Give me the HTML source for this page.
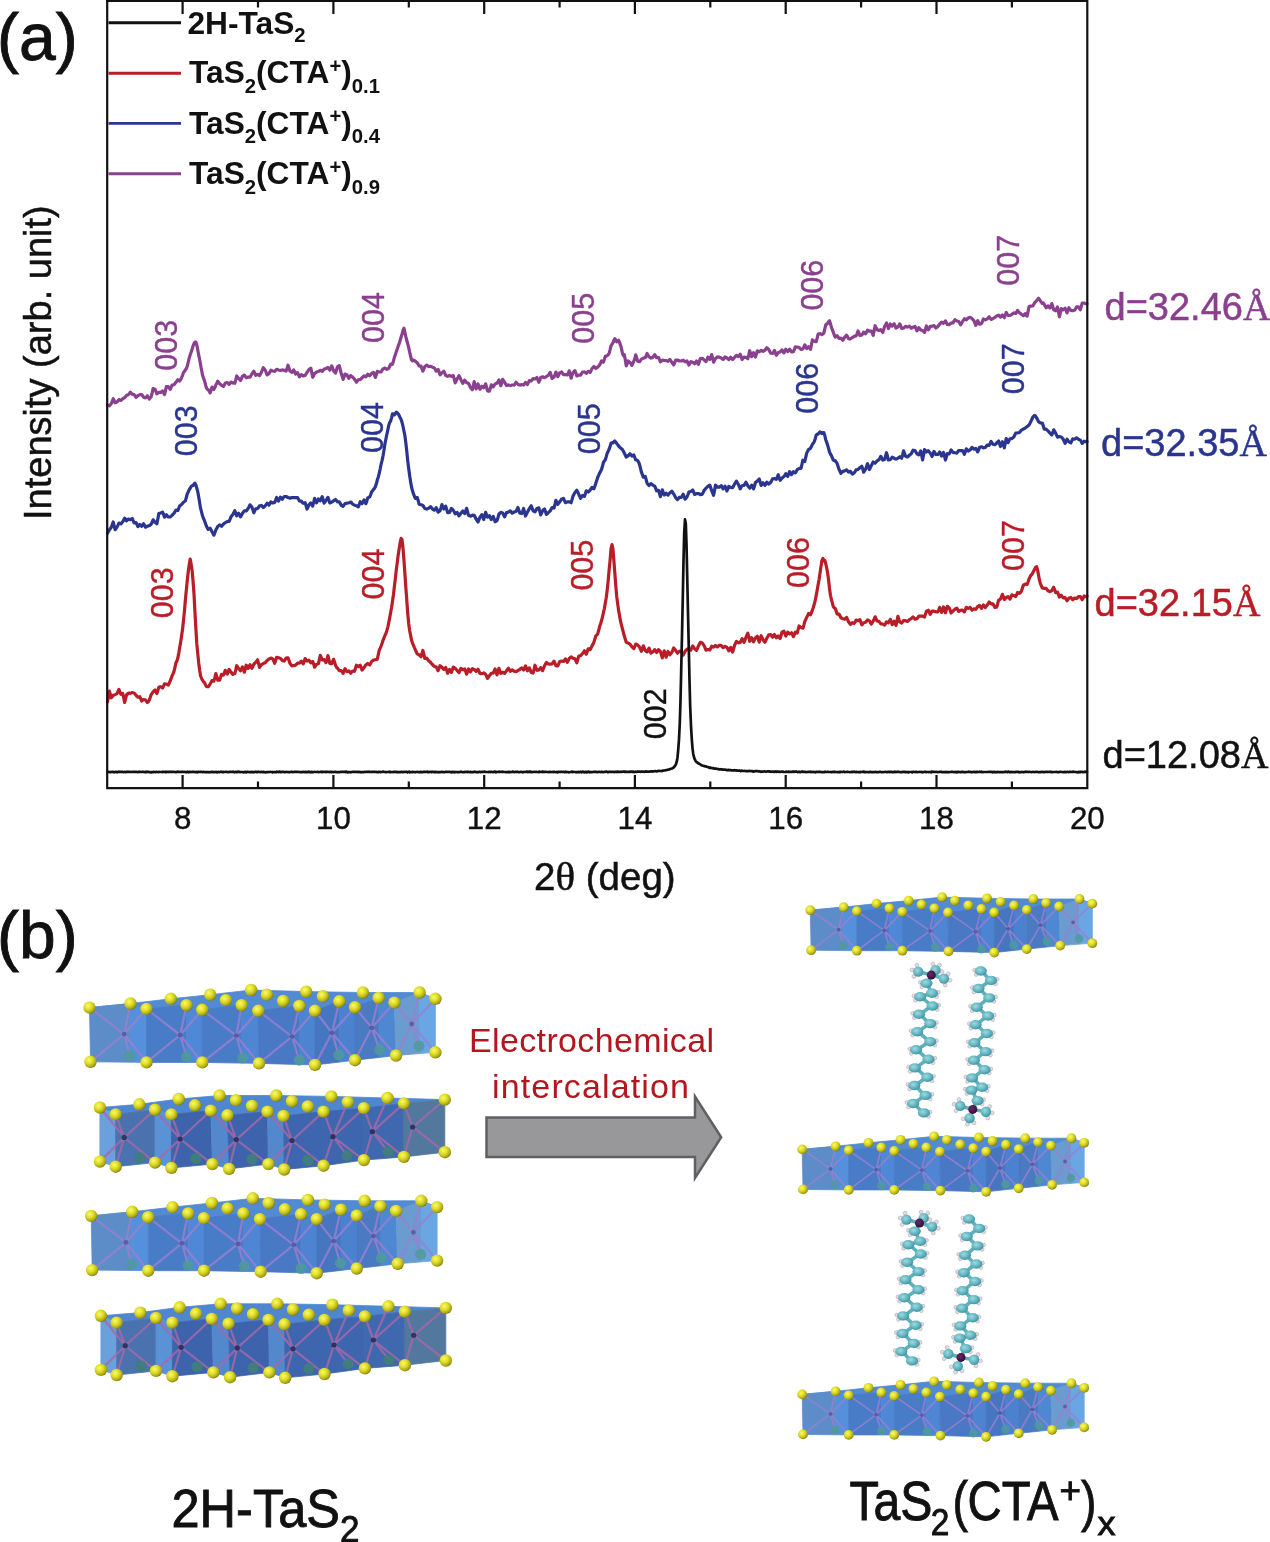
<!DOCTYPE html>
<html><head><meta charset="utf-8"><title>XRD patterns and intercalation schematic</title>
<style>
html,body{margin:0;padding:0;background:#fff;}
body{width:1270px;height:1542px;overflow:hidden;font-family:"Liberation Sans",sans-serif;}
svg{display:block;position:absolute;left:0;top:0;}
svg text{font-family:"Liberation Sans",sans-serif;}
</style></head><body>
<svg width="1270" height="1542" viewBox="0 0 1270 1542">
<rect width="1270" height="1542" fill="#fff"/>
<g fill="none" stroke-linejoin="round" stroke-linecap="round">
<path d="M107.5 405.3L108.5 405.5L109.4 405.8L110.4 404.7L111.3 403.6L112.3 401.1L113.2 398.7L114.2 400.8L115.1 402.8L116.1 402.4L117.0 402.0L118.0 400.8L118.9 399.6L119.9 400.0L120.8 400.4L121.8 399.6L122.7 398.8L123.7 398.2L124.6 397.7L125.6 396.6L126.5 395.5L127.5 395.1L128.4 394.6L129.4 393.4L130.3 392.2L131.3 393.2L132.2 394.2L133.2 394.4L134.1 394.6L135.1 396.0L136.0 397.4L137.0 396.5L137.9 395.6L138.9 395.2L139.8 394.7L140.8 394.7L141.7 394.6L142.7 395.9L143.6 397.2L144.6 397.6L145.5 397.9L146.5 396.9L147.4 395.8L148.4 397.4L149.3 399.0L150.3 397.8L151.2 396.7L152.2 392.7L153.1 388.6L154.1 388.9L155.0 389.2L156.0 391.5L156.9 393.8L157.9 393.1L158.8 392.4L159.8 392.4L160.7 392.4L161.7 391.6L162.6 390.9L163.6 392.7L164.5 394.5L165.5 390.6L166.4 386.6L167.4 386.6L168.3 386.7L169.3 388.0L170.2 389.4L171.2 387.2L172.1 385.0L173.1 384.9L174.0 384.7L175.0 383.5L175.9 382.2L176.9 381.0L177.8 379.8L178.8 380.5L179.7 381.0L180.7 379.4L181.6 377.8L182.6 375.2L183.5 372.6L184.5 371.3L185.4 369.9L186.4 368.5L187.3 365.9L188.3 362.0L189.2 358.0L190.2 354.8L191.1 352.3L192.1 349.2L193.0 346.1L194.0 343.6L194.9 342.2L195.9 342.1L196.8 345.0L197.8 350.0L198.7 355.2L199.7 359.7L200.6 365.0L201.6 370.3L202.5 375.1L203.5 378.1L204.4 380.3L205.4 384.0L206.3 387.6L207.3 389.2L208.2 389.6L209.2 391.3L210.1 392.9L211.1 390.1L212.0 387.1L213.0 388.3L213.9 389.4L214.9 387.3L215.8 385.1L216.8 383.1L217.7 381.1L218.7 382.4L219.6 383.7L220.6 384.5L221.5 385.3L222.5 385.9L223.4 386.4L224.4 384.7L225.3 383.0L226.3 382.8L227.2 382.6L228.2 383.4L229.1 384.3L230.1 383.2L231.0 382.1L232.0 382.5L232.9 383.0L233.9 383.1L234.8 383.2L235.8 379.6L236.7 376.0L237.7 377.2L238.6 378.3L239.6 379.4L240.5 380.5L241.5 378.5L242.4 376.4L243.4 375.7L244.3 375.1L245.3 376.4L246.2 377.7L247.2 377.4L248.1 377.1L249.1 377.1L250.0 377.2L251.0 375.5L251.9 373.8L252.9 372.5L253.8 371.2L254.8 373.3L255.7 375.3L256.7 374.8L257.6 374.3L258.6 375.0L259.5 375.6L260.5 373.9L261.4 372.2L262.4 369.9L263.3 367.7L264.3 368.9L265.2 370.1L266.2 372.5L267.1 374.9L268.1 374.2L269.0 373.6L270.0 371.9L270.9 370.2L271.9 370.6L272.8 371.0L273.8 371.2L274.7 371.4L275.7 370.4L276.6 369.3L277.6 369.6L278.5 370.0L279.5 370.2L280.4 370.4L281.4 370.2L282.3 369.9L283.3 370.0L284.2 370.2L285.2 370.7L286.1 371.1L287.1 368.2L288.0 365.2L289.0 368.1L289.9 370.9L290.9 371.6L291.8 372.4L292.8 371.2L293.7 369.9L294.7 372.0L295.6 374.0L296.6 373.3L297.5 372.6L298.5 374.7L299.4 376.8L300.4 375.7L301.3 374.7L302.3 375.3L303.2 375.9L304.2 375.6L305.1 375.4L306.1 373.8L307.0 372.2L308.0 370.9L308.9 369.6L309.9 368.9L310.8 368.1L311.8 372.7L312.7 377.3L313.7 375.4L314.6 373.6L315.6 372.8L316.5 372.0L317.5 371.7L318.4 371.5L319.4 370.9L320.3 370.3L321.3 370.8L322.2 371.3L323.2 370.2L324.1 369.2L325.1 368.8L326.0 368.5L327.0 368.0L327.9 367.5L328.9 368.8L329.8 370.2L330.8 368.1L331.7 365.9L332.7 368.4L333.6 370.8L334.6 371.9L335.5 373.1L336.5 369.9L337.4 366.9L338.4 366.1L339.3 365.7L340.3 369.7L341.2 373.5L342.2 376.4L343.1 379.4L344.1 376.7L345.0 374.1L346.0 374.5L346.9 374.8L347.9 376.6L348.8 378.3L349.8 377.1L350.7 375.6L351.7 376.4L352.6 377.1L353.6 378.1L354.5 379.2L355.5 380.7L356.4 382.2L357.4 381.0L358.3 379.8L359.3 379.7L360.2 379.6L361.2 378.6L362.1 377.7L363.1 376.8L364.0 375.9L365.0 376.3L365.9 376.8L366.9 375.5L367.8 374.2L368.8 375.0L369.7 375.7L370.7 374.6L371.6 373.5L372.6 373.0L373.5 372.4L374.5 374.9L375.4 377.4L376.4 374.4L377.3 371.4L378.3 371.7L379.2 372.0L380.2 372.0L381.1 372.0L382.1 370.4L383.0 368.9L384.0 368.5L384.9 368.0L385.9 368.7L386.8 369.3L387.8 368.9L388.7 368.4L389.7 366.3L390.6 364.2L391.6 364.4L392.5 364.2L393.5 360.7L394.4 357.3L395.4 354.6L396.3 351.6L397.3 348.8L398.2 346.0L399.2 343.6L400.1 340.5L401.1 337.1L402.0 334.3L403.0 330.8L403.9 328.2L404.9 332.4L405.8 336.7L406.8 340.5L407.7 343.7L408.7 347.6L409.6 351.9L410.6 356.0L411.5 359.8L412.5 360.9L413.4 360.0L414.4 360.6L415.3 361.2L416.3 362.0L417.2 362.7L418.2 364.3L419.1 365.9L420.1 366.1L421.0 366.2L422.0 368.7L422.9 371.2L423.9 368.8L424.8 366.5L425.8 365.8L426.7 365.1L427.7 365.9L428.6 366.6L429.6 366.4L430.5 366.3L431.5 366.7L432.4 367.2L433.4 367.5L434.3 367.9L435.3 369.5L436.2 371.2L437.2 370.3L438.1 369.4L439.1 372.1L440.0 374.8L441.0 373.8L441.9 372.7L442.9 372.0L443.8 371.3L444.8 373.3L445.7 375.4L446.7 375.8L447.6 376.3L448.6 375.9L449.5 375.5L450.5 375.9L451.4 376.3L452.4 375.9L453.3 375.6L454.3 379.3L455.2 382.9L456.2 380.9L457.1 378.9L458.1 377.3L459.0 375.6L460.0 377.7L460.9 379.7L461.9 381.5L462.8 383.3L463.8 381.8L464.7 380.1L465.7 381.4L466.6 382.7L467.6 383.0L468.5 383.4L469.5 385.4L470.4 387.4L471.4 388.6L472.3 389.7L473.3 385.7L474.2 381.6L475.2 385.3L476.1 388.9L477.1 386.4L478.0 384.0L479.0 386.6L479.9 389.3L480.9 387.8L481.8 386.3L482.8 387.0L483.7 387.7L484.7 385.8L485.6 383.8L486.6 387.4L487.5 390.9L488.5 391.1L489.4 391.2L490.4 388.1L491.3 384.9L492.3 385.9L493.2 386.8L494.2 385.4L495.1 384.0L496.1 383.6L497.0 383.3L498.0 381.6L498.9 379.9L499.9 382.7L500.8 385.7L501.8 382.5L502.7 379.3L503.7 380.8L504.6 382.3L505.6 383.9L506.5 385.5L507.5 385.2L508.4 384.9L509.4 385.3L510.3 385.6L511.3 385.3L512.2 385.0L513.2 385.0L514.1 385.1L515.1 383.7L516.0 382.3L517.0 383.3L517.9 384.2L518.9 384.7L519.8 385.1L520.8 384.9L521.7 384.6L522.7 384.8L523.6 385.1L524.6 383.7L525.5 382.4L526.5 383.5L527.4 384.5L528.4 382.6L529.3 380.6L530.3 380.8L531.2 381.0L532.2 379.7L533.1 378.5L534.1 378.8L535.0 379.0L536.0 378.2L536.9 377.5L537.9 379.9L538.8 382.3L539.8 380.0L540.7 377.6L541.7 377.2L542.6 376.8L543.6 377.3L544.5 377.7L545.5 377.1L546.4 376.5L547.4 375.9L548.3 375.4L549.3 373.9L550.2 372.4L551.2 375.4L552.1 378.5L553.1 377.8L554.0 377.1L555.0 374.6L555.9 372.1L556.9 374.4L557.8 376.7L558.8 374.7L559.7 372.8L560.7 372.4L561.6 372.0L562.6 373.4L563.5 374.7L564.5 374.6L565.4 374.6L566.4 374.8L567.3 375.0L568.3 372.9L569.2 370.8L570.2 374.5L571.1 378.2L572.1 375.3L573.0 372.4L574.0 371.5L574.9 370.6L575.9 373.2L576.8 375.9L577.8 375.5L578.7 375.1L579.7 375.2L580.6 375.2L581.6 373.7L582.5 372.1L583.5 372.0L584.4 371.9L585.4 372.6L586.3 373.4L587.3 372.4L588.2 371.4L589.2 371.9L590.1 372.4L591.1 370.5L592.0 368.6L593.0 367.5L593.9 366.4L594.9 367.5L595.8 368.5L596.8 367.8L597.7 367.0L598.7 366.1L599.6 365.0L600.6 363.0L601.5 361.0L602.5 361.6L603.4 362.2L604.4 359.3L605.3 356.3L606.3 356.1L607.2 355.7L608.2 354.7L609.1 353.2L610.1 349.6L611.0 345.9L612.0 344.2L612.9 342.8L613.9 340.5L614.8 338.6L615.8 340.0L616.7 341.9L617.7 340.8L618.6 340.3L619.6 342.6L620.5 345.1L621.5 348.6L622.4 353.0L623.4 355.6L624.3 354.6L625.3 359.8L626.2 365.8L627.2 363.7L628.1 361.0L629.1 361.8L630.0 362.4L631.0 363.9L631.9 365.4L632.9 363.4L633.8 361.4L634.8 358.1L635.7 354.8L636.7 358.0L637.6 361.0L638.6 361.4L639.5 361.7L640.5 360.4L641.4 359.1L642.4 358.6L643.3 358.1L644.3 357.9L645.2 357.7L646.2 355.6L647.1 353.5L648.1 355.2L649.0 356.9L650.0 357.5L650.9 358.1L651.9 357.7L652.8 357.4L653.8 356.0L654.7 354.6L655.7 356.1L656.6 357.6L657.6 357.5L658.5 357.5L659.5 359.7L660.4 361.9L661.4 361.0L662.3 360.1L663.3 360.3L664.2 360.5L665.2 360.5L666.1 360.5L667.1 360.9L668.0 361.3L669.0 360.4L669.9 359.5L670.9 360.9L671.8 362.3L672.8 363.6L673.7 365.0L674.7 362.6L675.6 360.2L676.6 360.1L677.5 360.1L678.5 360.5L679.4 361.0L680.4 361.0L681.3 361.0L682.3 360.6L683.2 360.2L684.2 361.0L685.1 361.8L686.1 361.4L687.0 361.0L688.0 363.0L688.9 365.0L689.9 363.4L690.8 361.7L691.8 361.9L692.7 362.2L693.7 363.0L694.6 363.7L695.6 362.4L696.5 361.0L697.5 362.7L698.4 364.3L699.4 361.5L700.3 358.6L701.3 358.5L702.2 358.3L703.2 359.1L704.1 359.9L705.1 360.7L706.0 361.5L707.0 359.3L707.9 357.2L708.9 358.3L709.8 359.4L710.8 357.0L711.7 354.6L712.7 358.4L713.6 362.1L714.6 360.3L715.5 358.6L716.5 357.7L717.4 356.9L718.4 357.1L719.3 357.2L720.3 357.6L721.2 358.0L722.2 358.8L723.1 359.5L724.1 358.2L725.0 357.0L726.0 357.5L726.9 358.0L727.9 358.8L728.8 359.6L729.8 358.5L730.7 357.3L731.7 358.4L732.6 359.5L733.6 358.5L734.5 357.5L735.5 356.4L736.4 355.4L737.4 356.0L738.3 356.6L739.3 355.4L740.2 354.3L741.2 356.9L742.1 359.5L743.1 358.2L744.0 357.0L745.0 357.2L745.9 357.4L746.9 358.0L747.8 358.7L748.8 354.7L749.7 350.7L750.7 353.8L751.6 356.7L752.6 354.7L753.5 352.6L754.5 354.8L755.4 357.0L756.4 354.0L757.3 350.9L758.3 351.3L759.2 351.8L760.2 351.1L761.1 350.4L762.1 350.8L763.0 351.3L764.0 350.8L764.9 350.4L765.9 349.0L766.8 347.8L767.8 348.6L768.7 349.4L769.7 351.3L770.6 353.1L771.6 353.3L772.5 353.5L773.5 352.1L774.4 350.4L775.4 352.9L776.3 355.3L777.3 354.0L778.2 352.6L779.2 352.3L780.1 351.9L781.1 350.9L782.0 350.0L783.0 351.4L783.9 352.9L784.9 351.0L785.8 349.2L786.8 350.4L787.7 351.6L788.7 350.4L789.6 349.1L790.6 350.5L791.5 351.9L792.5 351.8L793.4 351.7L794.4 349.3L795.3 346.9L796.3 347.0L797.2 347.1L798.2 347.3L799.1 347.5L800.1 348.5L801.0 349.5L802.0 349.2L802.9 348.8L803.9 346.9L804.8 344.9L805.8 346.7L806.7 348.5L807.7 347.6L808.6 346.7L809.6 348.1L810.5 349.4L811.5 344.6L812.4 339.9L813.4 340.6L814.3 341.2L815.3 341.5L816.2 341.7L817.2 337.9L818.1 334.1L819.1 333.9L820.0 333.6L821.0 334.1L821.9 334.6L822.9 333.9L823.8 333.0L824.8 328.9L825.7 325.0L826.7 324.0L827.6 323.5L828.6 321.7L829.5 320.8L830.5 323.9L831.4 327.3L832.4 329.9L833.3 332.3L834.3 335.2L835.2 337.2L836.2 336.5L837.1 335.6L838.1 337.0L839.0 338.3L840.0 338.3L840.9 338.2L841.9 339.2L842.8 340.3L843.8 338.7L844.7 337.1L845.7 336.1L846.6 335.1L847.6 336.9L848.5 338.7L849.5 338.8L850.4 338.8L851.4 338.2L852.3 337.7L853.3 336.9L854.2 336.2L855.2 336.1L856.1 336.0L857.1 333.5L858.0 331.0L859.0 333.2L859.9 335.5L860.9 335.2L861.8 335.0L862.8 333.6L863.7 332.2L864.7 333.0L865.6 333.8L866.6 331.9L867.5 330.1L868.5 330.6L869.4 331.1L870.4 331.1L871.3 331.0L872.3 333.1L873.2 335.3L874.2 330.5L875.1 325.7L876.1 327.7L877.0 329.7L878.0 330.1L878.9 330.5L879.9 330.1L880.8 329.7L881.8 331.1L882.7 332.5L883.7 329.4L884.6 326.4L885.6 324.7L886.5 323.0L887.5 325.8L888.4 328.6L889.4 326.3L890.3 324.0L891.3 325.1L892.2 326.1L893.2 324.9L894.1 323.7L895.1 325.9L896.0 328.1L897.0 327.5L897.9 326.9L898.9 325.4L899.8 323.9L900.8 326.1L901.7 328.3L902.7 328.2L903.6 328.1L904.6 327.2L905.5 326.3L906.5 326.7L907.4 327.1L908.4 326.6L909.3 326.1L910.3 327.1L911.2 328.2L912.2 327.7L913.1 327.2L914.1 326.8L915.0 326.4L916.0 328.6L916.9 330.8L917.9 329.3L918.8 327.7L919.8 328.8L920.7 329.9L921.7 330.2L922.6 330.5L923.6 331.5L924.5 332.4L925.5 329.2L926.4 326.0L927.4 328.0L928.3 329.9L929.3 328.2L930.2 326.4L931.2 326.3L932.1 326.2L933.1 325.9L934.0 325.6L935.0 326.8L935.9 328.0L936.9 327.2L937.8 326.5L938.8 325.2L939.7 324.0L940.7 323.1L941.6 322.1L942.6 322.7L943.5 323.3L944.5 322.1L945.4 320.9L946.4 322.7L947.3 324.5L948.3 324.5L949.2 324.6L950.2 323.8L951.1 323.1L952.1 322.9L953.0 322.8L954.0 321.2L954.9 319.7L955.9 320.4L956.8 321.0L957.8 321.3L958.7 321.6L959.7 323.2L960.6 324.8L961.6 323.3L962.5 321.7L963.5 320.2L964.4 318.7L965.4 319.3L966.3 319.9L967.3 318.9L968.2 318.0L969.2 317.6L970.1 317.3L971.1 317.9L972.0 318.6L973.0 319.6L973.9 320.7L974.9 323.0L975.8 325.3L976.8 323.0L977.7 320.7L978.7 322.5L979.6 324.2L980.6 323.9L981.5 323.6L982.5 321.3L983.4 318.9L984.4 319.4L985.3 319.9L986.3 319.4L987.2 319.0L988.2 317.9L989.1 316.8L990.1 318.1L991.0 319.4L992.0 319.0L992.9 318.6L993.9 318.0L994.8 317.4L995.8 316.7L996.7 315.9L997.7 315.5L998.6 315.1L999.6 316.1L1000.5 317.0L1001.5 316.0L1002.4 315.0L1003.4 316.3L1004.3 317.7L1005.3 315.1L1006.2 312.4L1007.2 314.0L1008.1 315.5L1009.1 315.5L1010.0 315.5L1011.0 314.9L1011.9 314.3L1012.9 313.6L1013.8 312.9L1014.8 313.2L1015.7 313.5L1016.7 312.0L1017.6 310.4L1018.6 311.7L1019.5 312.8L1020.5 313.6L1021.4 314.3L1022.4 315.0L1023.3 315.7L1024.3 314.7L1025.2 313.6L1026.2 315.5L1027.1 316.1L1028.1 311.3L1029.0 306.8L1030.0 306.1L1030.9 306.1L1031.9 306.0L1032.8 305.9L1033.8 304.2L1034.7 302.6L1035.7 301.6L1036.6 300.6L1037.6 299.4L1038.5 298.3L1039.5 299.6L1040.4 301.0L1041.4 302.2L1042.3 303.5L1043.3 302.9L1044.2 304.1L1045.2 306.2L1046.1 307.7L1047.1 307.1L1048.0 305.9L1049.0 307.0L1049.9 308.1L1050.9 305.8L1051.8 303.6L1052.8 306.6L1053.7 309.7L1054.7 310.2L1055.6 310.7L1056.6 308.8L1057.5 307.0L1058.5 311.9L1059.4 316.8L1060.4 312.7L1061.3 308.6L1062.3 309.3L1063.2 309.9L1064.2 309.0L1065.1 308.1L1066.1 310.5L1067.0 312.9L1068.0 310.3L1068.9 307.7L1069.9 309.1L1070.8 310.5L1071.8 310.6L1072.7 310.7L1073.7 310.5L1074.6 310.3L1075.6 308.6L1076.5 306.9L1077.5 306.9L1078.4 306.8L1079.4 308.3L1080.3 309.8L1081.3 306.4L1082.2 303.1L1083.2 303.0L1084.1 303.0L1085.1 303.4L1086.0 303.7L1087.0 303.7" stroke="#8b3f8f" stroke-width="3.2"/>
<path d="M107.5 533.2L108.5 531.5L109.4 529.8L110.4 528.5L111.3 527.2L112.3 524.5L113.2 521.9L114.2 525.8L115.1 529.7L116.1 528.4L117.0 527.1L118.0 525.1L118.9 523.1L119.9 523.5L120.8 523.9L121.8 522.8L122.7 521.8L123.7 519.9L124.6 518.1L125.6 519.4L126.5 520.8L127.5 519.8L128.4 519.0L129.4 519.3L130.3 519.7L131.3 519.1L132.2 518.5L133.2 520.6L134.1 522.8L135.1 522.7L136.0 522.6L137.0 524.5L137.9 526.5L138.9 525.5L139.8 524.5L140.8 525.4L141.7 526.2L142.7 525.0L143.6 523.7L144.6 525.5L145.5 527.2L146.5 526.7L147.4 526.2L148.4 525.9L149.3 525.6L150.3 524.9L151.2 524.2L152.2 522.0L153.1 519.8L154.1 521.0L155.0 522.2L156.0 523.0L156.9 523.8L157.9 518.7L158.8 513.6L159.8 513.2L160.7 512.9L161.7 512.5L162.6 512.1L163.6 514.6L164.5 517.2L165.5 516.0L166.4 514.8L167.4 515.9L168.3 517.0L169.3 517.0L170.2 517.0L171.2 516.1L172.1 515.2L173.1 514.3L174.0 513.3L175.0 511.7L175.9 510.1L176.9 510.4L177.8 510.5L178.8 508.2L179.7 505.9L180.7 505.2L181.6 504.3L182.6 503.3L183.5 502.2L184.5 501.5L185.4 500.8L186.4 497.2L187.3 493.7L188.3 491.7L189.2 489.7L190.2 488.3L191.1 486.6L192.1 485.8L193.0 485.5L194.0 484.1L194.9 483.2L195.9 485.0L196.8 488.1L197.8 491.9L198.7 497.0L199.7 503.0L200.6 508.4L201.6 512.1L202.5 515.8L203.5 518.5L204.4 520.4L205.4 523.3L206.3 525.9L207.3 527.7L208.2 529.4L209.2 528.9L210.1 528.2L211.1 530.0L212.0 531.8L213.0 533.5L213.9 535.2L214.9 532.7L215.8 530.0L216.8 528.3L217.7 526.5L218.7 525.7L219.6 524.9L220.6 525.6L221.5 526.3L222.5 525.2L223.4 524.1L224.4 523.4L225.3 522.6L226.3 522.1L227.2 521.5L228.2 521.4L229.1 521.3L230.1 519.1L231.0 516.8L232.0 515.6L232.9 514.4L233.9 512.6L234.8 510.7L235.8 513.3L236.7 515.9L237.7 514.5L238.6 513.2L239.6 515.0L240.5 516.9L241.5 515.2L242.4 513.4L243.4 512.1L244.3 510.8L245.3 510.9L246.2 511.0L247.2 509.7L248.1 508.5L249.1 506.7L250.0 504.8L251.0 506.0L251.9 507.1L252.9 509.9L253.8 512.8L254.8 510.8L255.7 508.8L256.7 508.7L257.6 508.5L258.6 507.3L259.5 505.9L260.5 505.7L261.4 505.4L262.4 506.5L263.3 507.6L264.3 506.7L265.2 505.8L266.2 504.6L267.1 503.3L268.1 504.2L269.0 505.1L270.0 503.5L270.9 501.9L271.9 502.5L272.8 503.0L273.8 502.7L274.7 502.3L275.7 499.9L276.6 497.5L277.6 499.3L278.5 501.1L279.5 499.1L280.4 497.1L281.4 498.1L282.3 499.2L283.3 497.8L284.2 496.6L285.2 496.5L286.1 496.5L287.1 497.0L288.0 497.5L289.0 497.8L289.9 498.2L290.9 497.9L291.8 497.5L292.8 497.6L293.7 497.7L294.7 497.7L295.6 497.7L296.6 497.6L297.5 497.5L298.5 499.3L299.4 501.0L300.4 501.1L301.3 501.2L302.3 502.3L303.2 503.3L304.2 503.0L305.1 502.6L306.1 505.8L307.0 509.0L308.0 507.0L308.9 504.9L309.9 503.9L310.8 502.9L311.8 504.5L312.7 506.1L313.7 502.2L314.6 498.3L315.6 500.6L316.5 502.8L317.5 500.9L318.4 499.0L319.4 499.9L320.3 500.7L321.3 498.7L322.2 496.7L323.2 499.9L324.1 503.1L325.1 501.8L326.0 500.5L327.0 498.9L327.9 497.4L328.9 500.1L329.8 502.9L330.8 502.5L331.7 502.1L332.7 501.5L333.6 500.8L334.6 500.2L335.5 499.5L336.5 500.6L337.4 501.8L338.4 501.8L339.3 501.8L340.3 503.5L341.2 505.3L342.2 505.8L343.1 506.3L344.1 504.9L345.0 503.6L346.0 503.4L346.9 503.3L347.9 503.0L348.8 502.8L349.8 502.4L350.7 502.0L351.7 503.0L352.6 504.1L353.6 504.6L354.5 505.0L355.5 505.4L356.4 505.7L357.4 506.3L358.3 506.8L359.3 504.3L360.2 501.7L361.2 502.6L362.1 503.5L363.1 501.7L364.0 499.9L365.0 502.0L365.9 503.7L366.9 500.7L367.8 497.8L368.8 497.4L369.7 496.9L370.7 494.5L371.6 492.1L372.6 490.8L373.5 489.4L374.5 488.3L375.4 486.7L376.4 483.6L377.3 480.1L378.3 476.9L379.2 473.4L380.2 468.8L381.1 464.1L382.1 460.4L383.0 456.0L384.0 450.1L384.9 444.0L385.9 439.0L386.8 434.7L387.8 430.1L388.7 425.5L389.7 422.5L390.6 421.1L391.6 417.6L392.5 413.8L393.5 413.8L394.4 414.9L395.4 413.5L396.3 412.2L397.3 412.8L398.2 413.9L399.2 415.6L400.1 417.5L401.1 419.4L402.0 422.3L403.0 426.3L403.9 430.8L404.9 435.8L405.8 442.6L406.8 451.4L407.7 460.6L408.7 468.5L409.6 475.3L410.6 481.8L411.5 487.0L412.5 490.8L413.4 493.7L414.4 496.2L415.3 498.4L416.3 498.4L417.2 497.4L418.2 500.7L419.1 504.2L420.1 504.5L421.0 504.7L422.0 505.1L422.9 505.5L423.9 507.0L424.8 508.5L425.8 508.8L426.7 509.1L427.7 508.6L428.6 508.2L429.6 507.4L430.5 506.7L431.5 507.8L432.4 508.9L433.4 509.6L434.3 510.2L435.3 508.9L436.2 507.6L437.2 509.9L438.1 512.2L439.1 511.5L440.0 510.8L441.0 507.7L441.9 504.6L442.9 506.8L443.8 509.0L444.8 507.6L445.7 506.2L446.7 509.4L447.6 512.7L448.6 512.6L449.5 512.5L450.5 510.5L451.4 508.4L452.4 509.3L453.3 510.3L454.3 512.0L455.2 513.8L456.2 513.1L457.1 512.5L458.1 514.2L459.0 515.9L460.0 514.5L460.9 513.2L461.9 512.1L462.8 511.0L463.8 512.3L464.7 513.6L465.7 511.0L466.6 508.3L467.6 511.8L468.5 515.3L469.5 515.7L470.4 516.2L471.4 515.7L472.3 515.2L473.3 515.3L474.2 515.4L475.2 517.2L476.1 519.0L477.1 520.5L478.0 522.0L479.0 519.7L479.9 517.4L480.9 516.0L481.8 514.6L482.8 517.0L483.7 519.5L484.7 515.9L485.6 512.3L486.6 514.8L487.5 517.2L488.5 516.4L489.4 515.6L490.4 517.6L491.3 519.6L492.3 518.0L493.2 516.4L494.2 519.1L495.1 521.8L496.1 521.2L497.0 520.6L498.0 517.4L498.9 514.2L499.9 513.3L500.8 512.3L501.8 512.8L502.7 513.1L503.7 515.0L504.6 516.9L505.6 514.7L506.5 512.6L507.5 512.4L508.4 512.1L509.4 511.5L510.3 511.0L511.3 512.0L512.2 513.2L513.2 512.6L514.1 512.0L515.1 511.7L516.0 511.5L517.0 509.4L517.9 507.4L518.9 510.3L519.8 513.1L520.8 513.3L521.7 513.6L522.7 511.1L523.6 508.5L524.6 512.3L525.5 516.0L526.5 514.1L527.4 512.2L528.4 510.4L529.3 508.7L530.3 507.3L531.2 505.8L532.2 508.3L533.1 510.8L534.1 511.3L535.0 511.8L536.0 510.2L536.9 508.6L537.9 508.2L538.8 507.8L539.8 511.4L540.7 514.9L541.7 512.8L542.6 510.7L543.6 509.8L544.5 508.9L545.5 511.7L546.4 514.4L547.4 513.5L548.3 512.6L549.3 511.7L550.2 510.8L551.2 509.2L552.1 507.5L553.1 507.7L554.0 508.0L555.0 504.2L555.9 500.4L556.9 502.3L557.8 504.3L558.8 503.1L559.7 501.8L560.7 500.5L561.6 499.1L562.6 498.8L563.5 498.4L564.5 500.6L565.4 502.7L566.4 502.3L567.3 501.9L568.3 501.8L569.2 501.8L570.2 502.2L571.1 502.7L572.1 499.4L573.0 496.1L574.0 494.3L574.9 492.5L575.9 491.4L576.8 490.3L577.8 492.2L578.7 494.2L579.7 496.2L580.6 498.3L581.6 496.9L582.5 495.5L583.5 496.0L584.4 496.4L585.4 493.6L586.3 490.8L587.3 491.4L588.2 492.0L589.2 491.1L590.1 490.1L591.1 488.8L592.0 487.4L593.0 488.5L593.9 488.8L594.9 486.0L595.8 483.2L596.8 480.3L597.7 477.3L598.7 475.2L599.6 473.1L600.6 471.4L601.5 469.5L602.5 466.0L603.4 462.5L604.4 461.0L605.3 459.8L606.3 456.5L607.2 453.2L608.2 451.2L609.1 449.3L610.1 446.3L611.0 443.3L612.0 442.8L612.9 442.9L613.9 441.8L614.8 441.0L615.8 442.2L616.7 443.5L617.7 444.7L618.6 446.0L619.6 447.0L620.5 448.0L621.5 448.7L622.4 449.5L623.4 451.3L624.3 453.1L625.3 455.0L626.2 457.0L627.2 456.4L628.1 455.8L629.1 454.8L630.0 453.7L631.0 454.9L631.9 456.1L632.9 455.5L633.8 455.0L634.8 457.5L635.7 460.0L636.7 459.9L637.6 460.6L638.6 462.1L639.5 464.4L640.5 468.4L641.4 472.1L642.4 474.6L643.3 477.1L644.3 477.0L645.2 476.4L646.2 479.8L647.1 483.2L648.1 484.5L649.0 485.5L650.0 484.6L650.9 483.6L651.9 484.3L652.8 485.1L653.8 485.7L654.7 486.2L655.7 488.5L656.6 490.8L657.6 490.6L658.5 490.3L659.5 493.5L660.4 496.6L661.4 493.2L662.3 489.8L663.3 492.5L664.2 495.1L665.2 494.2L666.1 493.2L667.1 494.2L668.0 495.1L669.0 493.9L669.9 492.8L670.9 492.0L671.8 491.3L672.8 492.6L673.7 494.0L674.7 495.8L675.6 497.6L676.6 498.6L677.5 499.6L678.5 498.4L679.4 497.3L680.4 497.3L681.3 497.4L682.3 495.9L683.2 494.3L684.2 496.8L685.1 499.2L686.1 498.1L687.0 496.9L688.0 494.5L688.9 492.1L689.9 491.7L690.8 491.4L691.8 490.7L692.7 490.0L693.7 492.2L694.6 494.4L695.6 494.0L696.5 493.6L697.5 493.6L698.4 493.5L699.4 494.0L700.3 494.6L701.3 494.4L702.2 494.3L703.2 492.4L704.1 490.4L705.1 489.3L706.0 488.1L707.0 487.2L707.9 486.3L708.9 485.7L709.8 485.1L710.8 488.0L711.7 490.9L712.7 493.1L713.6 495.3L714.6 490.1L715.5 485.0L716.5 486.1L717.4 487.2L718.4 487.2L719.3 487.1L720.3 486.4L721.2 485.6L722.2 487.3L723.1 488.9L724.1 487.5L725.0 486.1L726.0 488.5L726.9 491.0L727.9 488.7L728.8 486.4L729.8 487.0L730.7 487.5L731.7 487.6L732.6 487.7L733.6 485.9L734.5 484.1L735.5 482.6L736.4 481.2L737.4 482.8L738.3 484.3L739.3 486.5L740.2 488.8L741.2 487.2L742.1 485.7L743.1 485.5L744.0 485.4L745.0 483.8L745.9 482.2L746.9 484.0L747.8 485.7L748.8 486.9L749.7 488.2L750.7 486.7L751.6 485.2L752.6 487.1L753.5 488.9L754.5 485.8L755.4 482.6L756.4 481.8L757.3 481.1L758.3 480.0L759.2 478.9L760.2 482.2L761.1 485.4L762.1 484.1L763.0 482.8L764.0 484.1L764.9 485.4L765.9 483.8L766.8 482.1L767.8 483.1L768.7 484.1L769.7 483.3L770.6 482.6L771.6 480.7L772.5 478.9L773.5 478.7L774.4 478.5L775.4 479.0L776.3 479.4L777.3 477.1L778.2 474.7L779.2 477.5L780.1 480.3L781.1 479.2L782.0 478.0L783.0 477.3L783.9 476.6L784.9 475.1L785.8 473.7L786.8 475.1L787.7 476.5L788.7 474.0L789.6 471.6L790.6 473.1L791.5 474.6L792.5 473.1L793.4 471.7L794.4 472.3L795.3 472.9L796.3 471.3L797.2 469.7L798.2 469.1L799.1 468.4L800.1 468.4L801.0 468.3L802.0 464.2L802.9 460.2L803.9 460.9L804.8 461.5L805.8 457.2L806.7 453.0L807.7 451.3L808.6 449.4L809.6 448.9L810.5 448.2L811.5 446.3L812.4 444.3L813.4 443.0L814.3 441.6L815.3 438.4L816.2 435.1L817.2 434.2L818.1 434.1L819.1 432.9L820.0 432.0L821.0 432.5L821.9 433.6L822.9 432.5L823.8 432.5L824.8 435.5L825.7 439.7L826.7 442.4L827.6 445.0L828.6 448.6L829.5 452.0L830.5 454.1L831.4 455.6L832.4 457.9L833.3 460.1L834.3 460.6L835.2 460.6L836.2 462.1L837.1 463.4L838.1 466.4L839.0 469.3L840.0 471.3L840.9 473.3L841.9 472.4L842.8 471.4L843.8 471.1L844.7 470.9L845.7 470.4L846.6 469.8L847.6 471.0L848.5 472.1L849.5 471.7L850.4 471.3L851.4 472.7L852.3 474.0L853.3 473.5L854.2 472.9L855.2 471.4L856.1 469.9L857.1 469.7L858.0 469.4L859.0 468.5L859.9 467.6L860.9 467.0L861.8 466.3L862.8 469.3L863.7 472.2L864.7 470.7L865.6 469.2L866.6 466.4L867.5 463.7L868.5 466.6L869.4 469.5L870.4 467.5L871.3 465.6L872.3 463.8L873.2 462.0L874.2 462.6L875.1 463.2L876.1 462.0L877.0 460.9L878.0 460.3L878.9 459.7L879.9 458.0L880.8 456.3L881.8 458.2L882.7 460.1L883.7 459.7L884.6 459.4L885.6 456.0L886.5 452.7L887.5 456.3L888.4 460.0L889.4 459.8L890.3 459.6L891.3 458.4L892.2 457.1L893.2 457.6L894.1 458.2L895.1 458.7L896.0 459.1L897.0 458.7L897.9 458.2L898.9 457.4L899.8 456.7L900.8 457.5L901.7 458.2L902.7 454.5L903.6 450.8L904.6 453.5L905.5 456.2L906.5 456.6L907.4 457.0L908.4 456.1L909.3 455.3L910.3 454.5L911.2 453.7L912.2 451.9L913.1 450.2L914.1 450.4L915.0 450.5L916.0 452.2L916.9 453.8L917.9 454.3L918.8 454.8L919.8 452.9L920.7 450.9L921.7 455.4L922.6 460.0L923.6 454.8L924.5 449.7L925.5 450.8L926.4 452.0L927.4 451.3L928.3 450.7L929.3 451.9L930.2 453.0L931.2 454.7L932.1 456.5L933.1 453.9L934.0 451.4L935.0 453.0L935.9 454.6L936.9 454.5L937.8 454.5L938.8 453.2L939.7 452.0L940.7 454.0L941.6 456.0L942.6 454.2L943.5 452.4L944.5 456.2L945.4 460.0L946.4 456.8L947.3 453.7L948.3 453.8L949.2 453.8L950.2 451.9L951.1 450.0L952.1 451.2L953.0 452.4L954.0 452.6L954.9 452.8L955.9 453.0L956.8 453.1L957.8 451.8L958.7 450.5L959.7 450.6L960.6 450.6L961.6 450.5L962.5 450.5L963.5 452.4L964.4 454.3L965.4 451.5L966.3 448.8L967.3 449.9L968.2 451.1L969.2 450.5L970.1 449.9L971.1 448.7L972.0 447.4L973.0 448.3L973.9 449.2L974.9 448.8L975.8 448.4L976.8 450.2L977.7 451.9L978.7 449.6L979.6 447.3L980.6 447.1L981.5 446.8L982.5 447.3L983.4 447.8L984.4 447.7L985.3 447.5L986.3 446.3L987.2 445.0L988.2 445.2L989.1 445.4L990.1 443.4L991.0 441.4L992.0 442.8L992.9 444.3L993.9 444.5L994.8 444.7L995.8 443.9L996.7 443.0L997.7 442.0L998.6 441.0L999.6 443.7L1000.5 446.5L1001.5 444.1L1002.4 441.7L1003.4 444.8L1004.3 447.8L1005.3 443.2L1006.2 438.5L1007.2 440.5L1008.1 442.5L1009.1 440.6L1010.0 438.8L1011.0 438.7L1011.9 438.6L1012.9 437.8L1013.8 437.0L1014.8 435.1L1015.7 433.1L1016.7 433.0L1017.6 432.9L1018.6 432.7L1019.5 432.5L1020.5 431.3L1021.4 430.1L1022.4 429.6L1023.3 429.0L1024.3 428.6L1025.2 428.1L1026.2 427.3L1027.1 426.6L1028.1 425.8L1029.0 425.0L1030.0 423.3L1030.9 421.4L1031.9 419.3L1032.8 417.1L1033.8 416.0L1034.7 415.4L1035.7 416.3L1036.6 417.9L1037.6 419.6L1038.5 421.6L1039.5 422.4L1040.4 423.0L1041.4 423.0L1042.3 423.0L1043.3 426.1L1044.2 429.1L1045.2 429.2L1046.1 429.2L1047.1 430.1L1048.0 430.9L1049.0 432.0L1049.9 433.1L1050.9 434.0L1051.8 434.9L1052.8 432.4L1053.7 429.8L1054.7 431.4L1055.6 433.1L1056.6 435.1L1057.5 437.1L1058.5 436.8L1059.4 436.5L1060.4 436.8L1061.3 437.0L1062.3 438.1L1063.2 439.2L1064.2 441.3L1065.1 443.3L1066.1 441.3L1067.0 439.2L1068.0 440.6L1068.9 441.9L1069.9 442.4L1070.8 442.9L1071.8 440.9L1072.7 438.9L1073.7 439.0L1074.6 439.1L1075.6 438.5L1076.5 437.8L1077.5 438.6L1078.4 439.3L1079.4 439.7L1080.3 440.0L1081.3 441.7L1082.2 443.4L1083.2 442.3L1084.1 441.2L1085.1 441.4L1086.0 441.7L1087.0 441.5" stroke="#2a3590" stroke-width="3.2"/>
<path d="M107.5 702.0L108.5 696.6L109.4 691.2L110.4 694.5L111.3 697.8L112.3 696.6L113.2 695.3L114.2 695.0L115.1 694.6L116.1 694.1L117.0 693.6L118.0 691.5L118.9 689.5L119.9 691.9L120.8 694.3L121.8 693.9L122.7 693.5L123.7 698.0L124.6 702.5L125.6 698.7L126.5 695.0L127.5 694.0L128.4 693.1L129.4 693.2L130.3 693.3L131.3 692.9L132.2 692.5L133.2 692.8L134.1 693.0L135.1 694.1L136.0 695.3L137.0 696.2L137.9 697.2L138.9 697.0L139.8 696.7L140.8 698.9L141.7 701.0L142.7 700.3L143.6 699.5L144.6 699.7L145.5 699.9L146.5 701.2L147.4 702.5L148.4 701.6L149.3 700.0L150.3 697.2L151.2 694.4L152.2 693.2L153.1 691.9L154.1 690.7L155.0 690.0L156.0 691.7L156.9 693.6L157.9 690.4L158.8 687.2L159.8 686.9L160.7 686.7L161.7 687.4L162.6 688.1L163.6 686.0L164.5 683.8L165.5 684.0L166.4 684.0L167.4 684.6L168.3 685.0L169.3 683.1L170.2 680.9L171.2 678.4L172.1 675.7L173.1 673.7L174.0 671.4L175.0 667.1L175.9 662.9L176.9 661.1L177.8 658.2L178.8 653.1L179.7 647.6L180.7 641.9L181.6 635.7L182.6 629.1L183.5 620.4L184.5 610.3L185.4 599.7L186.4 589.4L187.3 580.2L188.3 571.3L189.2 564.8L190.2 559.1L191.1 564.0L192.1 570.5L193.0 580.5L194.0 593.8L194.9 611.2L195.9 629.1L196.8 643.7L197.8 653.9L198.7 663.0L199.7 670.5L200.6 676.0L201.6 678.5L202.5 680.2L203.5 681.7L204.4 682.4L205.4 684.6L206.3 686.4L207.3 686.6L208.2 686.7L209.2 685.4L210.1 684.0L211.1 682.3L212.0 680.6L213.0 680.9L213.9 681.1L214.9 677.4L215.8 673.6L216.8 676.7L217.7 680.1L218.7 680.1L219.6 680.1L220.6 677.3L221.5 674.5L222.5 674.8L223.4 675.2L224.4 672.7L225.3 670.3L226.3 672.2L227.2 674.1L228.2 671.8L229.1 669.4L230.1 670.8L231.0 672.2L232.0 673.3L232.9 674.4L233.9 673.9L234.8 673.5L235.8 669.6L236.7 665.7L237.7 667.1L238.6 668.5L239.6 669.6L240.5 670.8L241.5 668.9L242.4 667.0L243.4 669.6L244.3 672.2L245.3 668.7L246.2 665.2L247.2 666.8L248.1 668.4L249.1 666.6L250.0 664.7L251.0 666.5L251.9 668.3L252.9 666.3L253.8 664.2L254.8 663.3L255.7 662.4L256.7 661.1L257.6 659.8L258.6 663.6L259.5 667.4L260.5 666.0L261.4 664.7L262.4 664.1L263.3 663.5L264.3 663.1L265.2 662.7L266.2 661.6L267.1 660.5L268.1 659.7L269.0 658.9L270.0 658.5L270.9 658.1L271.9 658.5L272.8 658.9L273.8 661.1L274.7 663.3L275.7 660.3L276.6 657.3L277.6 657.5L278.5 657.7L279.5 658.1L280.4 658.4L281.4 659.4L282.3 660.4L283.3 660.8L284.2 661.1L285.2 659.6L286.1 658.0L287.1 657.9L288.0 657.8L289.0 660.5L289.9 663.3L290.9 664.6L291.8 665.8L292.8 665.7L293.7 665.6L294.7 665.4L295.6 665.2L296.6 664.2L297.5 663.2L298.5 663.2L299.4 663.1L300.4 662.1L301.3 661.1L302.3 662.5L303.2 663.9L304.2 661.3L305.1 658.6L306.1 659.9L307.0 661.1L308.0 660.6L308.9 660.1L309.9 661.5L310.8 662.9L311.8 662.1L312.7 661.4L313.7 664.3L314.6 667.2L315.6 665.8L316.5 664.3L317.5 664.0L318.4 663.6L319.4 659.5L320.3 655.3L321.3 657.6L322.2 660.0L323.2 659.8L324.1 659.6L325.1 661.1L326.0 662.6L327.0 659.1L327.9 655.6L328.9 659.5L329.8 663.4L330.8 663.6L331.7 663.7L332.7 661.1L333.6 659.3L334.6 662.2L335.5 665.2L336.5 667.2L337.4 668.0L338.4 669.4L339.3 670.7L340.3 670.6L341.2 670.6L342.2 672.0L343.1 673.4L344.1 671.1L345.0 668.7L346.0 670.2L346.9 671.7L347.9 671.3L348.8 670.8L349.8 672.1L350.7 673.3L351.7 672.1L352.6 671.0L353.6 671.2L354.5 671.3L355.5 668.2L356.4 665.2L357.4 665.9L358.3 666.6L359.3 665.9L360.2 665.3L361.2 667.8L362.1 670.1L363.1 668.8L364.0 667.5L365.0 666.2L365.9 664.8L366.9 664.2L367.8 663.5L368.8 664.2L369.7 664.9L370.7 663.2L371.6 661.5L372.6 660.8L373.5 660.0L374.5 659.9L375.4 659.7L376.4 659.6L377.3 659.2L378.3 654.7L379.2 650.4L380.2 648.2L381.1 646.0L382.1 643.2L383.0 640.3L384.0 638.0L384.9 635.5L385.9 633.5L386.8 630.7L387.8 627.1L388.7 622.9L389.7 617.9L390.6 612.7L391.6 607.2L392.5 601.3L393.5 594.4L394.4 586.4L395.4 578.1L396.3 569.9L397.3 562.3L398.2 554.9L399.2 548.4L400.1 542.9L401.1 538.4L402.0 539.5L403.0 548.3L403.9 559.3L404.9 573.7L405.8 587.0L406.8 600.3L407.7 613.0L408.7 623.5L409.6 630.2L410.6 635.4L411.5 640.0L412.5 643.1L413.4 645.1L414.4 647.6L415.3 649.7L416.3 651.8L417.2 653.9L418.2 654.4L419.1 654.9L420.1 655.8L421.0 656.7L422.0 653.6L422.9 650.5L423.9 654.5L424.8 658.4L425.8 658.2L426.7 658.1L427.7 659.4L428.6 660.7L429.6 661.5L430.5 662.3L431.5 663.4L432.4 664.5L433.4 665.5L434.3 666.5L435.3 666.7L436.2 666.9L437.2 668.8L438.1 670.7L439.1 668.2L440.0 665.7L441.0 666.4L441.9 667.2L442.9 668.3L443.8 669.4L444.8 668.5L445.7 667.5L446.7 670.3L447.6 673.2L448.6 671.3L449.5 669.5L450.5 670.9L451.4 672.4L452.4 669.8L453.3 667.1L454.3 667.7L455.2 668.2L456.2 669.4L457.1 670.6L458.1 671.6L459.0 672.5L460.0 670.4L460.9 668.4L461.9 669.0L462.8 669.7L463.8 669.3L464.7 669.0L465.7 671.6L466.6 674.2L467.6 671.5L468.5 668.9L469.5 670.4L470.4 671.8L471.4 670.3L472.3 668.7L473.3 669.1L474.2 669.4L475.2 670.4L476.1 671.4L477.1 670.3L478.0 669.2L479.0 671.3L479.9 673.4L480.9 673.6L481.8 673.7L482.8 673.3L483.7 672.9L484.7 673.6L485.6 674.3L486.6 676.3L487.5 678.4L488.5 677.1L489.4 675.7L490.4 674.5L491.3 673.3L492.3 673.2L493.2 673.1L494.2 671.0L495.1 669.0L496.1 672.0L497.0 674.9L498.0 671.6L498.9 668.3L499.9 670.9L500.8 673.5L501.8 672.9L502.7 672.2L503.7 672.8L504.6 673.4L505.6 672.1L506.5 670.8L507.5 669.5L508.4 668.2L509.4 669.8L510.3 671.3L511.3 670.6L512.2 669.8L513.2 670.5L514.1 671.2L515.1 671.4L516.0 671.7L517.0 671.1L517.9 670.5L518.9 670.0L519.8 669.4L520.8 668.6L521.7 667.9L522.7 669.0L523.6 670.1L524.6 668.0L525.5 665.9L526.5 668.4L527.4 670.8L528.4 669.3L529.3 667.9L530.3 670.2L531.2 672.5L532.2 672.8L533.1 673.1L534.1 669.2L535.0 665.2L536.0 667.8L536.9 670.3L537.9 670.2L538.8 670.0L539.8 668.8L540.7 667.6L541.7 669.1L542.6 670.6L543.6 668.2L544.5 665.8L545.5 664.2L546.4 662.5L547.4 663.3L548.3 664.0L549.3 664.1L550.2 664.2L551.2 664.0L552.1 663.9L553.1 662.5L554.0 661.2L555.0 663.4L555.9 665.7L556.9 665.8L557.8 665.9L558.8 663.7L559.7 661.6L560.7 661.3L561.6 661.0L562.6 661.3L563.5 661.5L564.5 660.2L565.4 658.9L566.4 660.6L567.3 662.3L568.3 660.5L569.2 658.6L570.2 657.8L571.1 656.9L572.1 657.6L573.0 658.2L574.0 658.4L574.9 658.7L575.9 660.8L576.8 662.9L577.8 659.5L578.7 656.1L579.7 655.9L580.6 655.6L581.6 654.6L582.5 653.5L583.5 652.2L584.4 650.8L585.4 652.6L586.3 654.2L587.3 651.5L588.2 648.8L589.2 649.3L590.1 649.7L591.1 647.9L592.0 645.9L593.0 644.1L593.9 642.2L594.9 639.1L595.8 635.9L596.8 635.1L597.7 633.9L598.7 630.3L599.6 626.6L600.6 623.7L601.5 620.6L602.5 617.0L603.4 612.9L604.4 608.3L605.3 603.2L606.3 597.3L607.2 590.0L608.2 580.3L609.1 570.1L610.1 560.1L611.0 548.8L612.0 544.6L612.9 548.6L613.9 560.8L614.8 572.7L615.8 586.0L616.7 596.4L617.7 603.9L618.6 610.4L619.6 616.0L620.5 621.0L621.5 625.1L622.4 628.7L623.4 632.5L624.3 636.1L625.3 639.3L626.2 642.1L627.2 642.8L628.1 643.0L629.1 643.7L630.0 644.2L631.0 645.5L631.9 646.7L632.9 647.6L633.8 648.5L634.8 646.4L635.7 644.1L636.7 644.5L637.6 644.9L638.6 646.0L639.5 647.1L640.5 649.2L641.4 651.3L642.4 648.5L643.3 645.8L644.3 648.1L645.2 650.4L646.2 651.2L647.1 651.9L648.1 650.0L649.0 648.2L650.0 650.7L650.9 653.2L651.9 652.5L652.8 651.9L653.8 650.7L654.7 649.6L655.7 651.0L656.6 652.5L657.6 651.1L658.5 649.7L659.5 650.6L660.4 651.5L661.4 654.7L662.3 657.9L663.3 654.3L664.2 650.8L665.2 653.9L666.1 657.1L667.1 654.3L668.0 651.5L669.0 653.1L669.9 654.8L670.9 653.6L671.8 652.4L672.8 650.2L673.7 647.9L674.7 649.2L675.6 650.4L676.6 651.8L677.5 653.2L678.5 652.2L679.4 651.2L680.4 651.3L681.3 651.4L682.3 653.3L683.2 655.1L684.2 653.2L685.1 651.3L686.1 650.2L687.0 649.2L688.0 649.2L688.9 649.2L689.9 649.6L690.8 650.1L691.8 648.0L692.7 646.0L693.7 647.2L694.6 648.7L695.6 649.5L696.5 650.4L697.5 648.1L698.4 645.8L699.4 644.1L700.3 642.4L701.3 642.6L702.2 642.9L703.2 644.3L704.1 645.7L705.1 647.9L706.0 650.1L707.0 649.8L707.9 649.5L708.9 649.8L709.8 650.0L710.8 648.0L711.7 646.1L712.7 646.6L713.6 647.1L714.6 646.3L715.5 645.5L716.5 646.2L717.4 646.9L718.4 646.1L719.3 645.3L720.3 645.4L721.2 645.6L722.2 646.6L723.1 647.7L724.1 647.1L725.0 646.3L726.0 646.9L726.9 647.3L727.9 649.1L728.8 650.8L729.8 649.2L730.7 647.5L731.7 649.8L732.6 652.1L733.6 648.8L734.5 645.5L735.5 643.4L736.4 641.4L737.4 642.0L738.3 642.8L739.3 642.6L740.2 642.4L741.2 640.5L742.1 638.6L743.1 640.5L744.0 642.3L745.0 639.8L745.9 637.4L746.9 635.3L747.8 633.2L748.8 637.2L749.7 641.3L750.7 639.4L751.6 637.6L752.6 639.7L753.5 641.8L754.5 639.8L755.4 637.9L756.4 637.1L757.3 636.3L758.3 639.2L759.2 642.1L760.2 638.9L761.1 635.7L762.1 637.7L763.0 639.7L764.0 641.0L764.9 642.3L765.9 640.3L766.8 638.2L767.8 636.6L768.7 634.9L769.7 634.7L770.6 634.5L771.6 635.8L772.5 637.2L773.5 635.9L774.4 634.5L775.4 636.1L776.3 637.7L777.3 636.8L778.2 636.0L779.2 637.3L780.1 638.5L781.1 635.3L782.0 632.2L783.0 631.6L783.9 631.1L784.9 633.5L785.8 636.1L786.8 634.1L787.7 632.2L788.7 633.0L789.6 633.9L790.6 633.3L791.5 632.8L792.5 634.7L793.4 636.7L794.4 634.4L795.3 632.2L796.3 632.7L797.2 633.0L798.2 629.4L799.1 626.0L800.1 627.0L801.0 627.4L802.0 627.9L802.9 628.2L803.9 624.9L804.8 621.5L805.8 619.4L806.7 617.4L807.7 615.4L808.6 613.4L809.6 614.2L810.5 614.7L811.5 612.5L812.4 610.1L813.4 607.3L814.3 604.0L815.3 600.2L816.2 595.4L817.2 590.0L818.1 584.8L819.1 579.5L820.0 573.1L821.0 566.4L821.9 560.6L822.9 558.5L823.8 560.9L824.8 560.4L825.7 563.5L826.7 568.0L827.6 572.8L828.6 580.1L829.5 588.4L830.5 595.5L831.4 599.5L832.4 603.2L833.3 606.7L834.3 607.8L835.2 608.3L836.2 611.1L837.1 613.9L838.1 614.1L839.0 614.1L840.0 615.9L840.9 617.7L841.9 618.2L842.8 618.7L843.8 619.0L844.7 619.1L845.7 618.4L846.6 617.5L847.6 619.7L848.5 621.8L849.5 623.1L850.4 624.4L851.4 623.6L852.3 622.7L853.3 623.1L854.2 623.4L855.2 621.8L856.1 620.1L857.1 620.4L858.0 620.7L859.0 620.2L859.9 619.6L860.9 622.2L861.8 624.8L862.8 623.8L863.7 622.7L864.7 622.5L865.6 622.2L866.6 621.1L867.5 619.9L868.5 620.3L869.4 620.8L870.4 622.4L871.3 624.1L872.3 622.5L873.2 621.0L874.2 618.9L875.1 616.8L876.1 618.9L877.0 621.0L878.0 621.2L878.9 621.4L879.9 622.6L880.8 623.8L881.8 623.9L882.7 624.0L883.7 624.6L884.6 625.1L885.6 623.5L886.5 621.9L887.5 622.4L888.4 622.8L889.4 621.1L890.3 619.4L891.3 622.0L892.2 624.7L893.2 622.9L894.1 621.2L895.1 623.3L896.0 625.4L897.0 620.9L897.9 616.4L898.9 619.3L899.8 622.1L900.8 622.5L901.7 623.0L902.7 621.8L903.6 620.5L904.6 620.6L905.5 620.6L906.5 621.1L907.4 621.5L908.4 620.6L909.3 619.6L910.3 619.1L911.2 618.6L912.2 617.8L913.1 616.9L914.1 618.1L915.0 619.2L916.0 619.0L916.9 618.7L917.9 617.5L918.8 616.2L919.8 616.2L920.7 616.1L921.7 616.2L922.6 616.2L923.6 616.6L924.5 617.0L925.5 614.1L926.4 611.3L927.4 610.8L928.3 610.3L929.3 612.3L930.2 614.3L931.2 612.7L932.1 611.0L933.1 611.1L934.0 611.2L935.0 611.5L935.9 611.8L936.9 611.8L937.8 611.8L938.8 609.6L939.7 607.4L940.7 609.9L941.6 612.4L942.6 609.7L943.5 606.9L944.5 609.8L945.4 612.7L946.4 609.5L947.3 606.3L948.3 607.1L949.2 607.9L950.2 610.4L951.1 613.0L952.1 611.9L953.0 610.9L954.0 610.1L954.9 609.3L955.9 608.8L956.8 608.2L957.8 609.8L958.7 611.4L959.7 610.8L960.6 610.3L961.6 610.2L962.5 610.1L963.5 611.0L964.4 611.9L965.4 609.6L966.3 607.3L967.3 607.9L968.2 608.4L969.2 607.9L970.1 607.4L971.1 608.8L972.0 610.2L973.0 609.5L973.9 608.9L974.9 609.1L975.8 609.3L976.8 607.9L977.7 606.5L978.7 606.0L979.6 605.5L980.6 606.9L981.5 608.3L982.5 606.7L983.4 605.0L984.4 606.3L985.3 607.6L986.3 606.3L987.2 605.1L988.2 603.5L989.1 602.0L990.1 602.9L991.0 603.8L992.0 603.8L992.9 603.8L993.9 605.6L994.8 607.4L995.8 607.3L996.7 607.1L997.7 603.7L998.6 600.2L999.6 599.6L1000.5 599.0L1001.5 596.6L1002.4 594.3L1003.4 596.9L1004.3 599.6L1005.3 598.6L1006.2 597.5L1007.2 597.1L1008.1 596.6L1009.1 597.9L1010.0 599.1L1011.0 597.0L1011.9 594.8L1012.9 595.2L1013.8 595.5L1014.8 596.0L1015.7 596.5L1016.7 594.5L1017.6 592.4L1018.6 593.0L1019.5 593.4L1020.5 592.4L1021.4 591.3L1022.4 588.2L1023.3 585.2L1024.3 584.7L1025.2 584.0L1026.2 584.3L1027.1 584.5L1028.1 581.8L1029.0 579.0L1030.0 577.1L1030.9 575.3L1031.9 574.5L1032.8 572.9L1033.8 570.7L1034.7 569.1L1035.7 567.3L1036.6 566.6L1037.6 569.9L1038.5 575.0L1039.5 580.2L1040.4 583.6L1041.4 585.9L1042.3 588.0L1043.3 588.2L1044.2 588.3L1045.2 588.4L1046.1 588.4L1047.1 589.6L1048.0 590.8L1049.0 591.2L1049.9 591.7L1050.9 591.1L1051.8 590.6L1052.8 588.9L1053.7 587.3L1054.7 590.0L1055.6 592.6L1056.6 592.4L1057.5 592.1L1058.5 594.6L1059.4 597.1L1060.4 596.2L1061.3 595.2L1062.3 596.6L1063.2 597.8L1064.2 597.7L1065.1 597.6L1066.1 599.2L1067.0 600.7L1068.0 599.4L1068.9 598.2L1069.9 597.8L1070.8 597.4L1071.8 598.6L1072.7 599.7L1073.7 598.9L1074.6 598.0L1075.6 598.3L1076.5 598.6L1077.5 597.7L1078.4 596.7L1079.4 596.7L1080.3 596.6L1081.3 598.2L1082.2 599.7L1083.2 597.9L1084.1 596.0L1085.1 596.4L1086.0 596.7L1087.0 596.1" stroke="#b91d27" stroke-width="3.2"/>
<path d="M107.5 771.9L108.2 771.8L109.0 772.0L109.8 772.1L110.5 772.2L111.2 772.0L112.0 771.9L112.8 771.9L113.5 772.1L114.2 772.3L115.0 772.0L115.8 771.8L116.5 771.8L117.2 772.3L118.0 772.0L118.8 771.7L119.5 772.0L120.2 771.8L121.0 771.9L121.8 771.9L122.5 771.9L123.2 772.1L124.0 772.0L124.8 771.9L125.5 772.1L126.2 772.1L127.0 771.7L127.8 772.0L128.5 771.8L129.2 772.0L130.0 771.8L130.8 772.0L131.5 772.0L132.2 771.9L133.0 771.8L133.8 771.9L134.5 771.8L135.2 771.8L136.0 772.0L136.8 771.8L137.5 772.2L138.2 772.1L139.0 771.7L139.8 772.0L140.5 771.8L141.2 772.0L142.0 772.0L142.8 771.7L143.5 772.0L144.2 772.0L145.0 772.2L145.8 771.8L146.5 772.1L147.2 771.8L148.0 771.9L148.8 771.9L149.5 772.2L150.2 772.1L151.0 772.4L151.8 772.1L152.5 772.1L153.2 772.1L154.0 771.9L154.8 772.0L155.5 772.2L156.2 771.9L157.0 772.0L157.8 772.0L158.5 772.1L159.2 771.9L160.0 772.0L160.8 772.0L161.5 772.0L162.2 771.9L163.0 772.1L163.8 771.8L164.5 771.8L165.2 771.8L166.0 772.2L166.8 771.9L167.5 771.8L168.2 771.8L169.0 772.1L169.8 771.8L170.5 771.8L171.2 772.1L172.0 771.8L172.8 771.9L173.5 772.0L174.2 771.9L175.0 772.0L175.8 772.2L176.5 771.9L177.2 771.8L178.0 771.7L178.8 772.0L179.5 771.9L180.2 772.0L181.0 771.9L181.8 771.9L182.5 771.9L183.2 771.9L184.0 772.0L184.8 771.9L185.5 772.0L186.2 772.3L187.0 772.1L187.8 771.7L188.5 772.3L189.2 772.1L190.0 771.8L190.8 772.1L191.5 772.0L192.2 771.9L193.0 771.9L193.8 771.8L194.5 772.0L195.2 772.2L196.0 771.9L196.8 772.1L197.5 772.3L198.2 771.8L199.0 772.0L199.8 771.9L200.5 771.8L201.2 771.8L202.0 772.0L202.8 772.1L203.5 771.9L204.2 772.0L205.0 772.1L205.8 772.0L206.5 772.1L207.2 772.1L208.0 772.1L208.8 772.3L209.5 772.1L210.2 772.0L211.0 772.1L211.8 771.9L212.5 771.9L213.2 772.1L214.0 772.1L214.8 772.2L215.5 772.0L216.2 771.8L217.0 772.3L217.8 772.2L218.5 771.8L219.2 772.2L220.0 772.0L220.8 771.7L221.5 771.9L222.2 771.9L223.0 772.3L223.8 771.9L224.5 772.0L225.2 772.0L226.0 771.9L226.8 771.9L227.5 772.0L228.2 772.2L229.0 772.1L229.8 771.8L230.5 771.8L231.2 772.0L232.0 771.9L232.8 771.9L233.5 771.7L234.2 772.3L235.0 772.1L235.8 771.8L236.5 772.1L237.2 772.2L238.0 771.6L238.8 771.9L239.5 771.9L240.2 772.1L241.0 772.0L241.8 772.0L242.5 772.0L243.2 772.3L244.0 772.3L244.8 771.9L245.5 771.8L246.2 772.4L247.0 771.8L247.8 771.9L248.5 772.0L249.2 772.1L250.0 772.2L250.8 772.1L251.5 771.9L252.2 772.1L253.0 772.0L253.8 772.3L254.5 772.0L255.2 771.8L256.0 771.8L256.8 772.2L257.5 771.9L258.2 771.7L259.0 771.9L259.8 772.0L260.5 772.2L261.2 771.8L262.0 772.1L262.8 772.1L263.5 771.9L264.2 772.0L265.0 772.3L265.8 772.3L266.5 772.1L267.2 772.1L268.0 772.2L268.8 772.0L269.5 772.0L270.2 771.9L271.0 772.0L271.8 772.0L272.5 772.4L273.2 772.0L274.0 772.2L274.8 772.2L275.5 772.0L276.2 772.2L277.0 771.6L277.8 772.0L278.5 772.1L279.2 771.6L280.0 771.8L280.8 772.2L281.5 772.0L282.2 771.8L283.0 771.9L283.8 771.9L284.5 772.1L285.2 772.1L286.0 772.0L286.8 771.9L287.5 772.0L288.2 772.2L289.0 772.1L289.8 772.1L290.5 772.0L291.2 771.8L292.0 771.9L292.8 772.1L293.5 772.0L294.2 771.9L295.0 771.7L295.8 772.0L296.5 771.9L297.2 771.9L298.0 771.9L298.8 772.0L299.5 772.0L300.2 772.2L301.0 772.1L301.8 772.2L302.5 772.1L303.2 771.9L304.0 772.0L304.8 772.1L305.5 771.9L306.2 772.1L307.0 772.2L307.8 771.9L308.5 771.7L309.2 772.2L310.0 772.0L310.8 772.1L311.5 771.8L312.2 772.3L313.0 772.1L313.8 772.0L314.5 771.9L315.2 772.0L316.0 772.0L316.8 772.0L317.5 771.8L318.2 772.2L319.0 772.0L319.8 772.0L320.5 772.0L321.2 771.6L322.0 772.1L322.8 771.9L323.5 771.9L324.2 772.0L325.0 771.8L325.8 772.1L326.5 771.9L327.2 771.9L328.0 771.9L328.8 772.0L329.5 772.1L330.2 771.9L331.0 771.8L331.8 772.2L332.5 771.8L333.2 772.2L334.0 772.0L334.8 771.9L335.5 771.9L336.2 772.1L337.0 772.1L337.8 772.0L338.5 772.1L339.2 772.3L340.0 772.0L340.8 771.8L341.5 771.8L342.2 771.8L343.0 771.9L343.8 771.9L344.5 771.8L345.2 772.1L346.0 771.6L346.8 771.8L347.5 772.3L348.2 772.2L349.0 772.1L349.8 772.1L350.5 772.3L351.2 772.1L352.0 772.0L352.8 771.8L353.5 772.0L354.2 771.9L355.0 771.9L355.8 771.9L356.5 772.0L357.2 771.9L358.0 772.1L358.8 771.8L359.5 772.0L360.2 772.3L361.0 772.0L361.8 772.2L362.5 772.2L363.2 772.2L364.0 772.1L364.8 771.8L365.5 772.0L366.2 771.9L367.0 771.7L367.8 771.9L368.5 771.8L369.2 771.7L370.0 772.0L370.8 772.0L371.5 771.9L372.2 771.8L373.0 771.9L373.8 771.9L374.5 771.9L375.2 772.0L376.0 771.9L376.8 772.1L377.5 772.1L378.2 772.1L379.0 771.9L379.8 771.9L380.5 772.1L381.2 772.0L382.0 772.0L382.8 771.6L383.5 771.6L384.2 772.0L385.0 772.0L385.8 772.2L386.5 772.1L387.2 772.0L388.0 772.0L388.8 771.8L389.5 772.1L390.2 771.9L391.0 772.1L391.8 772.0L392.5 772.0L393.2 772.1L394.0 771.9L394.8 771.9L395.5 771.9L396.2 771.9L397.0 772.3L397.8 771.9L398.5 772.2L399.2 772.1L400.0 772.1L400.8 772.1L401.5 771.8L402.2 772.1L403.0 772.2L403.8 771.9L404.5 772.0L405.2 771.9L406.0 772.0L406.8 771.8L407.5 772.3L408.2 771.9L409.0 771.7L409.8 772.3L410.5 772.1L411.2 772.1L412.0 772.1L412.8 771.9L413.5 772.0L414.2 772.1L415.0 772.1L415.8 772.1L416.5 772.0L417.2 771.9L418.0 772.0L418.8 772.2L419.5 772.2L420.2 771.9L421.0 771.9L421.8 772.2L422.5 772.1L423.2 772.1L424.0 771.8L424.8 771.9L425.5 771.9L426.2 772.0L427.0 771.7L427.8 772.2L428.5 772.0L429.2 772.1L430.0 771.8L430.8 772.0L431.5 772.2L432.2 771.7L433.0 772.0L433.8 772.1L434.5 771.9L435.2 772.1L436.0 771.9L436.8 772.2L437.5 772.1L438.2 772.0L439.0 772.3L439.8 772.1L440.5 772.2L441.2 771.8L442.0 771.9L442.8 772.1L443.5 772.1L444.2 772.0L445.0 772.1L445.8 771.8L446.5 772.0L447.2 771.8L448.0 772.0L448.8 771.9L449.5 771.9L450.2 772.0L451.0 772.3L451.8 771.8L452.5 771.9L453.2 772.2L454.0 771.9L454.8 772.3L455.5 772.0L456.2 772.0L457.0 772.0L457.8 772.3L458.5 772.1L459.2 772.1L460.0 772.0L460.8 771.7L461.5 771.8L462.2 772.2L463.0 772.1L463.8 772.1L464.5 772.1L465.2 771.9L466.0 772.0L466.8 771.8L467.5 772.1L468.2 771.9L469.0 772.0L469.8 772.1L470.5 771.9L471.2 772.1L472.0 772.1L472.8 772.0L473.5 772.2L474.2 771.8L475.0 771.7L475.8 772.1L476.5 772.1L477.2 772.3L478.0 772.1L478.8 772.1L479.5 771.8L480.2 772.1L481.0 772.1L481.8 771.8L482.5 771.8L483.2 772.0L484.0 772.0L484.8 771.5L485.5 772.0L486.2 772.0L487.0 772.0L487.8 772.0L488.5 772.1L489.2 771.8L490.0 772.1L490.8 771.9L491.5 771.8L492.2 772.0L493.0 772.2L493.8 771.8L494.5 771.7L495.2 771.7L496.0 772.3L496.8 771.9L497.5 772.0L498.2 771.9L499.0 771.8L499.8 771.7L500.5 772.0L501.2 772.0L502.0 771.7L502.8 771.8L503.5 771.9L504.2 772.0L505.0 772.0L505.8 772.2L506.5 772.2L507.2 772.2L508.0 772.2L508.8 771.8L509.5 771.9L510.2 772.2L511.0 772.0L511.8 772.0L512.5 771.7L513.2 771.7L514.0 772.1L514.8 772.0L515.5 771.9L516.2 771.9L517.0 771.7L517.8 772.0L518.5 772.1L519.2 772.2L520.0 772.0L520.8 771.9L521.5 771.8L522.2 772.2L523.0 772.3L523.8 771.9L524.5 772.0L525.2 772.0L526.0 771.9L526.8 771.6L527.5 771.9L528.2 772.1L529.0 771.7L529.8 771.8L530.5 771.5L531.2 772.2L532.0 772.1L532.8 772.0L533.5 771.9L534.2 771.9L535.0 772.0L535.8 771.9L536.5 771.9L537.2 772.0L538.0 772.0L538.8 772.2L539.5 771.7L540.2 772.0L541.0 771.9L541.8 771.8L542.5 771.6L543.2 772.1L544.0 771.8L544.8 771.9L545.5 772.0L546.2 771.8L547.0 772.0L547.8 772.0L548.5 772.1L549.2 772.1L550.0 771.8L550.8 772.1L551.5 772.0L552.2 772.0L553.0 771.9L553.8 772.1L554.5 771.8L555.2 772.0L556.0 772.2L556.8 771.9L557.5 772.3L558.2 771.8L559.0 772.0L559.8 771.9L560.5 771.9L561.2 771.8L562.0 771.9L562.8 772.0L563.5 771.8L564.2 772.1L565.0 772.2L565.8 771.7L566.5 772.1L567.2 772.0L568.0 772.0L568.8 772.4L569.5 772.2L570.2 772.0L571.0 772.0L571.8 771.6L572.5 772.1L573.2 771.8L574.0 772.0L574.8 772.0L575.5 772.1L576.2 772.3L577.0 772.1L577.8 772.2L578.5 771.9L579.2 772.0L580.0 772.1L580.8 771.7L581.5 772.3L582.2 771.8L583.0 771.7L583.8 772.2L584.5 772.3L585.2 771.8L586.0 771.8L586.8 772.4L587.5 772.0L588.2 771.6L589.0 771.8L589.8 772.3L590.5 772.0L591.2 772.1L592.0 772.1L592.8 772.0L593.5 771.9L594.2 771.7L595.0 772.0L595.8 771.8L596.5 771.9L597.2 772.2L598.0 772.0L598.8 771.9L599.5 771.9L600.2 772.0L601.0 772.1L601.8 771.7L602.5 772.0L603.2 772.2L604.0 772.0L604.8 771.8L605.5 771.8L606.2 771.6L607.0 771.8L607.8 772.2L608.5 771.9L609.2 771.8L610.0 771.8L610.8 771.9L611.5 771.9L612.2 771.8L613.0 771.8L613.8 772.0L614.5 772.1L615.2 771.8L616.0 771.8L616.8 772.1L617.5 771.6L618.2 771.8L619.0 771.8L619.8 771.9L620.5 771.8L621.2 771.7L622.0 771.9L622.8 771.7L623.5 771.6L624.2 771.5L625.0 772.0L625.8 771.6L626.5 771.9L627.2 771.9L628.0 772.0L628.8 771.8L629.5 771.7L630.2 771.8L631.0 771.7L631.8 771.6L632.5 772.0L633.2 771.6L634.0 772.1L634.8 771.9L635.5 771.7L636.2 771.8L637.0 771.9L637.8 771.5L638.5 771.6L639.2 771.6L640.0 771.7L640.8 771.8L641.5 771.7L642.2 771.6L643.0 771.6L643.8 771.8L644.5 771.8L645.2 771.6L646.0 771.4L646.8 771.7L647.5 771.6L648.2 771.6L649.0 771.8L649.8 771.6L650.5 771.3L651.2 771.3L652.0 771.6L652.8 771.4L653.5 771.5L654.2 771.3L655.0 771.1L655.8 771.3L656.5 771.5L657.2 771.2L658.0 770.9L658.8 771.0L659.5 770.9L660.2 771.0L661.0 771.0L661.8 771.1L662.5 770.7L663.2 770.6L664.0 770.5L664.8 770.4L665.5 770.2L666.2 770.2L667.0 770.0L667.8 769.6L668.5 769.7L669.2 769.4L670.0 769.0L670.8 769.0L671.5 768.5L672.2 768.5L673.0 767.9L673.8 767.3L674.5 766.5L675.2 765.5L676.0 764.2L676.8 761.4L677.5 757.4L678.2 749.9L679.0 739.3L679.8 723.0L680.5 700.1L681.2 670.5L682.0 635.5L682.8 597.2L683.5 561.1L684.2 533.1L685.0 519.4L685.8 523.5L686.5 544.0L687.2 576.0L688.0 612.7L688.8 648.6L689.5 680.3L690.2 706.5L691.0 725.8L691.8 739.4L692.5 748.1L693.2 753.7L694.0 757.3L694.8 759.4L695.5 760.7L696.2 761.9L697.0 762.3L697.8 762.9L698.5 763.7L699.2 763.7L700.0 764.1L700.8 764.9L701.5 765.1L702.2 765.4L703.0 765.7L703.8 766.0L704.5 766.1L705.2 766.4L706.0 766.4L706.8 766.8L707.5 767.0L708.2 767.1L709.0 767.5L709.8 768.0L710.5 767.5L711.2 768.0L712.0 768.1L712.8 768.3L713.5 768.1L714.2 768.6L715.0 768.6L715.8 768.6L716.5 768.7L717.2 768.9L718.0 769.1L718.8 769.2L719.5 769.5L720.2 769.2L721.0 769.4L721.8 769.4L722.5 769.6L723.2 769.6L724.0 769.6L724.8 769.5L725.5 769.7L726.2 769.9L727.0 770.2L727.8 770.1L728.5 769.9L729.2 770.1L730.0 770.2L730.8 770.2L731.5 770.3L732.2 770.5L733.0 770.4L733.8 770.3L734.5 770.2L735.2 770.5L736.0 770.3L736.8 770.6L737.5 770.7L738.2 770.5L739.0 770.7L739.8 770.7L740.5 771.1L741.2 770.9L742.0 770.6L742.8 771.0L743.5 771.0L744.2 770.9L745.0 771.0L745.8 771.1L746.5 771.2L747.2 771.2L748.0 771.0L748.8 771.1L749.5 770.9L750.2 771.0L751.0 771.1L751.8 771.1L752.5 771.2L753.2 771.7L754.0 771.4L754.8 771.2L755.5 771.0L756.2 771.2L757.0 771.1L757.8 771.0L758.5 771.5L759.2 771.3L760.0 771.5L760.8 771.9L761.5 771.5L762.2 771.5L763.0 771.6L763.8 771.5L764.5 771.4L765.2 771.5L766.0 771.7L766.8 771.5L767.5 771.4L768.2 771.4L769.0 771.4L769.8 771.6L770.5 771.7L771.2 771.7L772.0 771.8L772.8 771.6L773.5 771.8L774.2 771.7L775.0 771.8L775.8 771.4L776.5 771.9L777.2 771.5L778.0 771.5L778.8 771.9L779.5 771.7L780.2 772.0L781.0 771.8L781.8 771.6L782.5 771.8L783.2 771.7L784.0 772.0L784.8 772.0L785.5 771.9L786.2 771.7L787.0 771.8L787.8 772.0L788.5 771.7L789.2 771.7L790.0 772.0L790.8 771.9L791.5 771.8L792.2 771.8L793.0 771.5L793.8 772.0L794.5 771.8L795.2 771.6L796.0 771.7L796.8 771.7L797.5 772.1L798.2 772.0L799.0 771.7L799.8 772.2L800.5 772.1L801.2 771.7L802.0 771.5L802.8 772.0L803.5 771.8L804.2 771.9L805.0 771.8L805.8 772.1L806.5 772.1L807.2 772.0L808.0 771.9L808.8 771.9L809.5 772.0L810.2 771.7L811.0 772.1L811.8 771.9L812.5 772.0L813.2 771.9L814.0 772.1L814.8 772.1L815.5 772.3L816.2 771.9L817.0 771.8L817.8 772.0L818.5 771.8L819.2 772.1L820.0 771.8L820.8 772.0L821.5 772.1L822.2 772.1L823.0 772.0L823.8 772.2L824.5 772.2L825.2 771.7L826.0 772.0L826.8 772.0L827.5 771.9L828.2 771.9L829.0 772.0L829.8 772.0L830.5 772.0L831.2 772.2L832.0 772.1L832.8 771.9L833.5 771.8L834.2 772.1L835.0 771.9L835.8 772.0L836.5 772.0L837.2 772.1L838.0 772.0L838.8 772.2L839.5 771.9L840.2 772.1L841.0 771.9L841.8 772.0L842.5 772.0L843.2 771.8L844.0 771.6L844.8 772.1L845.5 772.0L846.2 772.0L847.0 771.9L847.8 771.9L848.5 772.0L849.2 772.0L850.0 772.2L850.8 772.0L851.5 771.8L852.2 772.1L853.0 771.9L853.8 772.0L854.5 771.7L855.2 771.9L856.0 772.1L856.8 771.9L857.5 772.0L858.2 772.1L859.0 772.0L859.8 772.3L860.5 771.9L861.2 772.0L862.0 772.0L862.8 771.7L863.5 771.7L864.2 772.1L865.0 771.9L865.8 772.2L866.5 772.0L867.2 772.0L868.0 772.1L868.8 772.0L869.5 772.2L870.2 771.8L871.0 772.1L871.8 772.1L872.5 772.1L873.2 772.2L874.0 772.2L874.8 772.0L875.5 771.9L876.2 772.1L877.0 772.0L877.8 772.1L878.5 772.2L879.2 772.0L880.0 771.8L880.8 772.0L881.5 772.1L882.2 772.0L883.0 772.2L883.8 772.0L884.5 772.0L885.2 771.9L886.0 772.0L886.8 772.2L887.5 771.9L888.2 771.9L889.0 771.9L889.8 772.1L890.5 771.8L891.2 771.9L892.0 772.1L892.8 772.2L893.5 772.0L894.2 772.2L895.0 771.7L895.8 772.1L896.5 772.0L897.2 771.8L898.0 771.7L898.8 771.9L899.5 772.0L900.2 772.1L901.0 772.0L901.8 772.1L902.5 772.1L903.2 771.8L904.0 771.9L904.8 771.9L905.5 772.2L906.2 771.9L907.0 772.2L907.8 772.0L908.5 772.4L909.2 772.0L910.0 772.0L910.8 772.0L911.5 772.0L912.2 772.4L913.0 771.9L913.8 771.9L914.5 772.0L915.2 772.1L916.0 771.8L916.8 772.1L917.5 772.1L918.2 772.0L919.0 772.0L919.8 771.9L920.5 772.0L921.2 771.9L922.0 772.2L922.8 772.3L923.5 772.0L924.2 772.0L925.0 771.7L925.8 771.9L926.5 772.1L927.2 772.0L928.0 772.0L928.8 772.1L929.5 772.0L930.2 771.9L931.0 772.3L931.8 771.7L932.5 771.8L933.2 771.9L934.0 771.9L934.8 771.9L935.5 772.0L936.2 771.9L937.0 772.0L937.8 772.1L938.5 772.0L939.2 772.0L940.0 771.8L940.8 771.8L941.5 771.9L942.2 772.1L943.0 772.1L943.8 772.2L944.5 772.2L945.2 772.2L946.0 771.9L946.8 772.2L947.5 772.1L948.2 772.3L949.0 772.1L949.8 772.0L950.5 772.0L951.2 772.0L952.0 771.7L952.8 772.0L953.5 772.0L954.2 772.2L955.0 771.9L955.8 772.0L956.5 772.3L957.2 771.9L958.0 772.1L958.8 771.9L959.5 772.0L960.2 772.1L961.0 772.1L961.8 771.9L962.5 771.8L963.2 772.2L964.0 772.0L964.8 772.1L965.5 772.1L966.2 772.1L967.0 772.0L967.8 772.0L968.5 771.7L969.2 772.0L970.0 771.9L970.8 772.0L971.5 772.3L972.2 772.1L973.0 772.0L973.8 771.8L974.5 772.1L975.2 772.2L976.0 771.9L976.8 772.1L977.5 771.9L978.2 772.0L979.0 771.9L979.8 771.7L980.5 771.9L981.2 771.7L982.0 772.2L982.8 772.2L983.5 772.0L984.2 772.0L985.0 772.0L985.8 772.0L986.5 772.0L987.2 772.0L988.0 772.0L988.8 771.8L989.5 771.8L990.2 771.9L991.0 772.0L991.8 771.9L992.5 772.3L993.2 772.0L994.0 771.9L994.8 772.1L995.5 772.2L996.2 772.3L997.0 772.1L997.8 771.9L998.5 772.0L999.2 772.2L1000.0 772.0L1000.8 772.1L1001.5 772.0L1002.2 772.2L1003.0 772.2L1003.8 772.2L1004.5 772.0L1005.2 771.7L1006.0 771.8L1006.8 772.0L1007.5 772.1L1008.2 771.5L1009.0 771.9L1009.8 772.2L1010.5 772.1L1011.2 771.9L1012.0 772.1L1012.8 772.0L1013.5 772.0L1014.2 772.2L1015.0 772.2L1015.8 771.9L1016.5 771.9L1017.2 771.8L1018.0 771.8L1018.8 772.2L1019.5 772.3L1020.2 772.0L1021.0 772.2L1021.8 771.9L1022.5 772.0L1023.2 772.1L1024.0 772.1L1024.8 772.0L1025.5 771.7L1026.2 771.8L1027.0 771.9L1027.8 771.9L1028.5 772.0L1029.2 771.9L1030.0 772.0L1030.8 772.0L1031.5 772.1L1032.2 772.0L1033.0 771.9L1033.8 772.0L1034.5 772.1L1035.2 772.0L1036.0 771.9L1036.8 771.8L1037.5 772.0L1038.2 772.1L1039.0 772.2L1039.8 772.0L1040.5 772.2L1041.2 771.9L1042.0 772.0L1042.8 771.9L1043.5 772.1L1044.2 772.2L1045.0 772.0L1045.8 771.9L1046.5 771.8L1047.2 772.0L1048.0 771.9L1048.8 772.0L1049.5 771.9L1050.2 771.9L1051.0 771.9L1051.8 772.1L1052.5 772.1L1053.2 772.0L1054.0 772.0L1054.8 772.0L1055.5 772.0L1056.2 771.8L1057.0 772.1L1057.8 772.1L1058.5 772.2L1059.2 771.9L1060.0 772.0L1060.8 771.9L1061.5 772.0L1062.2 772.0L1063.0 772.1L1063.8 772.0L1064.5 772.1L1065.2 771.9L1066.0 772.1L1066.8 772.0L1067.5 771.9L1068.2 772.0L1069.0 772.1L1069.8 771.8L1070.5 771.8L1071.2 772.0L1072.0 772.0L1072.8 771.7L1073.5 771.7L1074.2 771.9L1075.0 772.0L1075.8 772.0L1076.5 772.2L1077.2 772.2L1078.0 772.4L1078.8 771.8L1079.5 772.0L1080.2 772.2L1081.0 771.8L1081.8 771.8L1082.5 772.0L1083.2 772.2L1084.0 772.2L1084.8 771.7L1085.5 771.8L1086.2 772.0L1087.0 771.9" stroke="#111" stroke-width="2.7"/>
</g>
<g stroke="#111" stroke-width="2.2" fill="none" stroke-linecap="butt">
<path d="M107.2 -2V788.2H1087.3V-2"/>
<path d="M106 1H1088" stroke-width="2"/>
<path d="M182.6 788V775M182.6 1V14M258.0 788V781.5M258.0 1V7.5M333.4 788V775M333.4 1V14M408.8 788V781.5M408.8 1V7.5M484.2 788V775M484.2 1V14M559.6 788V781.5M559.6 1V7.5M634.9 788V775M634.9 1V14M710.3 788V781.5M710.3 1V7.5M785.7 788V775M785.7 1V14M861.1 788V781.5M861.1 1V7.5M936.5 788V775M936.5 1V14M1011.9 788V781.5M1011.9 1V7.5"/>
</g>
<g font-size="31.3" text-anchor="middle" fill="#111" stroke="#111" stroke-width="0.4">
<text x="182.6" y="828.5">8</text>
<text x="333.4" y="828.5">10</text>
<text x="484.2" y="828.5">12</text>
<text x="634.9" y="828.5">14</text>
<text x="785.7" y="828.5">16</text>
<text x="936.5" y="828.5">18</text>
<text x="1087.3" y="828.5">20</text>
</g>
<text x="534" y="890.3" font-size="38.5" fill="#111" stroke="#111" stroke-width="0.50">2<tspan font-size="41" font-family="'Liberation Serif','DejaVu Serif',serif">θ</tspan> (deg)</text>
<text transform="translate(50.9 520) rotate(-90)" font-size="38" fill="#111" stroke="#111" stroke-width="0.49">Intensity (arb. unit)</text>
<text x="-3" y="59.8" font-size="66" fill="#111" stroke="#111" stroke-width="0.86">(a)</text>
<text x="-3" y="957.5" font-size="66" fill="#111" stroke="#111" stroke-width="0.86">(b)</text>
<g stroke-width="2.9" fill="none">
<path d="M108.5 22.7H181" stroke="#111"/>
<path d="M108.5 73.3H181" stroke="#b91d27"/>
<path d="M108.5 123.4H181" stroke="#2a3590"/>
<path d="M108.5 173.8H181" stroke="#8b3f8f"/>
</g>
<g font-weight="bold" font-size="31.7" fill="#111">
<text x="187.5" y="33.5">2H-TaS<tspan font-size="20.3" dy="8.6">2</tspan></text>
<text x="189" y="83.3">TaS<tspan font-size="20.3" dy="9.3">2</tspan><tspan dy="-9.3">(CTA</tspan><tspan font-size="20.3" dy="-10.5">+</tspan><tspan dy="10.5">)</tspan><tspan font-size="20.3" dy="9.3">0.1</tspan></text>
<text x="189" y="133.7">TaS<tspan font-size="20.3" dy="9.3">2</tspan><tspan dy="-9.3">(CTA</tspan><tspan font-size="20.3" dy="-10.5">+</tspan><tspan dy="10.5">)</tspan><tspan font-size="20.3" dy="9.3">0.4</tspan></text>
<text x="189" y="184.2">TaS<tspan font-size="20.3" dy="9.3">2</tspan><tspan dy="-9.3">(CTA</tspan><tspan font-size="20.3" dy="-10.5">+</tspan><tspan dy="10.5">)</tspan><tspan font-size="20.3" dy="9.3">0.9</tspan></text>
</g>
<text x="1104.5" y="320.4" font-size="38" fill="#8b3f8f" stroke="#8b3f8f" stroke-width="0.49">d=32.46<tspan font-family="'Liberation Serif',serif">Å</tspan></text>
<text x="1101.0" y="456.0" font-size="38" fill="#2a3590" stroke="#2a3590" stroke-width="0.49">d=32.35<tspan font-family="'Liberation Serif',serif">Å</tspan></text>
<text x="1094.5" y="616.0" font-size="38" fill="#b91d27" stroke="#b91d27" stroke-width="0.49">d=32.15<tspan font-family="'Liberation Serif',serif">Å</tspan></text>
<text x="1102.5" y="767.5" font-size="38" fill="#111" stroke="#111" stroke-width="0.49">d=12.08<tspan font-family="'Liberation Serif',serif">Å</tspan></text>
<text transform="translate(176.5 370.7) rotate(-90)" font-size="30.5" fill="#8b3f8f" stroke="#8b3f8f" stroke-width="0.40">003</text>
<text transform="translate(384.3 343.0) rotate(-90)" font-size="30.5" fill="#8b3f8f" stroke="#8b3f8f" stroke-width="0.40">004</text>
<text transform="translate(593.7 343.8) rotate(-90)" font-size="30.5" fill="#8b3f8f" stroke="#8b3f8f" stroke-width="0.40">005</text>
<text transform="translate(823.1 310.6) rotate(-90)" font-size="30.5" fill="#8b3f8f" stroke="#8b3f8f" stroke-width="0.40">006</text>
<text transform="translate(1019.0 285.7) rotate(-90)" font-size="30.5" fill="#8b3f8f" stroke="#8b3f8f" stroke-width="0.40">007</text>
<text transform="translate(196.7 456.3) rotate(-90)" font-size="30.5" fill="#2a3590" stroke="#2a3590" stroke-width="0.40">003</text>
<text transform="translate(383.1 453.0) rotate(-90)" font-size="30.5" fill="#2a3590" stroke="#2a3590" stroke-width="0.40">004</text>
<text transform="translate(600.0 454.3) rotate(-90)" font-size="30.5" fill="#2a3590" stroke="#2a3590" stroke-width="0.40">005</text>
<text transform="translate(817.6 413.8) rotate(-90)" font-size="30.5" fill="#2a3590" stroke="#2a3590" stroke-width="0.40">006</text>
<text transform="translate(1024.0 394.3) rotate(-90)" font-size="30.5" fill="#2a3590" stroke="#2a3590" stroke-width="0.40">007</text>
<text transform="translate(172.7 618.3) rotate(-90)" font-size="30.5" fill="#b91d27" stroke="#b91d27" stroke-width="0.40">003</text>
<text transform="translate(383.8 599.4) rotate(-90)" font-size="30.5" fill="#b91d27" stroke="#b91d27" stroke-width="0.40">004</text>
<text transform="translate(593.2 590.6) rotate(-90)" font-size="30.5" fill="#b91d27" stroke="#b91d27" stroke-width="0.40">005</text>
<text transform="translate(808.5 588.0) rotate(-90)" font-size="30.5" fill="#b91d27" stroke="#b91d27" stroke-width="0.40">006</text>
<text transform="translate(1024.0 570.9) rotate(-90)" font-size="30.5" fill="#b91d27" stroke="#b91d27" stroke-width="0.40">007</text>
<text transform="translate(665.5 739.3) rotate(-90)" font-size="30.5" fill="#111" stroke="#111" stroke-width="0.40">002</text>
<defs>
<radialGradient id="gy" cx="0.38" cy="0.35" r="0.7"><stop offset="0" stop-color="#fbfb66"/><stop offset="0.45" stop-color="#dedb28"/><stop offset="0.8" stop-color="#aca818"/><stop offset="1" stop-color="#74710f"/></radialGradient>
<radialGradient id="gc" cx="0.4" cy="0.38" r="0.7"><stop offset="0" stop-color="#9fdade"/><stop offset="0.5" stop-color="#66b9c4"/><stop offset="1" stop-color="#3a8a9a"/></radialGradient>
<radialGradient id="gn" cx="0.4" cy="0.38" r="0.7"><stop offset="0" stop-color="#6a2a6a"/><stop offset="1" stop-color="#2a0a30"/></radialGradient>
<filter id="bl" x="-5%" y="-5%" width="110%" height="110%"><feGaussianBlur stdDeviation="0.55"/></filter>
<filter id="bl2" x="-5%" y="-5%" width="110%" height="110%"><feGaussianBlur stdDeviation="0.6"/></filter>
</defs>
<g filter="url(#bl)">
<polygon points="89.5,1007.6 130.5,1003.5 170.8,998.8 210.2,994.7 251.1,990.0 306.2,991.6 362.9,992.5 419.6,992.5 435.4,998.8 394.4,1002.6 355.0,1007.3 315.0,1010.8 258.3,1010.8 202.3,1009.8 146.5,1008.9" fill="#528bd2" stroke="#528bd2" stroke-width="0.8" stroke-linejoin="round"/>
<polygon points="89.5,1007.6 130.5,1003.5 130.7,1062.2 90.5,1061.8" fill="#5d8dc9" stroke="#5d8dc9" stroke-width="0.8" stroke-linejoin="round"/>
<polygon points="130.5,1003.5 146.5,1008.9 146.5,1062.4 130.7,1062.2" fill="#5590dc" stroke="#5590dc" stroke-width="0.8" stroke-linejoin="round"/>
<polygon points="146.5,1008.9 186.5,1005.1 186.5,1062.4 146.5,1062.4" fill="#4a7cc7" stroke="#4a7cc7" stroke-width="0.8" stroke-linejoin="round"/>
<polygon points="186.5,1005.1 202.3,1009.8 202.3,1062.4 186.5,1062.4" fill="#5088d6" stroke="#5088d6" stroke-width="0.8" stroke-linejoin="round"/>
<polygon points="202.3,1009.8 241.7,1005.1 242.1,1063.1 202.3,1062.4" fill="#4a7cc7" stroke="#4a7cc7" stroke-width="0.8" stroke-linejoin="round"/>
<polygon points="241.7,1005.1 258.3,1010.8 259.0,1063.4 242.1,1063.1" fill="#4f86d4" stroke="#4f86d4" stroke-width="0.8" stroke-linejoin="round"/>
<polygon points="258.3,1010.8 299.3,1006.0 299.5,1064.5 259.0,1063.4" fill="#4878c4" stroke="#4878c4" stroke-width="0.8" stroke-linejoin="round"/>
<polygon points="299.3,1006.0 315.0,1010.8 315.0,1064.9 299.5,1064.5" fill="#4d84d2" stroke="#4d84d2" stroke-width="0.8" stroke-linejoin="round"/>
<polygon points="315.0,1010.8 339.3,1001.3 339.3,1062.1 315.0,1064.9" fill="#4676c0" stroke="#4676c0" stroke-width="0.8" stroke-linejoin="round"/>
<polygon points="339.3,1001.3 355.0,1007.3 355.0,1060.2 339.3,1062.1" fill="#4c82d0" stroke="#4c82d0" stroke-width="0.8" stroke-linejoin="round"/>
<polygon points="355.0,1007.3 378.7,997.9 379.6,1057.4 355.0,1060.2" fill="#4a7ac2" stroke="#4a7ac2" stroke-width="0.8" stroke-linejoin="round"/>
<polygon points="378.7,997.9 394.4,1002.6 396.0,1055.5 379.6,1057.4" fill="#5088d2" stroke="#5088d2" stroke-width="0.8" stroke-linejoin="round"/>
<polygon points="394.4,1002.6 419.6,992.5 420.2,1053.5 396.0,1055.5" fill="#6a9cd0" stroke="#6a9cd0" stroke-width="0.8" stroke-linejoin="round"/>
<polygon points="419.6,992.5 435.4,998.8 435.4,1052.3 420.2,1053.5" fill="#6aa6e4" stroke="#6aa6e4" stroke-width="0.8" stroke-linejoin="round"/>
<path d="M124.2 1034.1L89.5 1007.6M124.2 1034.1L130.5 1003.5M124.2 1034.1L146.5 1008.9M124.2 1034.1L90.5 1061.8M124.2 1034.1L129.8 1055.5M124.2 1034.1L146.5 1062.4M180.2 1035.0L146.5 1008.9M180.2 1035.0L186.5 1005.1M180.2 1035.0L202.3 1009.8M180.2 1035.0L146.5 1062.4M180.2 1035.0L186.5 1057.1M180.2 1035.0L202.3 1062.4M236.3 1035.6L202.3 1009.8M236.3 1035.6L241.7 1005.1M236.3 1035.6L258.3 1010.8M236.3 1035.6L202.3 1062.4M236.3 1035.6L242.6 1058.0M236.3 1035.6L259.0 1063.4M292.0 1036.6L258.3 1010.8M292.0 1036.6L299.3 1006.0M292.0 1036.6L315.0 1010.8M292.0 1036.6L259.0 1063.4M292.0 1036.6L299.3 1060.2M292.0 1036.6L315.0 1064.9M332.0 1032.8L315.0 1010.8M332.0 1032.8L339.3 1001.3M332.0 1032.8L355.0 1007.3M332.0 1032.8L315.0 1064.9M332.0 1032.8L338.7 1054.9M332.0 1032.8L355.0 1060.2M371.7 1027.8L355.0 1007.3M371.7 1027.8L378.7 997.9M371.7 1027.8L394.4 1002.6M371.7 1027.8L355.0 1060.2M371.7 1027.8L379.6 1049.8M371.7 1027.8L396.0 1055.5M411.7 1024.0L394.4 1002.6M411.7 1024.0L419.6 992.5M411.7 1024.0L435.4 998.8M411.7 1024.0L396.0 1055.5M411.7 1024.0L419.0 1046.0M411.7 1024.0L435.4 1052.3" stroke="#9a80d0" stroke-width="2.23" fill="none" opacity="0.8"/>
<circle cx="124.2" cy="1034.1" r="2.4" fill="#2f3f86" opacity="0.55"/>
<circle cx="180.2" cy="1035.0" r="2.4" fill="#2f3f86" opacity="0.55"/>
<circle cx="236.3" cy="1035.6" r="2.4" fill="#2f3f86" opacity="0.55"/>
<circle cx="292.0" cy="1036.6" r="2.4" fill="#2f3f86" opacity="0.55"/>
<circle cx="332.0" cy="1032.8" r="2.4" fill="#2f3f86" opacity="0.55"/>
<circle cx="371.7" cy="1027.8" r="2.4" fill="#2f3f86" opacity="0.55"/>
<circle cx="411.7" cy="1024.0" r="2.4" fill="#2f3f86" opacity="0.55"/>
<circle cx="129.8" cy="1055.5" r="5.5" fill="#4f9a9a" opacity="0.85"/>
<circle cx="186.5" cy="1057.1" r="5.5" fill="#4f9a9a" opacity="0.85"/>
<circle cx="242.6" cy="1058.0" r="5.5" fill="#4f9a9a" opacity="0.85"/>
<circle cx="299.3" cy="1060.2" r="5.5" fill="#4f9a9a" opacity="0.85"/>
<circle cx="338.7" cy="1054.9" r="5.5" fill="#4f9a9a" opacity="0.85"/>
<circle cx="379.6" cy="1049.8" r="5.5" fill="#4f9a9a" opacity="0.85"/>
<circle cx="419.0" cy="1046.0" r="5.5" fill="#4f9a9a" opacity="0.85"/>
<circle cx="170.8" cy="998.8" r="6.2" fill="url(#gy)"/>
<circle cx="210.2" cy="994.7" r="6.2" fill="url(#gy)"/>
<circle cx="225.9" cy="1000.1" r="6.2" fill="url(#gy)"/>
<circle cx="251.1" cy="990.0" r="6.2" fill="url(#gy)"/>
<circle cx="266.9" cy="994.7" r="6.2" fill="url(#gy)"/>
<circle cx="283.2" cy="1001.0" r="6.2" fill="url(#gy)"/>
<circle cx="306.2" cy="991.6" r="6.2" fill="url(#gy)"/>
<circle cx="322.9" cy="996.3" r="6.2" fill="url(#gy)"/>
<circle cx="362.9" cy="992.5" r="6.2" fill="url(#gy)"/>
<circle cx="130.5" cy="1003.5" r="6.2" fill="url(#gy)"/>
<circle cx="186.5" cy="1005.1" r="6.2" fill="url(#gy)"/>
<circle cx="241.7" cy="1005.1" r="6.2" fill="url(#gy)"/>
<circle cx="299.3" cy="1006.0" r="6.2" fill="url(#gy)"/>
<circle cx="339.3" cy="1001.3" r="6.2" fill="url(#gy)"/>
<circle cx="378.7" cy="997.9" r="6.2" fill="url(#gy)"/>
<circle cx="419.6" cy="992.5" r="6.2" fill="url(#gy)"/>
<circle cx="89.5" cy="1007.6" r="6.2" fill="url(#gy)"/>
<circle cx="146.5" cy="1008.9" r="6.2" fill="url(#gy)"/>
<circle cx="202.3" cy="1009.8" r="6.2" fill="url(#gy)"/>
<circle cx="258.3" cy="1010.8" r="6.2" fill="url(#gy)"/>
<circle cx="315.0" cy="1010.8" r="6.2" fill="url(#gy)"/>
<circle cx="355.0" cy="1007.3" r="6.2" fill="url(#gy)"/>
<circle cx="394.4" cy="1002.6" r="6.2" fill="url(#gy)"/>
<circle cx="435.4" cy="998.8" r="6.2" fill="url(#gy)"/>
<circle cx="90.5" cy="1061.8" r="6.2" fill="url(#gy)"/>
<circle cx="146.5" cy="1062.4" r="6.2" fill="url(#gy)"/>
<circle cx="202.3" cy="1062.4" r="6.2" fill="url(#gy)"/>
<circle cx="259.0" cy="1063.4" r="6.2" fill="url(#gy)"/>
<circle cx="315.0" cy="1064.9" r="6.2" fill="url(#gy)"/>
<circle cx="355.0" cy="1060.2" r="6.2" fill="url(#gy)"/>
<circle cx="396.0" cy="1055.5" r="6.2" fill="url(#gy)"/>
<circle cx="435.4" cy="1052.3" r="6.2" fill="url(#gy)"/>
<polygon points="99.9,1107.5 139.3,1104.3 178.7,1099.0 219.6,1095.5 276.3,1095.5 331.4,1096.4 387.5,1098.0 444.8,1099.6 403.9,1103.4 363.9,1108.1 323.5,1111.6 283.5,1116.0 267.5,1111.6 227.5,1115.3 210.8,1110.6 171.4,1114.4 155.0,1109.7 115.7,1114.4" fill="#4f86d0" stroke="#4f86d0" stroke-width="0.8" stroke-linejoin="round"/>
<polygon points="99.9,1107.5 115.7,1114.4 115.7,1166.7 99.9,1161.6" fill="#6aa0dc" stroke="#6aa0dc" stroke-width="0.8" stroke-linejoin="round"/>
<polygon points="115.7,1114.4 155.0,1109.7 155.0,1162.6 115.7,1166.7" fill="#4a72ae" stroke="#4a72ae" stroke-width="0.8" stroke-linejoin="round"/>
<polygon points="155.0,1109.7 171.4,1114.4 171.4,1167.9 155.0,1162.6" fill="#5a92d6" stroke="#5a92d6" stroke-width="0.8" stroke-linejoin="round"/>
<polygon points="171.4,1114.4 210.8,1110.6 212.4,1164.1 171.4,1167.9" fill="#3c64ac" stroke="#3c64ac" stroke-width="0.8" stroke-linejoin="round"/>
<polygon points="210.8,1110.6 227.5,1115.3 229.1,1168.9 212.4,1164.1" fill="#5288cc" stroke="#5288cc" stroke-width="0.8" stroke-linejoin="round"/>
<polygon points="227.5,1115.3 267.5,1111.6 268.4,1164.1 229.1,1168.9" fill="#3c64ac" stroke="#3c64ac" stroke-width="0.8" stroke-linejoin="round"/>
<polygon points="267.5,1111.6 283.5,1116.0 284.2,1169.5 268.4,1164.1" fill="#5288cc" stroke="#5288cc" stroke-width="0.8" stroke-linejoin="round"/>
<polygon points="283.5,1116.0 323.5,1111.6 323.5,1165.7 284.2,1169.5" fill="#3e66ae" stroke="#3e66ae" stroke-width="0.8" stroke-linejoin="round"/>
<polygon points="323.5,1111.6 363.9,1108.1 363.9,1160.1 323.5,1165.7" fill="#3e66ae" stroke="#3e66ae" stroke-width="0.8" stroke-linejoin="round"/>
<polygon points="363.9,1108.1 403.9,1103.4 403.9,1156.9 363.9,1160.1" fill="#4068ae" stroke="#4068ae" stroke-width="0.8" stroke-linejoin="round"/>
<polygon points="403.9,1103.4 444.8,1099.6 444.8,1152.2 403.9,1156.9" fill="#52789e" stroke="#52789e" stroke-width="0.8" stroke-linejoin="round"/>
<path d="M124.2 1137.4L99.9 1107.5M124.2 1137.4L115.7 1114.4M124.2 1137.4L155.0 1109.7M124.2 1137.4L99.9 1161.6M124.2 1137.4L115.7 1166.7M124.2 1137.4L155.0 1162.6M180.2 1139.0L155.0 1109.7M180.2 1139.0L171.4 1114.4M180.2 1139.0L210.8 1110.6M180.2 1139.0L155.0 1162.6M180.2 1139.0L171.4 1167.9M180.2 1139.0L212.4 1164.1M236.3 1139.6L210.8 1110.6M236.3 1139.6L227.5 1115.3M236.3 1139.6L267.5 1111.6M236.3 1139.6L212.4 1164.1M236.3 1139.6L229.1 1168.9M236.3 1139.6L268.4 1164.1M292.0 1140.5L267.5 1111.6M292.0 1140.5L283.5 1116.0M292.0 1140.5L323.5 1111.6M292.0 1140.5L268.4 1164.1M292.0 1140.5L284.2 1169.5M292.0 1140.5L323.5 1165.7M333.0 1136.7L323.5 1111.6M333.0 1136.7L363.9 1108.1M333.0 1136.7L347.8 1102.1M333.0 1136.7L323.5 1165.7M333.0 1136.7L363.9 1160.1M333.0 1136.7L347.2 1155.6M372.4 1131.7L363.9 1108.1M372.4 1131.7L403.9 1103.4M372.4 1131.7L387.5 1098.0M372.4 1131.7L363.9 1160.1M372.4 1131.7L403.9 1156.9M372.4 1131.7L388.1 1151.6M412.7 1127.0L403.9 1103.4M412.7 1127.0L444.8 1099.6M412.7 1127.0L403.9 1156.9M412.7 1127.0L444.8 1152.2" stroke="#a868a8" stroke-width="2.23" fill="none" opacity="0.8"/>
<circle cx="124.2" cy="1137.4" r="2.6" fill="#1f2a55" opacity="0.85"/>
<circle cx="180.2" cy="1139.0" r="2.6" fill="#1f2a55" opacity="0.85"/>
<circle cx="236.3" cy="1139.6" r="2.6" fill="#1f2a55" opacity="0.85"/>
<circle cx="292.0" cy="1140.5" r="2.6" fill="#1f2a55" opacity="0.85"/>
<circle cx="333.0" cy="1136.7" r="2.6" fill="#1f2a55" opacity="0.85"/>
<circle cx="372.4" cy="1131.7" r="2.6" fill="#1f2a55" opacity="0.85"/>
<circle cx="412.7" cy="1127.0" r="2.6" fill="#1f2a55" opacity="0.85"/>
<circle cx="139.9" cy="1157.9" r="5.6" fill="#3f7f78" opacity="0.85"/>
<circle cx="196.0" cy="1158.5" r="5.6" fill="#3f7f78" opacity="0.85"/>
<circle cx="252.0" cy="1159.4" r="5.6" fill="#3f7f78" opacity="0.85"/>
<circle cx="307.8" cy="1160.4" r="5.6" fill="#3f7f78" opacity="0.85"/>
<circle cx="347.2" cy="1155.6" r="5.6" fill="#3f7f78" opacity="0.85"/>
<circle cx="388.1" cy="1151.6" r="5.6" fill="#3f7f78" opacity="0.85"/>
<circle cx="219.6" cy="1095.5" r="6.2" fill="url(#gy)"/>
<circle cx="276.3" cy="1095.5" r="6.2" fill="url(#gy)"/>
<circle cx="331.4" cy="1096.4" r="6.2" fill="url(#gy)"/>
<circle cx="387.5" cy="1098.0" r="6.2" fill="url(#gy)"/>
<circle cx="444.8" cy="1099.6" r="6.2" fill="url(#gy)"/>
<circle cx="178.7" cy="1099.0" r="6.2" fill="url(#gy)"/>
<circle cx="236.0" cy="1100.2" r="6.2" fill="url(#gy)"/>
<circle cx="292.0" cy="1101.2" r="6.2" fill="url(#gy)"/>
<circle cx="347.8" cy="1102.1" r="6.2" fill="url(#gy)"/>
<circle cx="403.9" cy="1103.4" r="6.2" fill="url(#gy)"/>
<circle cx="139.3" cy="1104.3" r="6.2" fill="url(#gy)"/>
<circle cx="195.0" cy="1105.3" r="6.2" fill="url(#gy)"/>
<circle cx="252.0" cy="1105.9" r="6.2" fill="url(#gy)"/>
<circle cx="307.8" cy="1106.5" r="6.2" fill="url(#gy)"/>
<circle cx="363.9" cy="1108.1" r="6.2" fill="url(#gy)"/>
<circle cx="99.9" cy="1107.5" r="6.2" fill="url(#gy)"/>
<circle cx="155.0" cy="1109.7" r="6.2" fill="url(#gy)"/>
<circle cx="210.8" cy="1110.6" r="6.2" fill="url(#gy)"/>
<circle cx="267.5" cy="1111.6" r="6.2" fill="url(#gy)"/>
<circle cx="323.5" cy="1111.6" r="6.2" fill="url(#gy)"/>
<circle cx="115.7" cy="1114.4" r="6.2" fill="url(#gy)"/>
<circle cx="171.4" cy="1114.4" r="6.2" fill="url(#gy)"/>
<circle cx="227.5" cy="1115.3" r="6.2" fill="url(#gy)"/>
<circle cx="283.5" cy="1116.0" r="6.2" fill="url(#gy)"/>
<circle cx="99.9" cy="1161.6" r="6.2" fill="url(#gy)"/>
<circle cx="155.0" cy="1162.6" r="6.2" fill="url(#gy)"/>
<circle cx="212.4" cy="1164.1" r="6.2" fill="url(#gy)"/>
<circle cx="268.4" cy="1164.1" r="6.2" fill="url(#gy)"/>
<circle cx="323.5" cy="1165.7" r="6.2" fill="url(#gy)"/>
<circle cx="363.9" cy="1160.1" r="6.2" fill="url(#gy)"/>
<circle cx="403.9" cy="1156.9" r="6.2" fill="url(#gy)"/>
<circle cx="444.8" cy="1152.2" r="6.2" fill="url(#gy)"/>
<circle cx="115.7" cy="1166.7" r="6.2" fill="url(#gy)"/>
<circle cx="171.4" cy="1167.9" r="6.2" fill="url(#gy)"/>
<circle cx="229.1" cy="1168.9" r="6.2" fill="url(#gy)"/>
<circle cx="284.2" cy="1169.5" r="6.2" fill="url(#gy)"/>
<polygon points="91.2,1215.9 132.2,1211.8 172.5,1207.1 211.9,1203.0 252.8,1198.3 307.9,1199.9 364.6,1200.8 421.3,1200.8 437.1,1207.1 396.1,1210.9 356.7,1215.6 316.7,1219.1 260.0,1219.1 204.0,1218.1 148.2,1217.2" fill="#528bd2" stroke="#528bd2" stroke-width="0.8" stroke-linejoin="round"/>
<polygon points="91.2,1215.9 132.2,1211.8 132.4,1270.5 92.2,1270.1" fill="#5d8dc9" stroke="#5d8dc9" stroke-width="0.8" stroke-linejoin="round"/>
<polygon points="132.2,1211.8 148.2,1217.2 148.2,1270.7 132.4,1270.5" fill="#5590dc" stroke="#5590dc" stroke-width="0.8" stroke-linejoin="round"/>
<polygon points="148.2,1217.2 188.2,1213.4 188.2,1270.7 148.2,1270.7" fill="#4a7cc7" stroke="#4a7cc7" stroke-width="0.8" stroke-linejoin="round"/>
<polygon points="188.2,1213.4 204.0,1218.1 204.0,1270.7 188.2,1270.7" fill="#5088d6" stroke="#5088d6" stroke-width="0.8" stroke-linejoin="round"/>
<polygon points="204.0,1218.1 243.4,1213.4 243.8,1271.4 204.0,1270.7" fill="#4a7cc7" stroke="#4a7cc7" stroke-width="0.8" stroke-linejoin="round"/>
<polygon points="243.4,1213.4 260.0,1219.1 260.7,1271.7 243.8,1271.4" fill="#4f86d4" stroke="#4f86d4" stroke-width="0.8" stroke-linejoin="round"/>
<polygon points="260.0,1219.1 301.0,1214.3 301.2,1272.8 260.7,1271.7" fill="#4878c4" stroke="#4878c4" stroke-width="0.8" stroke-linejoin="round"/>
<polygon points="301.0,1214.3 316.7,1219.1 316.7,1273.2 301.2,1272.8" fill="#4d84d2" stroke="#4d84d2" stroke-width="0.8" stroke-linejoin="round"/>
<polygon points="316.7,1219.1 341.0,1209.6 341.0,1270.4 316.7,1273.2" fill="#4676c0" stroke="#4676c0" stroke-width="0.8" stroke-linejoin="round"/>
<polygon points="341.0,1209.6 356.7,1215.6 356.7,1268.5 341.0,1270.4" fill="#4c82d0" stroke="#4c82d0" stroke-width="0.8" stroke-linejoin="round"/>
<polygon points="356.7,1215.6 380.4,1206.2 381.3,1265.7 356.7,1268.5" fill="#4a7ac2" stroke="#4a7ac2" stroke-width="0.8" stroke-linejoin="round"/>
<polygon points="380.4,1206.2 396.1,1210.9 397.7,1263.8 381.3,1265.7" fill="#5088d2" stroke="#5088d2" stroke-width="0.8" stroke-linejoin="round"/>
<polygon points="396.1,1210.9 421.3,1200.8 421.9,1261.8 397.7,1263.8" fill="#6a9cd0" stroke="#6a9cd0" stroke-width="0.8" stroke-linejoin="round"/>
<polygon points="421.3,1200.8 437.1,1207.1 437.1,1260.6 421.9,1261.8" fill="#6aa6e4" stroke="#6aa6e4" stroke-width="0.8" stroke-linejoin="round"/>
<path d="M125.9 1242.4L91.2 1215.9M125.9 1242.4L132.2 1211.8M125.9 1242.4L148.2 1217.2M125.9 1242.4L92.2 1270.1M125.9 1242.4L131.5 1263.8M125.9 1242.4L148.2 1270.7M181.9 1243.3L148.2 1217.2M181.9 1243.3L188.2 1213.4M181.9 1243.3L204.0 1218.1M181.9 1243.3L148.2 1270.7M181.9 1243.3L188.2 1265.4M181.9 1243.3L204.0 1270.7M238.0 1243.9L204.0 1218.1M238.0 1243.9L243.4 1213.4M238.0 1243.9L260.0 1219.1M238.0 1243.9L204.0 1270.7M238.0 1243.9L244.3 1266.3M238.0 1243.9L260.7 1271.7M293.7 1244.9L260.0 1219.1M293.7 1244.9L301.0 1214.3M293.7 1244.9L316.7 1219.1M293.7 1244.9L260.7 1271.7M293.7 1244.9L301.0 1268.5M293.7 1244.9L316.7 1273.2M333.7 1241.1L316.7 1219.1M333.7 1241.1L341.0 1209.6M333.7 1241.1L356.7 1215.6M333.7 1241.1L316.7 1273.2M333.7 1241.1L340.4 1263.2M333.7 1241.1L356.7 1268.5M373.4 1236.1L356.7 1215.6M373.4 1236.1L380.4 1206.2M373.4 1236.1L396.1 1210.9M373.4 1236.1L356.7 1268.5M373.4 1236.1L381.3 1258.1M373.4 1236.1L397.7 1263.8M413.4 1232.3L396.1 1210.9M413.4 1232.3L421.3 1200.8M413.4 1232.3L437.1 1207.1M413.4 1232.3L397.7 1263.8M413.4 1232.3L420.7 1254.3M413.4 1232.3L437.1 1260.6" stroke="#9a80d0" stroke-width="2.23" fill="none" opacity="0.8"/>
<circle cx="125.9" cy="1242.4" r="2.4" fill="#2f3f86" opacity="0.55"/>
<circle cx="181.9" cy="1243.3" r="2.4" fill="#2f3f86" opacity="0.55"/>
<circle cx="238.0" cy="1243.9" r="2.4" fill="#2f3f86" opacity="0.55"/>
<circle cx="293.7" cy="1244.9" r="2.4" fill="#2f3f86" opacity="0.55"/>
<circle cx="333.7" cy="1241.1" r="2.4" fill="#2f3f86" opacity="0.55"/>
<circle cx="373.4" cy="1236.1" r="2.4" fill="#2f3f86" opacity="0.55"/>
<circle cx="413.4" cy="1232.3" r="2.4" fill="#2f3f86" opacity="0.55"/>
<circle cx="131.5" cy="1263.8" r="5.5" fill="#4f9a9a" opacity="0.85"/>
<circle cx="188.2" cy="1265.4" r="5.5" fill="#4f9a9a" opacity="0.85"/>
<circle cx="244.3" cy="1266.3" r="5.5" fill="#4f9a9a" opacity="0.85"/>
<circle cx="301.0" cy="1268.5" r="5.5" fill="#4f9a9a" opacity="0.85"/>
<circle cx="340.4" cy="1263.2" r="5.5" fill="#4f9a9a" opacity="0.85"/>
<circle cx="381.3" cy="1258.1" r="5.5" fill="#4f9a9a" opacity="0.85"/>
<circle cx="420.7" cy="1254.3" r="5.5" fill="#4f9a9a" opacity="0.85"/>
<circle cx="172.5" cy="1207.1" r="6.2" fill="url(#gy)"/>
<circle cx="211.9" cy="1203.0" r="6.2" fill="url(#gy)"/>
<circle cx="227.6" cy="1208.4" r="6.2" fill="url(#gy)"/>
<circle cx="252.8" cy="1198.3" r="6.2" fill="url(#gy)"/>
<circle cx="268.6" cy="1203.0" r="6.2" fill="url(#gy)"/>
<circle cx="284.9" cy="1209.3" r="6.2" fill="url(#gy)"/>
<circle cx="307.9" cy="1199.9" r="6.2" fill="url(#gy)"/>
<circle cx="324.6" cy="1204.6" r="6.2" fill="url(#gy)"/>
<circle cx="364.6" cy="1200.8" r="6.2" fill="url(#gy)"/>
<circle cx="132.2" cy="1211.8" r="6.2" fill="url(#gy)"/>
<circle cx="188.2" cy="1213.4" r="6.2" fill="url(#gy)"/>
<circle cx="243.4" cy="1213.4" r="6.2" fill="url(#gy)"/>
<circle cx="301.0" cy="1214.3" r="6.2" fill="url(#gy)"/>
<circle cx="341.0" cy="1209.6" r="6.2" fill="url(#gy)"/>
<circle cx="380.4" cy="1206.2" r="6.2" fill="url(#gy)"/>
<circle cx="421.3" cy="1200.8" r="6.2" fill="url(#gy)"/>
<circle cx="91.2" cy="1215.9" r="6.2" fill="url(#gy)"/>
<circle cx="148.2" cy="1217.2" r="6.2" fill="url(#gy)"/>
<circle cx="204.0" cy="1218.1" r="6.2" fill="url(#gy)"/>
<circle cx="260.0" cy="1219.1" r="6.2" fill="url(#gy)"/>
<circle cx="316.7" cy="1219.1" r="6.2" fill="url(#gy)"/>
<circle cx="356.7" cy="1215.6" r="6.2" fill="url(#gy)"/>
<circle cx="396.1" cy="1210.9" r="6.2" fill="url(#gy)"/>
<circle cx="437.1" cy="1207.1" r="6.2" fill="url(#gy)"/>
<circle cx="92.2" cy="1270.1" r="6.2" fill="url(#gy)"/>
<circle cx="148.2" cy="1270.7" r="6.2" fill="url(#gy)"/>
<circle cx="204.0" cy="1270.7" r="6.2" fill="url(#gy)"/>
<circle cx="260.7" cy="1271.7" r="6.2" fill="url(#gy)"/>
<circle cx="316.7" cy="1273.2" r="6.2" fill="url(#gy)"/>
<circle cx="356.7" cy="1268.5" r="6.2" fill="url(#gy)"/>
<circle cx="397.7" cy="1263.8" r="6.2" fill="url(#gy)"/>
<circle cx="437.1" cy="1260.6" r="6.2" fill="url(#gy)"/>
<polygon points="100.9,1315.8 140.3,1312.6 179.7,1307.3 220.6,1303.8 277.3,1303.8 332.4,1304.7 388.5,1306.3 445.8,1307.9 404.9,1311.7 364.9,1316.4 324.5,1319.9 284.5,1324.3 268.5,1319.9 228.5,1323.6 211.8,1318.9 172.4,1322.7 156.0,1318.0 116.7,1322.7" fill="#4f86d0" stroke="#4f86d0" stroke-width="0.8" stroke-linejoin="round"/>
<polygon points="100.9,1315.8 116.7,1322.7 116.7,1375.0 100.9,1369.9" fill="#6aa0dc" stroke="#6aa0dc" stroke-width="0.8" stroke-linejoin="round"/>
<polygon points="116.7,1322.7 156.0,1318.0 156.0,1370.9 116.7,1375.0" fill="#4a72ae" stroke="#4a72ae" stroke-width="0.8" stroke-linejoin="round"/>
<polygon points="156.0,1318.0 172.4,1322.7 172.4,1376.2 156.0,1370.9" fill="#5a92d6" stroke="#5a92d6" stroke-width="0.8" stroke-linejoin="round"/>
<polygon points="172.4,1322.7 211.8,1318.9 213.4,1372.4 172.4,1376.2" fill="#3c64ac" stroke="#3c64ac" stroke-width="0.8" stroke-linejoin="round"/>
<polygon points="211.8,1318.9 228.5,1323.6 230.1,1377.2 213.4,1372.4" fill="#5288cc" stroke="#5288cc" stroke-width="0.8" stroke-linejoin="round"/>
<polygon points="228.5,1323.6 268.5,1319.9 269.4,1372.4 230.1,1377.2" fill="#3c64ac" stroke="#3c64ac" stroke-width="0.8" stroke-linejoin="round"/>
<polygon points="268.5,1319.9 284.5,1324.3 285.2,1377.8 269.4,1372.4" fill="#5288cc" stroke="#5288cc" stroke-width="0.8" stroke-linejoin="round"/>
<polygon points="284.5,1324.3 324.5,1319.9 324.5,1374.0 285.2,1377.8" fill="#3e66ae" stroke="#3e66ae" stroke-width="0.8" stroke-linejoin="round"/>
<polygon points="324.5,1319.9 364.9,1316.4 364.9,1368.4 324.5,1374.0" fill="#3e66ae" stroke="#3e66ae" stroke-width="0.8" stroke-linejoin="round"/>
<polygon points="364.9,1316.4 404.9,1311.7 404.9,1365.2 364.9,1368.4" fill="#4068ae" stroke="#4068ae" stroke-width="0.8" stroke-linejoin="round"/>
<polygon points="404.9,1311.7 445.8,1307.9 445.8,1360.5 404.9,1365.2" fill="#52789e" stroke="#52789e" stroke-width="0.8" stroke-linejoin="round"/>
<path d="M125.2 1345.7L100.9 1315.8M125.2 1345.7L116.7 1322.7M125.2 1345.7L156.0 1318.0M125.2 1345.7L100.9 1369.9M125.2 1345.7L116.7 1375.0M125.2 1345.7L156.0 1370.9M181.2 1347.3L156.0 1318.0M181.2 1347.3L172.4 1322.7M181.2 1347.3L211.8 1318.9M181.2 1347.3L156.0 1370.9M181.2 1347.3L172.4 1376.2M181.2 1347.3L213.4 1372.4M237.3 1347.9L211.8 1318.9M237.3 1347.9L228.5 1323.6M237.3 1347.9L268.5 1319.9M237.3 1347.9L213.4 1372.4M237.3 1347.9L230.1 1377.2M237.3 1347.9L269.4 1372.4M293.0 1348.8L268.5 1319.9M293.0 1348.8L284.5 1324.3M293.0 1348.8L324.5 1319.9M293.0 1348.8L269.4 1372.4M293.0 1348.8L285.2 1377.8M293.0 1348.8L324.5 1374.0M334.0 1345.0L324.5 1319.9M334.0 1345.0L364.9 1316.4M334.0 1345.0L348.8 1310.4M334.0 1345.0L324.5 1374.0M334.0 1345.0L364.9 1368.4M334.0 1345.0L348.2 1363.9M373.4 1340.0L364.9 1316.4M373.4 1340.0L404.9 1311.7M373.4 1340.0L388.5 1306.3M373.4 1340.0L364.9 1368.4M373.4 1340.0L404.9 1365.2M373.4 1340.0L389.1 1359.9M413.7 1335.3L404.9 1311.7M413.7 1335.3L445.8 1307.9M413.7 1335.3L404.9 1365.2M413.7 1335.3L445.8 1360.5" stroke="#a868a8" stroke-width="2.23" fill="none" opacity="0.8"/>
<circle cx="125.2" cy="1345.7" r="2.6" fill="#1f2a55" opacity="0.85"/>
<circle cx="181.2" cy="1347.3" r="2.6" fill="#1f2a55" opacity="0.85"/>
<circle cx="237.3" cy="1347.9" r="2.6" fill="#1f2a55" opacity="0.85"/>
<circle cx="293.0" cy="1348.8" r="2.6" fill="#1f2a55" opacity="0.85"/>
<circle cx="334.0" cy="1345.0" r="2.6" fill="#1f2a55" opacity="0.85"/>
<circle cx="373.4" cy="1340.0" r="2.6" fill="#1f2a55" opacity="0.85"/>
<circle cx="413.7" cy="1335.3" r="2.6" fill="#1f2a55" opacity="0.85"/>
<circle cx="140.9" cy="1366.2" r="5.6" fill="#3f7f78" opacity="0.85"/>
<circle cx="197.0" cy="1366.8" r="5.6" fill="#3f7f78" opacity="0.85"/>
<circle cx="253.0" cy="1367.7" r="5.6" fill="#3f7f78" opacity="0.85"/>
<circle cx="308.8" cy="1368.7" r="5.6" fill="#3f7f78" opacity="0.85"/>
<circle cx="348.2" cy="1363.9" r="5.6" fill="#3f7f78" opacity="0.85"/>
<circle cx="389.1" cy="1359.9" r="5.6" fill="#3f7f78" opacity="0.85"/>
<circle cx="220.6" cy="1303.8" r="6.2" fill="url(#gy)"/>
<circle cx="277.3" cy="1303.8" r="6.2" fill="url(#gy)"/>
<circle cx="332.4" cy="1304.7" r="6.2" fill="url(#gy)"/>
<circle cx="388.5" cy="1306.3" r="6.2" fill="url(#gy)"/>
<circle cx="445.8" cy="1307.9" r="6.2" fill="url(#gy)"/>
<circle cx="179.7" cy="1307.3" r="6.2" fill="url(#gy)"/>
<circle cx="237.0" cy="1308.5" r="6.2" fill="url(#gy)"/>
<circle cx="293.0" cy="1309.5" r="6.2" fill="url(#gy)"/>
<circle cx="348.8" cy="1310.4" r="6.2" fill="url(#gy)"/>
<circle cx="404.9" cy="1311.7" r="6.2" fill="url(#gy)"/>
<circle cx="140.3" cy="1312.6" r="6.2" fill="url(#gy)"/>
<circle cx="196.0" cy="1313.6" r="6.2" fill="url(#gy)"/>
<circle cx="253.0" cy="1314.2" r="6.2" fill="url(#gy)"/>
<circle cx="308.8" cy="1314.8" r="6.2" fill="url(#gy)"/>
<circle cx="364.9" cy="1316.4" r="6.2" fill="url(#gy)"/>
<circle cx="100.9" cy="1315.8" r="6.2" fill="url(#gy)"/>
<circle cx="156.0" cy="1318.0" r="6.2" fill="url(#gy)"/>
<circle cx="211.8" cy="1318.9" r="6.2" fill="url(#gy)"/>
<circle cx="268.5" cy="1319.9" r="6.2" fill="url(#gy)"/>
<circle cx="324.5" cy="1319.9" r="6.2" fill="url(#gy)"/>
<circle cx="116.7" cy="1322.7" r="6.2" fill="url(#gy)"/>
<circle cx="172.4" cy="1322.7" r="6.2" fill="url(#gy)"/>
<circle cx="228.5" cy="1323.6" r="6.2" fill="url(#gy)"/>
<circle cx="284.5" cy="1324.3" r="6.2" fill="url(#gy)"/>
<circle cx="100.9" cy="1369.9" r="6.2" fill="url(#gy)"/>
<circle cx="156.0" cy="1370.9" r="6.2" fill="url(#gy)"/>
<circle cx="213.4" cy="1372.4" r="6.2" fill="url(#gy)"/>
<circle cx="269.4" cy="1372.4" r="6.2" fill="url(#gy)"/>
<circle cx="324.5" cy="1374.0" r="6.2" fill="url(#gy)"/>
<circle cx="364.9" cy="1368.4" r="6.2" fill="url(#gy)"/>
<circle cx="404.9" cy="1365.2" r="6.2" fill="url(#gy)"/>
<circle cx="445.8" cy="1360.5" r="6.2" fill="url(#gy)"/>
<circle cx="116.7" cy="1375.0" r="6.2" fill="url(#gy)"/>
<circle cx="172.4" cy="1376.2" r="6.2" fill="url(#gy)"/>
<circle cx="230.1" cy="1377.2" r="6.2" fill="url(#gy)"/>
<circle cx="285.2" cy="1377.8" r="6.2" fill="url(#gy)"/>
</g>
<g filter="url(#bl)">
<polygon points="810.3,910.2 843.7,907.1 876.6,903.6 908.7,900.6 942.1,897.1 987.0,898.3 1033.3,899.0 1079.5,899.0 1092.3,903.6 1059.0,906.4 1026.8,909.9 994.2,912.5 948.0,912.5 902.3,911.8 856.8,911.1" fill="#528bd2" stroke="#528bd2" stroke-width="0.8" stroke-linejoin="round"/>
<polygon points="810.3,910.2 843.7,907.1 843.9,950.6 811.1,950.2" fill="#5d8dc9" stroke="#5d8dc9" stroke-width="0.8" stroke-linejoin="round"/>
<polygon points="843.7,907.1 856.8,911.1 856.8,950.7 843.9,950.6" fill="#5590dc" stroke="#5590dc" stroke-width="0.8" stroke-linejoin="round"/>
<polygon points="856.8,911.1 889.4,908.3 889.4,950.7 856.8,950.7" fill="#4a7cc7" stroke="#4a7cc7" stroke-width="0.8" stroke-linejoin="round"/>
<polygon points="889.4,908.3 902.3,911.8 902.3,950.7 889.4,950.7" fill="#5088d6" stroke="#5088d6" stroke-width="0.8" stroke-linejoin="round"/>
<polygon points="902.3,911.8 934.4,908.3 934.7,951.2 902.3,950.7" fill="#4a7cc7" stroke="#4a7cc7" stroke-width="0.8" stroke-linejoin="round"/>
<polygon points="934.4,908.3 948.0,912.5 948.5,951.4 934.7,951.2" fill="#4f86d4" stroke="#4f86d4" stroke-width="0.8" stroke-linejoin="round"/>
<polygon points="948.0,912.5 981.4,909.0 981.5,952.2 948.5,951.4" fill="#4878c4" stroke="#4878c4" stroke-width="0.8" stroke-linejoin="round"/>
<polygon points="981.4,909.0 994.2,912.5 994.2,952.6 981.5,952.2" fill="#4d84d2" stroke="#4d84d2" stroke-width="0.8" stroke-linejoin="round"/>
<polygon points="994.2,912.5 1014.0,905.5 1014.0,950.4 994.2,952.6" fill="#4676c0" stroke="#4676c0" stroke-width="0.8" stroke-linejoin="round"/>
<polygon points="1014.0,905.5 1026.8,909.9 1026.8,949.1 1014.0,950.4" fill="#4c82d0" stroke="#4c82d0" stroke-width="0.8" stroke-linejoin="round"/>
<polygon points="1026.8,909.9 1046.1,902.9 1046.9,947.0 1026.8,949.1" fill="#4a7ac2" stroke="#4a7ac2" stroke-width="0.8" stroke-linejoin="round"/>
<polygon points="1046.1,902.9 1059.0,906.4 1060.2,945.6 1046.9,947.0" fill="#5088d2" stroke="#5088d2" stroke-width="0.8" stroke-linejoin="round"/>
<polygon points="1059.0,906.4 1079.5,899.0 1080.0,944.1 1060.2,945.6" fill="#6a9cd0" stroke="#6a9cd0" stroke-width="0.8" stroke-linejoin="round"/>
<polygon points="1079.5,899.0 1092.3,903.6 1092.3,943.2 1080.0,944.1" fill="#6aa6e4" stroke="#6aa6e4" stroke-width="0.8" stroke-linejoin="round"/>
<path d="M838.6 929.7L810.3 910.2M838.6 929.7L843.7 907.1M838.6 929.7L856.8 911.1M838.6 929.7L811.1 950.2M838.6 929.7L843.2 945.6M838.6 929.7L856.8 950.7M884.3 930.4L856.8 911.1M884.3 930.4L889.4 908.3M884.3 930.4L902.3 911.8M884.3 930.4L856.8 950.7M884.3 930.4L889.4 946.7M884.3 930.4L902.3 950.7M930.0 930.9L902.3 911.8M930.0 930.9L934.4 908.3M930.0 930.9L948.0 912.5M930.0 930.9L902.3 950.7M930.0 930.9L935.2 947.4M930.0 930.9L948.5 951.4M975.5 931.6L948.0 912.5M975.5 931.6L981.4 909.0M975.5 931.6L994.2 912.5M975.5 931.6L948.5 951.4M975.5 931.6L981.4 949.1M975.5 931.6L994.2 952.6M1008.1 928.8L994.2 912.5M1008.1 928.8L1014.0 905.5M1008.1 928.8L1026.8 909.9M1008.1 928.8L994.2 952.6M1008.1 928.8L1013.5 945.1M1008.1 928.8L1026.8 949.1M1040.5 925.1L1026.8 909.9M1040.5 925.1L1046.1 902.9M1040.5 925.1L1059.0 906.4M1040.5 925.1L1026.8 949.1M1040.5 925.1L1046.9 941.4M1040.5 925.1L1060.2 945.6M1073.1 922.3L1059.0 906.4M1073.1 922.3L1079.5 899.0M1073.1 922.3L1092.3 903.6M1073.1 922.3L1060.2 945.6M1073.1 922.3L1079.0 938.6M1073.1 922.3L1092.3 943.2" stroke="#9a80d0" stroke-width="1.76" fill="none" opacity="0.8"/>
<circle cx="838.6" cy="929.7" r="1.9" fill="#2f3f86" opacity="0.55"/>
<circle cx="884.3" cy="930.4" r="1.9" fill="#2f3f86" opacity="0.55"/>
<circle cx="930.0" cy="930.9" r="1.9" fill="#2f3f86" opacity="0.55"/>
<circle cx="975.5" cy="931.6" r="1.9" fill="#2f3f86" opacity="0.55"/>
<circle cx="1008.1" cy="928.8" r="1.9" fill="#2f3f86" opacity="0.55"/>
<circle cx="1040.5" cy="925.1" r="1.9" fill="#2f3f86" opacity="0.55"/>
<circle cx="1073.1" cy="922.3" r="1.9" fill="#2f3f86" opacity="0.55"/>
<circle cx="843.2" cy="945.6" r="4.3" fill="#4f9a9a" opacity="0.85"/>
<circle cx="889.4" cy="946.7" r="4.3" fill="#4f9a9a" opacity="0.85"/>
<circle cx="935.2" cy="947.4" r="4.3" fill="#4f9a9a" opacity="0.85"/>
<circle cx="981.4" cy="949.1" r="4.3" fill="#4f9a9a" opacity="0.85"/>
<circle cx="1013.5" cy="945.1" r="4.3" fill="#4f9a9a" opacity="0.85"/>
<circle cx="1046.9" cy="941.4" r="4.3" fill="#4f9a9a" opacity="0.85"/>
<circle cx="1079.0" cy="938.6" r="4.3" fill="#4f9a9a" opacity="0.85"/>
<circle cx="876.6" cy="903.6" r="4.9" fill="url(#gy)"/>
<circle cx="908.7" cy="900.6" r="4.9" fill="url(#gy)"/>
<circle cx="921.5" cy="904.6" r="4.9" fill="url(#gy)"/>
<circle cx="942.1" cy="897.1" r="4.9" fill="url(#gy)"/>
<circle cx="954.9" cy="900.6" r="4.9" fill="url(#gy)"/>
<circle cx="968.3" cy="905.3" r="4.9" fill="url(#gy)"/>
<circle cx="987.0" cy="898.3" r="4.9" fill="url(#gy)"/>
<circle cx="1000.6" cy="901.8" r="4.9" fill="url(#gy)"/>
<circle cx="1033.3" cy="899.0" r="4.9" fill="url(#gy)"/>
<circle cx="843.7" cy="907.1" r="4.9" fill="url(#gy)"/>
<circle cx="889.4" cy="908.3" r="4.9" fill="url(#gy)"/>
<circle cx="934.4" cy="908.3" r="4.9" fill="url(#gy)"/>
<circle cx="981.4" cy="909.0" r="4.9" fill="url(#gy)"/>
<circle cx="1014.0" cy="905.5" r="4.9" fill="url(#gy)"/>
<circle cx="1046.1" cy="902.9" r="4.9" fill="url(#gy)"/>
<circle cx="1079.5" cy="899.0" r="4.9" fill="url(#gy)"/>
<circle cx="810.3" cy="910.2" r="4.9" fill="url(#gy)"/>
<circle cx="856.8" cy="911.1" r="4.9" fill="url(#gy)"/>
<circle cx="902.3" cy="911.8" r="4.9" fill="url(#gy)"/>
<circle cx="948.0" cy="912.5" r="4.9" fill="url(#gy)"/>
<circle cx="994.2" cy="912.5" r="4.9" fill="url(#gy)"/>
<circle cx="1026.8" cy="909.9" r="4.9" fill="url(#gy)"/>
<circle cx="1059.0" cy="906.4" r="4.9" fill="url(#gy)"/>
<circle cx="1092.3" cy="903.6" r="4.9" fill="url(#gy)"/>
<circle cx="811.1" cy="950.2" r="4.9" fill="url(#gy)"/>
<circle cx="856.8" cy="950.7" r="4.9" fill="url(#gy)"/>
<circle cx="902.3" cy="950.7" r="4.9" fill="url(#gy)"/>
<circle cx="948.5" cy="951.4" r="4.9" fill="url(#gy)"/>
<circle cx="994.2" cy="952.6" r="4.9" fill="url(#gy)"/>
<circle cx="1026.8" cy="949.1" r="4.9" fill="url(#gy)"/>
<circle cx="1060.2" cy="945.6" r="4.9" fill="url(#gy)"/>
<circle cx="1092.3" cy="943.2" r="4.9" fill="url(#gy)"/>
<polygon points="802.2,1149.4 835.6,1146.3 868.5,1142.8 900.6,1139.8 934.0,1136.3 978.9,1137.5 1025.2,1138.2 1071.4,1138.2 1084.2,1142.8 1050.9,1145.6 1018.7,1149.1 986.1,1151.7 939.9,1151.7 894.2,1151.0 848.7,1150.3" fill="#528bd2" stroke="#528bd2" stroke-width="0.8" stroke-linejoin="round"/>
<polygon points="802.2,1149.4 835.6,1146.3 835.8,1189.8 803.0,1189.4" fill="#5d8dc9" stroke="#5d8dc9" stroke-width="0.8" stroke-linejoin="round"/>
<polygon points="835.6,1146.3 848.7,1150.3 848.7,1189.9 835.8,1189.8" fill="#5590dc" stroke="#5590dc" stroke-width="0.8" stroke-linejoin="round"/>
<polygon points="848.7,1150.3 881.3,1147.5 881.3,1189.9 848.7,1189.9" fill="#4a7cc7" stroke="#4a7cc7" stroke-width="0.8" stroke-linejoin="round"/>
<polygon points="881.3,1147.5 894.2,1151.0 894.2,1189.9 881.3,1189.9" fill="#5088d6" stroke="#5088d6" stroke-width="0.8" stroke-linejoin="round"/>
<polygon points="894.2,1151.0 926.3,1147.5 926.6,1190.4 894.2,1189.9" fill="#4a7cc7" stroke="#4a7cc7" stroke-width="0.8" stroke-linejoin="round"/>
<polygon points="926.3,1147.5 939.9,1151.7 940.4,1190.6 926.6,1190.4" fill="#4f86d4" stroke="#4f86d4" stroke-width="0.8" stroke-linejoin="round"/>
<polygon points="939.9,1151.7 973.3,1148.2 973.4,1191.4 940.4,1190.6" fill="#4878c4" stroke="#4878c4" stroke-width="0.8" stroke-linejoin="round"/>
<polygon points="973.3,1148.2 986.1,1151.7 986.1,1191.8 973.4,1191.4" fill="#4d84d2" stroke="#4d84d2" stroke-width="0.8" stroke-linejoin="round"/>
<polygon points="986.1,1151.7 1005.9,1144.7 1005.9,1189.6 986.1,1191.8" fill="#4676c0" stroke="#4676c0" stroke-width="0.8" stroke-linejoin="round"/>
<polygon points="1005.9,1144.7 1018.7,1149.1 1018.7,1188.3 1005.9,1189.6" fill="#4c82d0" stroke="#4c82d0" stroke-width="0.8" stroke-linejoin="round"/>
<polygon points="1018.7,1149.1 1038.0,1142.1 1038.8,1186.2 1018.7,1188.3" fill="#4a7ac2" stroke="#4a7ac2" stroke-width="0.8" stroke-linejoin="round"/>
<polygon points="1038.0,1142.1 1050.9,1145.6 1052.1,1184.8 1038.8,1186.2" fill="#5088d2" stroke="#5088d2" stroke-width="0.8" stroke-linejoin="round"/>
<polygon points="1050.9,1145.6 1071.4,1138.2 1071.9,1183.3 1052.1,1184.8" fill="#6a9cd0" stroke="#6a9cd0" stroke-width="0.8" stroke-linejoin="round"/>
<polygon points="1071.4,1138.2 1084.2,1142.8 1084.2,1182.4 1071.9,1183.3" fill="#6aa6e4" stroke="#6aa6e4" stroke-width="0.8" stroke-linejoin="round"/>
<path d="M830.5 1168.9L802.2 1149.4M830.5 1168.9L835.6 1146.3M830.5 1168.9L848.7 1150.3M830.5 1168.9L803.0 1189.4M830.5 1168.9L835.1 1184.8M830.5 1168.9L848.7 1189.9M876.2 1169.6L848.7 1150.3M876.2 1169.6L881.3 1147.5M876.2 1169.6L894.2 1151.0M876.2 1169.6L848.7 1189.9M876.2 1169.6L881.3 1185.9M876.2 1169.6L894.2 1189.9M921.9 1170.1L894.2 1151.0M921.9 1170.1L926.3 1147.5M921.9 1170.1L939.9 1151.7M921.9 1170.1L894.2 1189.9M921.9 1170.1L927.1 1186.6M921.9 1170.1L940.4 1190.6M967.4 1170.8L939.9 1151.7M967.4 1170.8L973.3 1148.2M967.4 1170.8L986.1 1151.7M967.4 1170.8L940.4 1190.6M967.4 1170.8L973.3 1188.3M967.4 1170.8L986.1 1191.8M1000.0 1168.0L986.1 1151.7M1000.0 1168.0L1005.9 1144.7M1000.0 1168.0L1018.7 1149.1M1000.0 1168.0L986.1 1191.8M1000.0 1168.0L1005.4 1184.3M1000.0 1168.0L1018.7 1188.3M1032.4 1164.3L1018.7 1149.1M1032.4 1164.3L1038.0 1142.1M1032.4 1164.3L1050.9 1145.6M1032.4 1164.3L1018.7 1188.3M1032.4 1164.3L1038.8 1180.6M1032.4 1164.3L1052.1 1184.8M1065.0 1161.5L1050.9 1145.6M1065.0 1161.5L1071.4 1138.2M1065.0 1161.5L1084.2 1142.8M1065.0 1161.5L1052.1 1184.8M1065.0 1161.5L1070.9 1177.8M1065.0 1161.5L1084.2 1182.4" stroke="#9a80d0" stroke-width="1.76" fill="none" opacity="0.8"/>
<circle cx="830.5" cy="1168.9" r="1.9" fill="#2f3f86" opacity="0.55"/>
<circle cx="876.2" cy="1169.6" r="1.9" fill="#2f3f86" opacity="0.55"/>
<circle cx="921.9" cy="1170.1" r="1.9" fill="#2f3f86" opacity="0.55"/>
<circle cx="967.4" cy="1170.8" r="1.9" fill="#2f3f86" opacity="0.55"/>
<circle cx="1000.0" cy="1168.0" r="1.9" fill="#2f3f86" opacity="0.55"/>
<circle cx="1032.4" cy="1164.3" r="1.9" fill="#2f3f86" opacity="0.55"/>
<circle cx="1065.0" cy="1161.5" r="1.9" fill="#2f3f86" opacity="0.55"/>
<circle cx="835.1" cy="1184.8" r="4.3" fill="#4f9a9a" opacity="0.85"/>
<circle cx="881.3" cy="1185.9" r="4.3" fill="#4f9a9a" opacity="0.85"/>
<circle cx="927.1" cy="1186.6" r="4.3" fill="#4f9a9a" opacity="0.85"/>
<circle cx="973.3" cy="1188.3" r="4.3" fill="#4f9a9a" opacity="0.85"/>
<circle cx="1005.4" cy="1184.3" r="4.3" fill="#4f9a9a" opacity="0.85"/>
<circle cx="1038.8" cy="1180.6" r="4.3" fill="#4f9a9a" opacity="0.85"/>
<circle cx="1070.9" cy="1177.8" r="4.3" fill="#4f9a9a" opacity="0.85"/>
<circle cx="868.5" cy="1142.8" r="4.9" fill="url(#gy)"/>
<circle cx="900.6" cy="1139.8" r="4.9" fill="url(#gy)"/>
<circle cx="913.4" cy="1143.8" r="4.9" fill="url(#gy)"/>
<circle cx="934.0" cy="1136.3" r="4.9" fill="url(#gy)"/>
<circle cx="946.8" cy="1139.8" r="4.9" fill="url(#gy)"/>
<circle cx="960.2" cy="1144.5" r="4.9" fill="url(#gy)"/>
<circle cx="978.9" cy="1137.5" r="4.9" fill="url(#gy)"/>
<circle cx="992.5" cy="1141.0" r="4.9" fill="url(#gy)"/>
<circle cx="1025.2" cy="1138.2" r="4.9" fill="url(#gy)"/>
<circle cx="835.6" cy="1146.3" r="4.9" fill="url(#gy)"/>
<circle cx="881.3" cy="1147.5" r="4.9" fill="url(#gy)"/>
<circle cx="926.3" cy="1147.5" r="4.9" fill="url(#gy)"/>
<circle cx="973.3" cy="1148.2" r="4.9" fill="url(#gy)"/>
<circle cx="1005.9" cy="1144.7" r="4.9" fill="url(#gy)"/>
<circle cx="1038.0" cy="1142.1" r="4.9" fill="url(#gy)"/>
<circle cx="1071.4" cy="1138.2" r="4.9" fill="url(#gy)"/>
<circle cx="802.2" cy="1149.4" r="4.9" fill="url(#gy)"/>
<circle cx="848.7" cy="1150.3" r="4.9" fill="url(#gy)"/>
<circle cx="894.2" cy="1151.0" r="4.9" fill="url(#gy)"/>
<circle cx="939.9" cy="1151.7" r="4.9" fill="url(#gy)"/>
<circle cx="986.1" cy="1151.7" r="4.9" fill="url(#gy)"/>
<circle cx="1018.7" cy="1149.1" r="4.9" fill="url(#gy)"/>
<circle cx="1050.9" cy="1145.6" r="4.9" fill="url(#gy)"/>
<circle cx="1084.2" cy="1142.8" r="4.9" fill="url(#gy)"/>
<circle cx="803.0" cy="1189.4" r="4.9" fill="url(#gy)"/>
<circle cx="848.7" cy="1189.9" r="4.9" fill="url(#gy)"/>
<circle cx="894.2" cy="1189.9" r="4.9" fill="url(#gy)"/>
<circle cx="940.4" cy="1190.6" r="4.9" fill="url(#gy)"/>
<circle cx="986.1" cy="1191.8" r="4.9" fill="url(#gy)"/>
<circle cx="1018.7" cy="1188.3" r="4.9" fill="url(#gy)"/>
<circle cx="1052.1" cy="1184.8" r="4.9" fill="url(#gy)"/>
<circle cx="1084.2" cy="1182.4" r="4.9" fill="url(#gy)"/>
<polygon points="802.2,1394.4 835.6,1391.3 868.5,1387.8 900.6,1384.8 934.0,1381.3 978.9,1382.5 1025.2,1383.2 1071.4,1383.2 1084.2,1387.8 1050.9,1390.6 1018.7,1394.1 986.1,1396.7 939.9,1396.7 894.2,1396.0 848.7,1395.3" fill="#528bd2" stroke="#528bd2" stroke-width="0.8" stroke-linejoin="round"/>
<polygon points="802.2,1394.4 835.6,1391.3 835.8,1434.8 803.0,1434.4" fill="#5d8dc9" stroke="#5d8dc9" stroke-width="0.8" stroke-linejoin="round"/>
<polygon points="835.6,1391.3 848.7,1395.3 848.7,1434.9 835.8,1434.8" fill="#5590dc" stroke="#5590dc" stroke-width="0.8" stroke-linejoin="round"/>
<polygon points="848.7,1395.3 881.3,1392.5 881.3,1434.9 848.7,1434.9" fill="#4a7cc7" stroke="#4a7cc7" stroke-width="0.8" stroke-linejoin="round"/>
<polygon points="881.3,1392.5 894.2,1396.0 894.2,1434.9 881.3,1434.9" fill="#5088d6" stroke="#5088d6" stroke-width="0.8" stroke-linejoin="round"/>
<polygon points="894.2,1396.0 926.3,1392.5 926.6,1435.4 894.2,1434.9" fill="#4a7cc7" stroke="#4a7cc7" stroke-width="0.8" stroke-linejoin="round"/>
<polygon points="926.3,1392.5 939.9,1396.7 940.4,1435.6 926.6,1435.4" fill="#4f86d4" stroke="#4f86d4" stroke-width="0.8" stroke-linejoin="round"/>
<polygon points="939.9,1396.7 973.3,1393.2 973.4,1436.4 940.4,1435.6" fill="#4878c4" stroke="#4878c4" stroke-width="0.8" stroke-linejoin="round"/>
<polygon points="973.3,1393.2 986.1,1396.7 986.1,1436.8 973.4,1436.4" fill="#4d84d2" stroke="#4d84d2" stroke-width="0.8" stroke-linejoin="round"/>
<polygon points="986.1,1396.7 1005.9,1389.7 1005.9,1434.6 986.1,1436.8" fill="#4676c0" stroke="#4676c0" stroke-width="0.8" stroke-linejoin="round"/>
<polygon points="1005.9,1389.7 1018.7,1394.1 1018.7,1433.3 1005.9,1434.6" fill="#4c82d0" stroke="#4c82d0" stroke-width="0.8" stroke-linejoin="round"/>
<polygon points="1018.7,1394.1 1038.0,1387.1 1038.8,1431.2 1018.7,1433.3" fill="#4a7ac2" stroke="#4a7ac2" stroke-width="0.8" stroke-linejoin="round"/>
<polygon points="1038.0,1387.1 1050.9,1390.6 1052.1,1429.8 1038.8,1431.2" fill="#5088d2" stroke="#5088d2" stroke-width="0.8" stroke-linejoin="round"/>
<polygon points="1050.9,1390.6 1071.4,1383.2 1071.9,1428.3 1052.1,1429.8" fill="#6a9cd0" stroke="#6a9cd0" stroke-width="0.8" stroke-linejoin="round"/>
<polygon points="1071.4,1383.2 1084.2,1387.8 1084.2,1427.4 1071.9,1428.3" fill="#6aa6e4" stroke="#6aa6e4" stroke-width="0.8" stroke-linejoin="round"/>
<path d="M830.5 1413.9L802.2 1394.4M830.5 1413.9L835.6 1391.3M830.5 1413.9L848.7 1395.3M830.5 1413.9L803.0 1434.4M830.5 1413.9L835.1 1429.8M830.5 1413.9L848.7 1434.9M876.2 1414.6L848.7 1395.3M876.2 1414.6L881.3 1392.5M876.2 1414.6L894.2 1396.0M876.2 1414.6L848.7 1434.9M876.2 1414.6L881.3 1430.9M876.2 1414.6L894.2 1434.9M921.9 1415.1L894.2 1396.0M921.9 1415.1L926.3 1392.5M921.9 1415.1L939.9 1396.7M921.9 1415.1L894.2 1434.9M921.9 1415.1L927.1 1431.6M921.9 1415.1L940.4 1435.6M967.4 1415.8L939.9 1396.7M967.4 1415.8L973.3 1393.2M967.4 1415.8L986.1 1396.7M967.4 1415.8L940.4 1435.6M967.4 1415.8L973.3 1433.3M967.4 1415.8L986.1 1436.8M1000.0 1413.0L986.1 1396.7M1000.0 1413.0L1005.9 1389.7M1000.0 1413.0L1018.7 1394.1M1000.0 1413.0L986.1 1436.8M1000.0 1413.0L1005.4 1429.3M1000.0 1413.0L1018.7 1433.3M1032.4 1409.3L1018.7 1394.1M1032.4 1409.3L1038.0 1387.1M1032.4 1409.3L1050.9 1390.6M1032.4 1409.3L1018.7 1433.3M1032.4 1409.3L1038.8 1425.6M1032.4 1409.3L1052.1 1429.8M1065.0 1406.5L1050.9 1390.6M1065.0 1406.5L1071.4 1383.2M1065.0 1406.5L1084.2 1387.8M1065.0 1406.5L1052.1 1429.8M1065.0 1406.5L1070.9 1422.8M1065.0 1406.5L1084.2 1427.4" stroke="#9a80d0" stroke-width="1.76" fill="none" opacity="0.8"/>
<circle cx="830.5" cy="1413.9" r="1.9" fill="#2f3f86" opacity="0.55"/>
<circle cx="876.2" cy="1414.6" r="1.9" fill="#2f3f86" opacity="0.55"/>
<circle cx="921.9" cy="1415.1" r="1.9" fill="#2f3f86" opacity="0.55"/>
<circle cx="967.4" cy="1415.8" r="1.9" fill="#2f3f86" opacity="0.55"/>
<circle cx="1000.0" cy="1413.0" r="1.9" fill="#2f3f86" opacity="0.55"/>
<circle cx="1032.4" cy="1409.3" r="1.9" fill="#2f3f86" opacity="0.55"/>
<circle cx="1065.0" cy="1406.5" r="1.9" fill="#2f3f86" opacity="0.55"/>
<circle cx="835.1" cy="1429.8" r="4.3" fill="#4f9a9a" opacity="0.85"/>
<circle cx="881.3" cy="1430.9" r="4.3" fill="#4f9a9a" opacity="0.85"/>
<circle cx="927.1" cy="1431.6" r="4.3" fill="#4f9a9a" opacity="0.85"/>
<circle cx="973.3" cy="1433.3" r="4.3" fill="#4f9a9a" opacity="0.85"/>
<circle cx="1005.4" cy="1429.3" r="4.3" fill="#4f9a9a" opacity="0.85"/>
<circle cx="1038.8" cy="1425.6" r="4.3" fill="#4f9a9a" opacity="0.85"/>
<circle cx="1070.9" cy="1422.8" r="4.3" fill="#4f9a9a" opacity="0.85"/>
<circle cx="868.5" cy="1387.8" r="4.9" fill="url(#gy)"/>
<circle cx="900.6" cy="1384.8" r="4.9" fill="url(#gy)"/>
<circle cx="913.4" cy="1388.8" r="4.9" fill="url(#gy)"/>
<circle cx="934.0" cy="1381.3" r="4.9" fill="url(#gy)"/>
<circle cx="946.8" cy="1384.8" r="4.9" fill="url(#gy)"/>
<circle cx="960.2" cy="1389.5" r="4.9" fill="url(#gy)"/>
<circle cx="978.9" cy="1382.5" r="4.9" fill="url(#gy)"/>
<circle cx="992.5" cy="1386.0" r="4.9" fill="url(#gy)"/>
<circle cx="1025.2" cy="1383.2" r="4.9" fill="url(#gy)"/>
<circle cx="835.6" cy="1391.3" r="4.9" fill="url(#gy)"/>
<circle cx="881.3" cy="1392.5" r="4.9" fill="url(#gy)"/>
<circle cx="926.3" cy="1392.5" r="4.9" fill="url(#gy)"/>
<circle cx="973.3" cy="1393.2" r="4.9" fill="url(#gy)"/>
<circle cx="1005.9" cy="1389.7" r="4.9" fill="url(#gy)"/>
<circle cx="1038.0" cy="1387.1" r="4.9" fill="url(#gy)"/>
<circle cx="1071.4" cy="1383.2" r="4.9" fill="url(#gy)"/>
<circle cx="802.2" cy="1394.4" r="4.9" fill="url(#gy)"/>
<circle cx="848.7" cy="1395.3" r="4.9" fill="url(#gy)"/>
<circle cx="894.2" cy="1396.0" r="4.9" fill="url(#gy)"/>
<circle cx="939.9" cy="1396.7" r="4.9" fill="url(#gy)"/>
<circle cx="986.1" cy="1396.7" r="4.9" fill="url(#gy)"/>
<circle cx="1018.7" cy="1394.1" r="4.9" fill="url(#gy)"/>
<circle cx="1050.9" cy="1390.6" r="4.9" fill="url(#gy)"/>
<circle cx="1084.2" cy="1387.8" r="4.9" fill="url(#gy)"/>
<circle cx="803.0" cy="1434.4" r="4.9" fill="url(#gy)"/>
<circle cx="848.7" cy="1434.9" r="4.9" fill="url(#gy)"/>
<circle cx="894.2" cy="1434.9" r="4.9" fill="url(#gy)"/>
<circle cx="940.4" cy="1435.6" r="4.9" fill="url(#gy)"/>
<circle cx="986.1" cy="1436.8" r="4.9" fill="url(#gy)"/>
<circle cx="1018.7" cy="1433.3" r="4.9" fill="url(#gy)"/>
<circle cx="1052.1" cy="1429.8" r="4.9" fill="url(#gy)"/>
<circle cx="1084.2" cy="1427.4" r="4.9" fill="url(#gy)"/>
</g>
<g filter="url(#bl2)">
<circle cx="920.3" cy="982.3" r="1.9" fill="#e6dce3" stroke="#b7a6b4" stroke-width="0.6"/>
<circle cx="921.9" cy="986.8" r="1.9" fill="#e6dce3" stroke="#b7a6b4" stroke-width="0.6"/>
<circle cx="938.3" cy="992.3" r="1.9" fill="#e6dce3" stroke="#b7a6b4" stroke-width="0.6"/>
<circle cx="936.6" cy="996.7" r="1.9" fill="#e6dce3" stroke="#b7a6b4" stroke-width="0.6"/>
<circle cx="913.9" cy="995.8" r="1.9" fill="#e6dce3" stroke="#b7a6b4" stroke-width="0.6"/>
<circle cx="915.5" cy="1000.2" r="1.9" fill="#e6dce3" stroke="#b7a6b4" stroke-width="0.6"/>
<circle cx="938.9" cy="1005.1" r="1.9" fill="#e6dce3" stroke="#b7a6b4" stroke-width="0.6"/>
<circle cx="937.2" cy="1009.6" r="1.9" fill="#e6dce3" stroke="#b7a6b4" stroke-width="0.6"/>
<circle cx="912.7" cy="1013.3" r="1.9" fill="#e6dce3" stroke="#b7a6b4" stroke-width="0.6"/>
<circle cx="914.3" cy="1017.7" r="1.9" fill="#e6dce3" stroke="#b7a6b4" stroke-width="0.6"/>
<circle cx="936.5" cy="1022.6" r="1.9" fill="#e6dce3" stroke="#b7a6b4" stroke-width="0.6"/>
<circle cx="934.9" cy="1027.1" r="1.9" fill="#e6dce3" stroke="#b7a6b4" stroke-width="0.6"/>
<circle cx="911.0" cy="1030.8" r="1.9" fill="#e6dce3" stroke="#b7a6b4" stroke-width="0.6"/>
<circle cx="912.6" cy="1035.2" r="1.9" fill="#e6dce3" stroke="#b7a6b4" stroke-width="0.6"/>
<circle cx="936.5" cy="1040.7" r="1.9" fill="#e6dce3" stroke="#b7a6b4" stroke-width="0.6"/>
<circle cx="934.9" cy="1045.2" r="1.9" fill="#e6dce3" stroke="#b7a6b4" stroke-width="0.6"/>
<circle cx="909.8" cy="1048.9" r="1.9" fill="#e6dce3" stroke="#b7a6b4" stroke-width="0.6"/>
<circle cx="911.4" cy="1053.3" r="1.9" fill="#e6dce3" stroke="#b7a6b4" stroke-width="0.6"/>
<circle cx="934.8" cy="1058.2" r="1.9" fill="#e6dce3" stroke="#b7a6b4" stroke-width="0.6"/>
<circle cx="933.1" cy="1062.7" r="1.9" fill="#e6dce3" stroke="#b7a6b4" stroke-width="0.6"/>
<circle cx="908.6" cy="1067.0" r="1.9" fill="#e6dce3" stroke="#b7a6b4" stroke-width="0.6"/>
<circle cx="910.3" cy="1071.4" r="1.9" fill="#e6dce3" stroke="#b7a6b4" stroke-width="0.6"/>
<circle cx="933.6" cy="1076.3" r="1.9" fill="#e6dce3" stroke="#b7a6b4" stroke-width="0.6"/>
<circle cx="932.0" cy="1080.8" r="1.9" fill="#e6dce3" stroke="#b7a6b4" stroke-width="0.6"/>
<circle cx="908.0" cy="1084.5" r="1.9" fill="#e6dce3" stroke="#b7a6b4" stroke-width="0.6"/>
<circle cx="909.7" cy="1089.0" r="1.9" fill="#e6dce3" stroke="#b7a6b4" stroke-width="0.6"/>
<circle cx="931.9" cy="1094.4" r="1.9" fill="#e6dce3" stroke="#b7a6b4" stroke-width="0.6"/>
<circle cx="930.2" cy="1098.9" r="1.9" fill="#e6dce3" stroke="#b7a6b4" stroke-width="0.6"/>
<circle cx="906.9" cy="1102.6" r="1.9" fill="#e6dce3" stroke="#b7a6b4" stroke-width="0.6"/>
<circle cx="908.5" cy="1107.1" r="1.9" fill="#e6dce3" stroke="#b7a6b4" stroke-width="0.6"/>
<circle cx="930.1" cy="1112.0" r="1.9" fill="#e6dce3" stroke="#b7a6b4" stroke-width="0.6"/>
<circle cx="928.5" cy="1116.4" r="1.9" fill="#e6dce3" stroke="#b7a6b4" stroke-width="0.6"/>
<circle cx="974.6" cy="970.1" r="1.9" fill="#e6dce3" stroke="#b7a6b4" stroke-width="0.6"/>
<circle cx="976.2" cy="974.5" r="1.9" fill="#e6dce3" stroke="#b7a6b4" stroke-width="0.6"/>
<circle cx="997.2" cy="979.4" r="1.9" fill="#e6dce3" stroke="#b7a6b4" stroke-width="0.6"/>
<circle cx="995.6" cy="983.9" r="1.9" fill="#e6dce3" stroke="#b7a6b4" stroke-width="0.6"/>
<circle cx="972.3" cy="987.6" r="1.9" fill="#e6dce3" stroke="#b7a6b4" stroke-width="0.6"/>
<circle cx="973.9" cy="992.0" r="1.9" fill="#e6dce3" stroke="#b7a6b4" stroke-width="0.6"/>
<circle cx="995.5" cy="996.9" r="1.9" fill="#e6dce3" stroke="#b7a6b4" stroke-width="0.6"/>
<circle cx="993.9" cy="1001.4" r="1.9" fill="#e6dce3" stroke="#b7a6b4" stroke-width="0.6"/>
<circle cx="970.5" cy="1006.3" r="1.9" fill="#e6dce3" stroke="#b7a6b4" stroke-width="0.6"/>
<circle cx="972.1" cy="1010.7" r="1.9" fill="#e6dce3" stroke="#b7a6b4" stroke-width="0.6"/>
<circle cx="994.3" cy="1015.0" r="1.9" fill="#e6dce3" stroke="#b7a6b4" stroke-width="0.6"/>
<circle cx="992.7" cy="1019.5" r="1.9" fill="#e6dce3" stroke="#b7a6b4" stroke-width="0.6"/>
<circle cx="969.3" cy="1023.8" r="1.9" fill="#e6dce3" stroke="#b7a6b4" stroke-width="0.6"/>
<circle cx="971.0" cy="1028.2" r="1.9" fill="#e6dce3" stroke="#b7a6b4" stroke-width="0.6"/>
<circle cx="993.2" cy="1032.6" r="1.9" fill="#e6dce3" stroke="#b7a6b4" stroke-width="0.6"/>
<circle cx="991.5" cy="1037.0" r="1.9" fill="#e6dce3" stroke="#b7a6b4" stroke-width="0.6"/>
<circle cx="968.2" cy="1041.9" r="1.9" fill="#e6dce3" stroke="#b7a6b4" stroke-width="0.6"/>
<circle cx="969.8" cy="1046.3" r="1.9" fill="#e6dce3" stroke="#b7a6b4" stroke-width="0.6"/>
<circle cx="992.0" cy="1050.7" r="1.9" fill="#e6dce3" stroke="#b7a6b4" stroke-width="0.6"/>
<circle cx="990.4" cy="1055.1" r="1.9" fill="#e6dce3" stroke="#b7a6b4" stroke-width="0.6"/>
<circle cx="967.6" cy="1059.4" r="1.9" fill="#e6dce3" stroke="#b7a6b4" stroke-width="0.6"/>
<circle cx="969.2" cy="1063.8" r="1.9" fill="#e6dce3" stroke="#b7a6b4" stroke-width="0.6"/>
<circle cx="990.8" cy="1068.8" r="1.9" fill="#e6dce3" stroke="#b7a6b4" stroke-width="0.6"/>
<circle cx="989.2" cy="1073.2" r="1.9" fill="#e6dce3" stroke="#b7a6b4" stroke-width="0.6"/>
<circle cx="965.8" cy="1076.9" r="1.9" fill="#e6dce3" stroke="#b7a6b4" stroke-width="0.6"/>
<circle cx="967.5" cy="1081.4" r="1.9" fill="#e6dce3" stroke="#b7a6b4" stroke-width="0.6"/>
<circle cx="988.5" cy="1086.3" r="1.9" fill="#e6dce3" stroke="#b7a6b4" stroke-width="0.6"/>
<circle cx="986.9" cy="1090.7" r="1.9" fill="#e6dce3" stroke="#b7a6b4" stroke-width="0.6"/>
<circle cx="965.2" cy="1089.2" r="1.9" fill="#e6dce3" stroke="#b7a6b4" stroke-width="0.6"/>
<circle cx="966.9" cy="1093.6" r="1.9" fill="#e6dce3" stroke="#b7a6b4" stroke-width="0.6"/>
<circle cx="983.8" cy="1099.7" r="1.9" fill="#e6dce3" stroke="#b7a6b4" stroke-width="0.6"/>
<circle cx="982.2" cy="1104.1" r="1.9" fill="#e6dce3" stroke="#b7a6b4" stroke-width="0.6"/>
<circle cx="912.0" cy="969.9" r="1.9" fill="#e6dce3" stroke="#b7a6b4" stroke-width="0.6"/>
<circle cx="916.9" cy="965.2" r="1.9" fill="#e6dce3" stroke="#b7a6b4" stroke-width="0.6"/>
<circle cx="913.9" cy="976.5" r="1.9" fill="#e6dce3" stroke="#b7a6b4" stroke-width="0.6"/>
<circle cx="939.6" cy="965.2" r="1.9" fill="#e6dce3" stroke="#b7a6b4" stroke-width="0.6"/>
<circle cx="941.8" cy="971.6" r="1.9" fill="#e6dce3" stroke="#b7a6b4" stroke-width="0.6"/>
<circle cx="932.9" cy="964.1" r="1.9" fill="#e6dce3" stroke="#b7a6b4" stroke-width="0.6"/>
<circle cx="950.1" cy="980.3" r="1.9" fill="#e6dce3" stroke="#b7a6b4" stroke-width="0.6"/>
<circle cx="945.1" cy="985.0" r="1.9" fill="#e6dce3" stroke="#b7a6b4" stroke-width="0.6"/>
<circle cx="948.3" cy="973.8" r="1.9" fill="#e6dce3" stroke="#b7a6b4" stroke-width="0.6"/>
<circle cx="954.0" cy="1104.2" r="1.9" fill="#e6dce3" stroke="#b7a6b4" stroke-width="0.6"/>
<circle cx="959.0" cy="1099.5" r="1.9" fill="#e6dce3" stroke="#b7a6b4" stroke-width="0.6"/>
<circle cx="955.9" cy="1110.7" r="1.9" fill="#e6dce3" stroke="#b7a6b4" stroke-width="0.6"/>
<circle cx="992.2" cy="1112.9" r="1.9" fill="#e6dce3" stroke="#b7a6b4" stroke-width="0.6"/>
<circle cx="987.8" cy="1118.0" r="1.9" fill="#e6dce3" stroke="#b7a6b4" stroke-width="0.6"/>
<circle cx="989.8" cy="1106.5" r="1.9" fill="#e6dce3" stroke="#b7a6b4" stroke-width="0.6"/>
<circle cx="967.3" cy="1124.2" r="1.9" fill="#e6dce3" stroke="#b7a6b4" stroke-width="0.6"/>
<circle cx="963.1" cy="1118.8" r="1.9" fill="#e6dce3" stroke="#b7a6b4" stroke-width="0.6"/>
<circle cx="974.0" cy="1122.9" r="1.9" fill="#e6dce3" stroke="#b7a6b4" stroke-width="0.6"/>
<path d="M927.5 983.3L931.0 993.2M931.0 993.2L921.1 996.7M921.1 996.7L931.6 1006.0M931.6 1006.0L919.9 1014.2M919.9 1014.2L929.3 1023.6M929.3 1023.6L918.2 1031.7M918.2 1031.7L929.3 1041.7M929.3 1041.7L917.0 1049.8M917.0 1049.8L927.5 1059.2M927.5 1059.2L915.9 1067.9M915.9 1067.9L926.4 1077.3M926.4 1077.3L915.3 1085.5M915.3 1085.5L924.6 1095.4M924.6 1095.4L914.1 1103.5M914.1 1103.5L922.9 1112.9M981.8 971.0L990.0 980.4M990.0 980.4L979.5 988.5M979.5 988.5L988.3 997.9M988.3 997.9L977.7 1007.2M977.7 1007.2L987.1 1016.0M987.1 1016.0L976.6 1024.7M976.6 1024.7L985.9 1033.5M985.9 1033.5L975.4 1042.8M975.4 1042.8L984.7 1051.6M984.7 1051.6L974.8 1060.3M974.8 1060.3L983.6 1069.7M983.6 1069.7L973.1 1077.9M973.1 1077.9L981.2 1087.2M981.2 1087.2L972.5 1090.1M972.5 1090.1L976.6 1100.6M918.2 971.6L931.3 975.1M935.5 970.1L931.3 975.1M943.9 978.6L931.3 975.1M960.2 1105.9L972.8 1109.4M985.9 1111.7L972.8 1109.4M969.6 1118.1L972.8 1109.4M931.3 975.1L927.5 983.3M972.8 1109.4L976.6 1100.6" stroke="#5fb0bc" stroke-width="3.6" fill="none" stroke-linecap="round"/>
<circle cx="918.2" cy="971.6" r="5.2" fill="url(#gc)"/>
<circle cx="935.5" cy="970.1" r="5.2" fill="url(#gc)"/>
<circle cx="943.9" cy="978.6" r="5.2" fill="url(#gc)"/>
<circle cx="960.2" cy="1105.9" r="5.2" fill="url(#gc)"/>
<circle cx="985.9" cy="1111.7" r="5.2" fill="url(#gc)"/>
<circle cx="969.6" cy="1118.1" r="5.2" fill="url(#gc)"/>
<ellipse cx="926.5" cy="983.3" rx="6.1" ry="4.7" fill="url(#gc)"/>
<ellipse cx="932.0" cy="993.2" rx="6.1" ry="4.7" fill="url(#gc)"/>
<ellipse cx="920.1" cy="996.7" rx="6.1" ry="4.7" fill="url(#gc)"/>
<ellipse cx="932.6" cy="1006.0" rx="6.1" ry="4.7" fill="url(#gc)"/>
<ellipse cx="918.9" cy="1014.2" rx="6.1" ry="4.7" fill="url(#gc)"/>
<ellipse cx="930.3" cy="1023.6" rx="6.1" ry="4.7" fill="url(#gc)"/>
<ellipse cx="917.2" cy="1031.7" rx="6.1" ry="4.7" fill="url(#gc)"/>
<ellipse cx="930.3" cy="1041.7" rx="6.1" ry="4.7" fill="url(#gc)"/>
<ellipse cx="916.0" cy="1049.8" rx="6.1" ry="4.7" fill="url(#gc)"/>
<ellipse cx="928.5" cy="1059.2" rx="6.1" ry="4.7" fill="url(#gc)"/>
<ellipse cx="914.9" cy="1067.9" rx="6.1" ry="4.7" fill="url(#gc)"/>
<ellipse cx="927.4" cy="1077.3" rx="6.1" ry="4.7" fill="url(#gc)"/>
<ellipse cx="914.3" cy="1085.5" rx="6.1" ry="4.7" fill="url(#gc)"/>
<ellipse cx="925.6" cy="1095.4" rx="6.1" ry="4.7" fill="url(#gc)"/>
<ellipse cx="913.1" cy="1103.5" rx="6.1" ry="4.7" fill="url(#gc)"/>
<ellipse cx="923.9" cy="1112.9" rx="6.1" ry="4.7" fill="url(#gc)"/>
<ellipse cx="980.8" cy="971.0" rx="6.1" ry="4.7" fill="url(#gc)"/>
<ellipse cx="991.0" cy="980.4" rx="6.1" ry="4.7" fill="url(#gc)"/>
<ellipse cx="978.5" cy="988.5" rx="6.1" ry="4.7" fill="url(#gc)"/>
<ellipse cx="989.3" cy="997.9" rx="6.1" ry="4.7" fill="url(#gc)"/>
<ellipse cx="976.7" cy="1007.2" rx="6.1" ry="4.7" fill="url(#gc)"/>
<ellipse cx="988.1" cy="1016.0" rx="6.1" ry="4.7" fill="url(#gc)"/>
<ellipse cx="975.6" cy="1024.7" rx="6.1" ry="4.7" fill="url(#gc)"/>
<ellipse cx="986.9" cy="1033.5" rx="6.1" ry="4.7" fill="url(#gc)"/>
<ellipse cx="974.4" cy="1042.8" rx="6.1" ry="4.7" fill="url(#gc)"/>
<ellipse cx="985.7" cy="1051.6" rx="6.1" ry="4.7" fill="url(#gc)"/>
<ellipse cx="973.8" cy="1060.3" rx="6.1" ry="4.7" fill="url(#gc)"/>
<ellipse cx="984.6" cy="1069.7" rx="6.1" ry="4.7" fill="url(#gc)"/>
<ellipse cx="972.1" cy="1077.9" rx="6.1" ry="4.7" fill="url(#gc)"/>
<ellipse cx="982.2" cy="1087.2" rx="6.1" ry="4.7" fill="url(#gc)"/>
<ellipse cx="971.5" cy="1090.1" rx="6.1" ry="4.7" fill="url(#gc)"/>
<ellipse cx="977.6" cy="1100.6" rx="6.1" ry="4.7" fill="url(#gc)"/>
<circle cx="931.3" cy="975.1" r="4.5" fill="url(#gn)"/>
<circle cx="972.8" cy="1109.4" r="4.5" fill="url(#gn)"/>
<circle cx="908.5" cy="1230.3" r="1.9" fill="#e6dce3" stroke="#b7a6b4" stroke-width="0.6"/>
<circle cx="910.1" cy="1234.8" r="1.9" fill="#e6dce3" stroke="#b7a6b4" stroke-width="0.6"/>
<circle cx="926.5" cy="1240.3" r="1.9" fill="#e6dce3" stroke="#b7a6b4" stroke-width="0.6"/>
<circle cx="924.8" cy="1244.7" r="1.9" fill="#e6dce3" stroke="#b7a6b4" stroke-width="0.6"/>
<circle cx="902.1" cy="1243.8" r="1.9" fill="#e6dce3" stroke="#b7a6b4" stroke-width="0.6"/>
<circle cx="903.7" cy="1248.2" r="1.9" fill="#e6dce3" stroke="#b7a6b4" stroke-width="0.6"/>
<circle cx="927.1" cy="1253.1" r="1.9" fill="#e6dce3" stroke="#b7a6b4" stroke-width="0.6"/>
<circle cx="925.4" cy="1257.6" r="1.9" fill="#e6dce3" stroke="#b7a6b4" stroke-width="0.6"/>
<circle cx="900.9" cy="1261.3" r="1.9" fill="#e6dce3" stroke="#b7a6b4" stroke-width="0.6"/>
<circle cx="902.5" cy="1265.7" r="1.9" fill="#e6dce3" stroke="#b7a6b4" stroke-width="0.6"/>
<circle cx="924.7" cy="1270.6" r="1.9" fill="#e6dce3" stroke="#b7a6b4" stroke-width="0.6"/>
<circle cx="923.1" cy="1275.1" r="1.9" fill="#e6dce3" stroke="#b7a6b4" stroke-width="0.6"/>
<circle cx="899.2" cy="1278.8" r="1.9" fill="#e6dce3" stroke="#b7a6b4" stroke-width="0.6"/>
<circle cx="900.8" cy="1283.2" r="1.9" fill="#e6dce3" stroke="#b7a6b4" stroke-width="0.6"/>
<circle cx="924.7" cy="1288.7" r="1.9" fill="#e6dce3" stroke="#b7a6b4" stroke-width="0.6"/>
<circle cx="923.1" cy="1293.2" r="1.9" fill="#e6dce3" stroke="#b7a6b4" stroke-width="0.6"/>
<circle cx="898.0" cy="1296.9" r="1.9" fill="#e6dce3" stroke="#b7a6b4" stroke-width="0.6"/>
<circle cx="899.6" cy="1301.3" r="1.9" fill="#e6dce3" stroke="#b7a6b4" stroke-width="0.6"/>
<circle cx="923.0" cy="1306.2" r="1.9" fill="#e6dce3" stroke="#b7a6b4" stroke-width="0.6"/>
<circle cx="921.3" cy="1310.7" r="1.9" fill="#e6dce3" stroke="#b7a6b4" stroke-width="0.6"/>
<circle cx="896.8" cy="1315.0" r="1.9" fill="#e6dce3" stroke="#b7a6b4" stroke-width="0.6"/>
<circle cx="898.5" cy="1319.4" r="1.9" fill="#e6dce3" stroke="#b7a6b4" stroke-width="0.6"/>
<circle cx="921.8" cy="1324.3" r="1.9" fill="#e6dce3" stroke="#b7a6b4" stroke-width="0.6"/>
<circle cx="920.2" cy="1328.8" r="1.9" fill="#e6dce3" stroke="#b7a6b4" stroke-width="0.6"/>
<circle cx="896.2" cy="1332.5" r="1.9" fill="#e6dce3" stroke="#b7a6b4" stroke-width="0.6"/>
<circle cx="897.9" cy="1337.0" r="1.9" fill="#e6dce3" stroke="#b7a6b4" stroke-width="0.6"/>
<circle cx="920.1" cy="1342.4" r="1.9" fill="#e6dce3" stroke="#b7a6b4" stroke-width="0.6"/>
<circle cx="918.4" cy="1346.9" r="1.9" fill="#e6dce3" stroke="#b7a6b4" stroke-width="0.6"/>
<circle cx="895.1" cy="1350.6" r="1.9" fill="#e6dce3" stroke="#b7a6b4" stroke-width="0.6"/>
<circle cx="896.7" cy="1355.1" r="1.9" fill="#e6dce3" stroke="#b7a6b4" stroke-width="0.6"/>
<circle cx="918.3" cy="1360.0" r="1.9" fill="#e6dce3" stroke="#b7a6b4" stroke-width="0.6"/>
<circle cx="916.7" cy="1364.4" r="1.9" fill="#e6dce3" stroke="#b7a6b4" stroke-width="0.6"/>
<circle cx="962.8" cy="1218.1" r="1.9" fill="#e6dce3" stroke="#b7a6b4" stroke-width="0.6"/>
<circle cx="964.4" cy="1222.5" r="1.9" fill="#e6dce3" stroke="#b7a6b4" stroke-width="0.6"/>
<circle cx="985.4" cy="1227.4" r="1.9" fill="#e6dce3" stroke="#b7a6b4" stroke-width="0.6"/>
<circle cx="983.8" cy="1231.9" r="1.9" fill="#e6dce3" stroke="#b7a6b4" stroke-width="0.6"/>
<circle cx="960.5" cy="1235.6" r="1.9" fill="#e6dce3" stroke="#b7a6b4" stroke-width="0.6"/>
<circle cx="962.1" cy="1240.0" r="1.9" fill="#e6dce3" stroke="#b7a6b4" stroke-width="0.6"/>
<circle cx="983.7" cy="1244.9" r="1.9" fill="#e6dce3" stroke="#b7a6b4" stroke-width="0.6"/>
<circle cx="982.1" cy="1249.4" r="1.9" fill="#e6dce3" stroke="#b7a6b4" stroke-width="0.6"/>
<circle cx="958.7" cy="1254.3" r="1.9" fill="#e6dce3" stroke="#b7a6b4" stroke-width="0.6"/>
<circle cx="960.3" cy="1258.7" r="1.9" fill="#e6dce3" stroke="#b7a6b4" stroke-width="0.6"/>
<circle cx="982.5" cy="1263.0" r="1.9" fill="#e6dce3" stroke="#b7a6b4" stroke-width="0.6"/>
<circle cx="980.9" cy="1267.5" r="1.9" fill="#e6dce3" stroke="#b7a6b4" stroke-width="0.6"/>
<circle cx="957.5" cy="1271.8" r="1.9" fill="#e6dce3" stroke="#b7a6b4" stroke-width="0.6"/>
<circle cx="959.2" cy="1276.2" r="1.9" fill="#e6dce3" stroke="#b7a6b4" stroke-width="0.6"/>
<circle cx="981.4" cy="1280.6" r="1.9" fill="#e6dce3" stroke="#b7a6b4" stroke-width="0.6"/>
<circle cx="979.7" cy="1285.0" r="1.9" fill="#e6dce3" stroke="#b7a6b4" stroke-width="0.6"/>
<circle cx="956.4" cy="1289.9" r="1.9" fill="#e6dce3" stroke="#b7a6b4" stroke-width="0.6"/>
<circle cx="958.0" cy="1294.3" r="1.9" fill="#e6dce3" stroke="#b7a6b4" stroke-width="0.6"/>
<circle cx="980.2" cy="1298.7" r="1.9" fill="#e6dce3" stroke="#b7a6b4" stroke-width="0.6"/>
<circle cx="978.6" cy="1303.1" r="1.9" fill="#e6dce3" stroke="#b7a6b4" stroke-width="0.6"/>
<circle cx="955.8" cy="1307.4" r="1.9" fill="#e6dce3" stroke="#b7a6b4" stroke-width="0.6"/>
<circle cx="957.4" cy="1311.8" r="1.9" fill="#e6dce3" stroke="#b7a6b4" stroke-width="0.6"/>
<circle cx="979.0" cy="1316.8" r="1.9" fill="#e6dce3" stroke="#b7a6b4" stroke-width="0.6"/>
<circle cx="977.4" cy="1321.2" r="1.9" fill="#e6dce3" stroke="#b7a6b4" stroke-width="0.6"/>
<circle cx="954.0" cy="1324.9" r="1.9" fill="#e6dce3" stroke="#b7a6b4" stroke-width="0.6"/>
<circle cx="955.7" cy="1329.4" r="1.9" fill="#e6dce3" stroke="#b7a6b4" stroke-width="0.6"/>
<circle cx="976.7" cy="1334.3" r="1.9" fill="#e6dce3" stroke="#b7a6b4" stroke-width="0.6"/>
<circle cx="975.1" cy="1338.7" r="1.9" fill="#e6dce3" stroke="#b7a6b4" stroke-width="0.6"/>
<circle cx="953.4" cy="1337.2" r="1.9" fill="#e6dce3" stroke="#b7a6b4" stroke-width="0.6"/>
<circle cx="955.1" cy="1341.6" r="1.9" fill="#e6dce3" stroke="#b7a6b4" stroke-width="0.6"/>
<circle cx="972.0" cy="1347.7" r="1.9" fill="#e6dce3" stroke="#b7a6b4" stroke-width="0.6"/>
<circle cx="970.4" cy="1352.1" r="1.9" fill="#e6dce3" stroke="#b7a6b4" stroke-width="0.6"/>
<circle cx="900.2" cy="1217.9" r="1.9" fill="#e6dce3" stroke="#b7a6b4" stroke-width="0.6"/>
<circle cx="905.1" cy="1213.2" r="1.9" fill="#e6dce3" stroke="#b7a6b4" stroke-width="0.6"/>
<circle cx="902.1" cy="1224.5" r="1.9" fill="#e6dce3" stroke="#b7a6b4" stroke-width="0.6"/>
<circle cx="927.8" cy="1213.2" r="1.9" fill="#e6dce3" stroke="#b7a6b4" stroke-width="0.6"/>
<circle cx="930.0" cy="1219.6" r="1.9" fill="#e6dce3" stroke="#b7a6b4" stroke-width="0.6"/>
<circle cx="921.1" cy="1212.1" r="1.9" fill="#e6dce3" stroke="#b7a6b4" stroke-width="0.6"/>
<circle cx="938.3" cy="1228.3" r="1.9" fill="#e6dce3" stroke="#b7a6b4" stroke-width="0.6"/>
<circle cx="933.3" cy="1233.0" r="1.9" fill="#e6dce3" stroke="#b7a6b4" stroke-width="0.6"/>
<circle cx="936.5" cy="1221.8" r="1.9" fill="#e6dce3" stroke="#b7a6b4" stroke-width="0.6"/>
<circle cx="942.2" cy="1352.2" r="1.9" fill="#e6dce3" stroke="#b7a6b4" stroke-width="0.6"/>
<circle cx="947.2" cy="1347.5" r="1.9" fill="#e6dce3" stroke="#b7a6b4" stroke-width="0.6"/>
<circle cx="944.1" cy="1358.7" r="1.9" fill="#e6dce3" stroke="#b7a6b4" stroke-width="0.6"/>
<circle cx="980.4" cy="1360.9" r="1.9" fill="#e6dce3" stroke="#b7a6b4" stroke-width="0.6"/>
<circle cx="976.0" cy="1366.0" r="1.9" fill="#e6dce3" stroke="#b7a6b4" stroke-width="0.6"/>
<circle cx="978.0" cy="1354.5" r="1.9" fill="#e6dce3" stroke="#b7a6b4" stroke-width="0.6"/>
<circle cx="955.5" cy="1372.2" r="1.9" fill="#e6dce3" stroke="#b7a6b4" stroke-width="0.6"/>
<circle cx="951.3" cy="1366.8" r="1.9" fill="#e6dce3" stroke="#b7a6b4" stroke-width="0.6"/>
<circle cx="962.2" cy="1370.9" r="1.9" fill="#e6dce3" stroke="#b7a6b4" stroke-width="0.6"/>
<path d="M915.7 1231.3L919.2 1241.2M919.2 1241.2L909.3 1244.7M909.3 1244.7L919.8 1254.0M919.8 1254.0L908.1 1262.2M908.1 1262.2L917.5 1271.6M917.5 1271.6L906.4 1279.7M906.4 1279.7L917.5 1289.7M917.5 1289.7L905.2 1297.8M905.2 1297.8L915.7 1307.2M915.7 1307.2L904.1 1315.9M904.1 1315.9L914.6 1325.3M914.6 1325.3L903.5 1333.5M903.5 1333.5L912.8 1343.4M912.8 1343.4L902.3 1351.5M902.3 1351.5L911.1 1360.9M970.0 1219.0L978.2 1228.4M978.2 1228.4L967.7 1236.5M967.7 1236.5L976.5 1245.9M976.5 1245.9L965.9 1255.2M965.9 1255.2L975.3 1264.0M975.3 1264.0L964.8 1272.7M964.8 1272.7L974.1 1281.5M974.1 1281.5L963.6 1290.8M963.6 1290.8L972.9 1299.6M972.9 1299.6L963.0 1308.3M963.0 1308.3L971.8 1317.7M971.8 1317.7L961.3 1325.9M961.3 1325.9L969.4 1335.2M969.4 1335.2L960.7 1338.1M960.7 1338.1L964.8 1348.6M906.4 1219.6L919.5 1223.1M923.7 1218.1L919.5 1223.1M932.1 1226.6L919.5 1223.1M948.4 1353.9L961.0 1357.4M974.1 1359.7L961.0 1357.4M957.8 1366.1L961.0 1357.4M919.5 1223.1L915.7 1231.3M961.0 1357.4L964.8 1348.6" stroke="#5fb0bc" stroke-width="3.6" fill="none" stroke-linecap="round"/>
<circle cx="906.4" cy="1219.6" r="5.2" fill="url(#gc)"/>
<circle cx="923.7" cy="1218.1" r="5.2" fill="url(#gc)"/>
<circle cx="932.1" cy="1226.6" r="5.2" fill="url(#gc)"/>
<circle cx="948.4" cy="1353.9" r="5.2" fill="url(#gc)"/>
<circle cx="974.1" cy="1359.7" r="5.2" fill="url(#gc)"/>
<circle cx="957.8" cy="1366.1" r="5.2" fill="url(#gc)"/>
<ellipse cx="914.7" cy="1231.3" rx="6.1" ry="4.7" fill="url(#gc)"/>
<ellipse cx="920.2" cy="1241.2" rx="6.1" ry="4.7" fill="url(#gc)"/>
<ellipse cx="908.3" cy="1244.7" rx="6.1" ry="4.7" fill="url(#gc)"/>
<ellipse cx="920.8" cy="1254.0" rx="6.1" ry="4.7" fill="url(#gc)"/>
<ellipse cx="907.1" cy="1262.2" rx="6.1" ry="4.7" fill="url(#gc)"/>
<ellipse cx="918.5" cy="1271.6" rx="6.1" ry="4.7" fill="url(#gc)"/>
<ellipse cx="905.4" cy="1279.7" rx="6.1" ry="4.7" fill="url(#gc)"/>
<ellipse cx="918.5" cy="1289.7" rx="6.1" ry="4.7" fill="url(#gc)"/>
<ellipse cx="904.2" cy="1297.8" rx="6.1" ry="4.7" fill="url(#gc)"/>
<ellipse cx="916.7" cy="1307.2" rx="6.1" ry="4.7" fill="url(#gc)"/>
<ellipse cx="903.1" cy="1315.9" rx="6.1" ry="4.7" fill="url(#gc)"/>
<ellipse cx="915.6" cy="1325.3" rx="6.1" ry="4.7" fill="url(#gc)"/>
<ellipse cx="902.5" cy="1333.5" rx="6.1" ry="4.7" fill="url(#gc)"/>
<ellipse cx="913.8" cy="1343.4" rx="6.1" ry="4.7" fill="url(#gc)"/>
<ellipse cx="901.3" cy="1351.5" rx="6.1" ry="4.7" fill="url(#gc)"/>
<ellipse cx="912.1" cy="1360.9" rx="6.1" ry="4.7" fill="url(#gc)"/>
<ellipse cx="969.0" cy="1219.0" rx="6.1" ry="4.7" fill="url(#gc)"/>
<ellipse cx="979.2" cy="1228.4" rx="6.1" ry="4.7" fill="url(#gc)"/>
<ellipse cx="966.7" cy="1236.5" rx="6.1" ry="4.7" fill="url(#gc)"/>
<ellipse cx="977.5" cy="1245.9" rx="6.1" ry="4.7" fill="url(#gc)"/>
<ellipse cx="964.9" cy="1255.2" rx="6.1" ry="4.7" fill="url(#gc)"/>
<ellipse cx="976.3" cy="1264.0" rx="6.1" ry="4.7" fill="url(#gc)"/>
<ellipse cx="963.8" cy="1272.7" rx="6.1" ry="4.7" fill="url(#gc)"/>
<ellipse cx="975.1" cy="1281.5" rx="6.1" ry="4.7" fill="url(#gc)"/>
<ellipse cx="962.6" cy="1290.8" rx="6.1" ry="4.7" fill="url(#gc)"/>
<ellipse cx="973.9" cy="1299.6" rx="6.1" ry="4.7" fill="url(#gc)"/>
<ellipse cx="962.0" cy="1308.3" rx="6.1" ry="4.7" fill="url(#gc)"/>
<ellipse cx="972.8" cy="1317.7" rx="6.1" ry="4.7" fill="url(#gc)"/>
<ellipse cx="960.3" cy="1325.9" rx="6.1" ry="4.7" fill="url(#gc)"/>
<ellipse cx="970.4" cy="1335.2" rx="6.1" ry="4.7" fill="url(#gc)"/>
<ellipse cx="959.7" cy="1338.1" rx="6.1" ry="4.7" fill="url(#gc)"/>
<ellipse cx="965.8" cy="1348.6" rx="6.1" ry="4.7" fill="url(#gc)"/>
<circle cx="919.5" cy="1223.1" r="4.5" fill="url(#gn)"/>
<circle cx="961.0" cy="1357.4" r="4.5" fill="url(#gn)"/>
</g>
<path d="M486.5 1117.6H695V1096.6L721.2 1137.3L695 1178V1157H486.5Z" fill="#98989b" stroke="#606064" stroke-width="2.5" stroke-linejoin="miter"/>
<text x="469" y="1052.4" font-size="34" fill="#b3161e" textLength="245" lengthAdjust="spacing">Electrochemical</text>
<text x="492" y="1098.2" font-size="34" fill="#b3161e" textLength="197" lengthAdjust="spacing">intercalation</text>
<g fill="#111" stroke="#111" stroke-width="0.9">
<text x="171.5" y="1526.9" font-size="54.5" textLength="168.5" lengthAdjust="spacingAndGlyphs">2H-TaS</text>
<text x="340" y="1541.5" font-size="37" textLength="19.5" lengthAdjust="spacingAndGlyphs">2</text>
<text x="849.5" y="1520.1" font-size="56" textLength="83" lengthAdjust="spacingAndGlyphs">TaS</text>
<text x="930.8" y="1534.5" font-size="37" textLength="18.6" lengthAdjust="spacingAndGlyphs">2</text>
<text x="952.5" y="1520.1" font-size="56" textLength="15.5" lengthAdjust="spacingAndGlyphs">(</text>
<text x="967.5" y="1520.1" font-size="56" textLength="91" lengthAdjust="spacingAndGlyphs">CTA</text>
<text x="1059.5" y="1503" font-size="36" textLength="21.5" lengthAdjust="spacingAndGlyphs">+</text>
<text x="1081" y="1520.1" font-size="56" textLength="15.5" lengthAdjust="spacingAndGlyphs">)</text>
<text x="1097.5" y="1534.5" font-size="34" textLength="18" lengthAdjust="spacingAndGlyphs">x</text>
</g>
</svg>
</body></html>
